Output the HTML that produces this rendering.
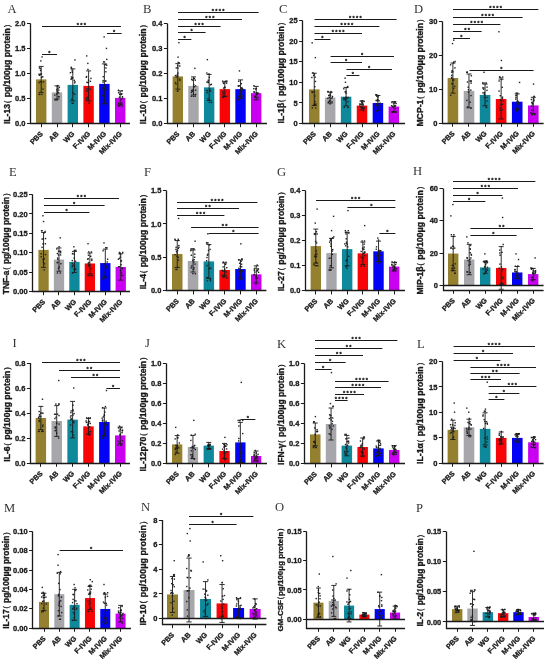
<!DOCTYPE html>
<html><head><meta charset="utf-8"><title>Cytokine bar charts</title><style>
html,body{margin:0;padding:0;background:#fff;}
svg{display:block}
text{font-family:'Liberation Sans', Arial, sans-serif;fill:#1a1a1a}
.tk{font-weight:bold;text-anchor:end;stroke:#1a1a1a;stroke-width:0.3px}
.xl{font-weight:bold;text-anchor:end;stroke:#1a1a1a;stroke-width:0.3px}
.st{font-size:5.6px;font-weight:bold;text-anchor:middle;letter-spacing:1.35px;stroke:#1a1a1a;stroke-width:0.3px}
.lt{font-family:'Liberation Serif', 'Times New Roman', serif;font-size:12.6px;fill:#333}
.yt{font-weight:bold;stroke:#1a1a1a;stroke-width:0.35px;font-family:'Liberation Sans','WenQuanYi Zen Hei',sans-serif}
</style></head>
<body><svg width="550" height="662" viewBox="0 0 550 662">
<g><rect x="36" y="79.4" width="10.4" height="44" fill="#95802f"/><rect x="51.8" y="92.4" width="10.4" height="31" fill="#a7a6ab"/><rect x="67.6" y="84.9" width="10.4" height="38.5" fill="#0e889b"/><rect x="83.4" y="85.9" width="10.4" height="37.5" fill="#f80306"/><rect x="99.2" y="83.9" width="10.4" height="39.5" fill="#0202f6"/><rect x="115" y="97.9" width="10.4" height="25.5" fill="#c900f2"/><rect x="40.87" y="81.36" width="1.4" height="1.4" fill="#222"/><rect x="40" y="73.38" width="1.4" height="1.4" fill="#222"/><rect x="42.79" y="81.05" width="1.4" height="1.4" fill="#222"/><rect x="38.32" y="81.98" width="1.4" height="1.4" fill="#222"/><rect x="42.22" y="88.37" width="1.4" height="1.4" fill="#222"/><rect x="39.49" y="80.92" width="1.4" height="1.4" fill="#222"/><rect x="38.79" y="67.14" width="1.4" height="1.4" fill="#222"/><rect x="38.67" y="74.29" width="1.4" height="1.4" fill="#222"/><rect x="39.58" y="67.92" width="1.4" height="1.4" fill="#222"/><rect x="42.02" y="76.11" width="1.4" height="1.4" fill="#222"/><rect x="38.97" y="74.59" width="1.4" height="1.4" fill="#222"/><rect x="40.89" y="76.77" width="1.4" height="1.4" fill="#222"/><rect x="41.17" y="93.65" width="1.4" height="1.4" fill="#222"/><rect x="39.89" y="69.81" width="1.4" height="1.4" fill="#222"/><rect x="40.73" y="73.43" width="1.4" height="1.4" fill="#222"/><rect x="38.4" y="73.51" width="1.4" height="1.4" fill="#222"/><rect x="38.39" y="93.65" width="1.4" height="1.4" fill="#222"/><rect x="39.09" y="93.65" width="1.4" height="1.4" fill="#222"/><rect x="41.37" y="56.2" width="1.4" height="1.4" fill="#222"/><rect x="40.15" y="60.2" width="1.4" height="1.4" fill="#222"/><rect x="54.09" y="94.41" width="1.4" height="1.4" fill="#222"/><rect x="57.11" y="85.35" width="1.4" height="1.4" fill="#222"/><rect x="57.57" y="95.9" width="1.4" height="1.4" fill="#222"/><rect x="56.65" y="90.43" width="1.4" height="1.4" fill="#222"/><rect x="58.1" y="89.48" width="1.4" height="1.4" fill="#222"/><rect x="55.41" y="99.17" width="1.4" height="1.4" fill="#222"/><rect x="57.24" y="91.45" width="1.4" height="1.4" fill="#222"/><rect x="56.75" y="84.91" width="1.4" height="1.4" fill="#222"/><rect x="56.68" y="99.17" width="1.4" height="1.4" fill="#222"/><rect x="56.09" y="93.37" width="1.4" height="1.4" fill="#222"/><rect x="57.93" y="92.25" width="1.4" height="1.4" fill="#222"/><rect x="58.43" y="95.95" width="1.4" height="1.4" fill="#222"/><rect x="56.18" y="89.11" width="1.4" height="1.4" fill="#222"/><rect x="57.09" y="92.02" width="1.4" height="1.4" fill="#222"/><rect x="54.19" y="99.17" width="1.4" height="1.4" fill="#222"/><rect x="57.27" y="87.4" width="1.4" height="1.4" fill="#222"/><rect x="57.01" y="88.22" width="1.4" height="1.4" fill="#222"/><rect x="58.67" y="86.78" width="1.4" height="1.4" fill="#222"/><rect x="73.63" y="79.63" width="1.4" height="1.4" fill="#222"/><rect x="73.85" y="93.62" width="1.4" height="1.4" fill="#222"/><rect x="71.04" y="98.53" width="1.4" height="1.4" fill="#222"/><rect x="71.69" y="71.69" width="1.4" height="1.4" fill="#222"/><rect x="71.42" y="70.1" width="1.4" height="1.4" fill="#222"/><rect x="73.94" y="82.19" width="1.4" height="1.4" fill="#222"/><rect x="74.3" y="81.05" width="1.4" height="1.4" fill="#222"/><rect x="70.42" y="78.64" width="1.4" height="1.4" fill="#222"/><rect x="70.55" y="66.6" width="1.4" height="1.4" fill="#222"/><rect x="70.81" y="76.28" width="1.4" height="1.4" fill="#222"/><rect x="70.82" y="77.56" width="1.4" height="1.4" fill="#222"/><rect x="72.03" y="77.19" width="1.4" height="1.4" fill="#222"/><rect x="72.53" y="102.6" width="1.4" height="1.4" fill="#222"/><rect x="70.96" y="67.79" width="1.4" height="1.4" fill="#222"/><rect x="69.72" y="71.97" width="1.4" height="1.4" fill="#222"/><rect x="71.71" y="77.42" width="1.4" height="1.4" fill="#222"/><rect x="71.47" y="102.6" width="1.4" height="1.4" fill="#222"/><rect x="72.42" y="92.31" width="1.4" height="1.4" fill="#222"/><rect x="74.27" y="59.2" width="1.4" height="1.4" fill="#222"/><rect x="85.75" y="90.48" width="1.4" height="1.4" fill="#222"/><rect x="85.5" y="98.65" width="1.4" height="1.4" fill="#222"/><rect x="86.23" y="98.52" width="1.4" height="1.4" fill="#222"/><rect x="85.99" y="97.34" width="1.4" height="1.4" fill="#222"/><rect x="87.25" y="68.7" width="1.4" height="1.4" fill="#222"/><rect x="85.62" y="76.64" width="1.4" height="1.4" fill="#222"/><rect x="89.7" y="80.62" width="1.4" height="1.4" fill="#222"/><rect x="88.45" y="102.45" width="1.4" height="1.4" fill="#222"/><rect x="86.21" y="81.65" width="1.4" height="1.4" fill="#222"/><rect x="86.71" y="96.64" width="1.4" height="1.4" fill="#222"/><rect x="87.17" y="89.72" width="1.4" height="1.4" fill="#222"/><rect x="87.25" y="81.87" width="1.4" height="1.4" fill="#222"/><rect x="86.09" y="88.06" width="1.4" height="1.4" fill="#222"/><rect x="89.57" y="88.41" width="1.4" height="1.4" fill="#222"/><rect x="90.27" y="77.71" width="1.4" height="1.4" fill="#222"/><rect x="87.74" y="81.83" width="1.4" height="1.4" fill="#222"/><rect x="87.82" y="79.47" width="1.4" height="1.4" fill="#222"/><rect x="85.91" y="75.88" width="1.4" height="1.4" fill="#222"/><rect x="85.99" y="55.2" width="1.4" height="1.4" fill="#222"/><rect x="87.14" y="62.7" width="1.4" height="1.4" fill="#222"/><rect x="105.04" y="85.98" width="1.4" height="1.4" fill="#222"/><rect x="102.88" y="61.2" width="1.4" height="1.4" fill="#222"/><rect x="102.37" y="81.37" width="1.4" height="1.4" fill="#222"/><rect x="105.2" y="80.26" width="1.4" height="1.4" fill="#222"/><rect x="106.03" y="64.51" width="1.4" height="1.4" fill="#222"/><rect x="105.39" y="89.15" width="1.4" height="1.4" fill="#222"/><rect x="105.17" y="71.08" width="1.4" height="1.4" fill="#222"/><rect x="105.23" y="67.25" width="1.4" height="1.4" fill="#222"/><rect x="104.85" y="63.87" width="1.4" height="1.4" fill="#222"/><rect x="102.39" y="79.88" width="1.4" height="1.4" fill="#222"/><rect x="103.78" y="61.2" width="1.4" height="1.4" fill="#222"/><rect x="103.01" y="87.5" width="1.4" height="1.4" fill="#222"/><rect x="101.44" y="87.33" width="1.4" height="1.4" fill="#222"/><rect x="101.43" y="94.94" width="1.4" height="1.4" fill="#222"/><rect x="102.64" y="89.67" width="1.4" height="1.4" fill="#222"/><rect x="102.54" y="76.01" width="1.4" height="1.4" fill="#222"/><rect x="104.62" y="80.49" width="1.4" height="1.4" fill="#222"/><rect x="105.89" y="102.75" width="1.4" height="1.4" fill="#222"/><rect x="103.45" y="36.2" width="1.4" height="1.4" fill="#222"/><rect x="105.8" y="47.7" width="1.4" height="1.4" fill="#222"/><rect x="106.04" y="58.7" width="1.4" height="1.4" fill="#222"/><rect x="117.96" y="92.08" width="1.4" height="1.4" fill="#222"/><rect x="120.89" y="98.69" width="1.4" height="1.4" fill="#222"/><rect x="118.7" y="96.46" width="1.4" height="1.4" fill="#222"/><rect x="120.94" y="93.25" width="1.4" height="1.4" fill="#222"/><rect x="121.76" y="95.96" width="1.4" height="1.4" fill="#222"/><rect x="119" y="93.62" width="1.4" height="1.4" fill="#222"/><rect x="119.03" y="105.25" width="1.4" height="1.4" fill="#222"/><rect x="121.64" y="105.25" width="1.4" height="1.4" fill="#222"/><rect x="120.58" y="93.76" width="1.4" height="1.4" fill="#222"/><rect x="117.92" y="102.59" width="1.4" height="1.4" fill="#222"/><rect x="117.71" y="102.95" width="1.4" height="1.4" fill="#222"/><rect x="117.83" y="105.25" width="1.4" height="1.4" fill="#222"/><rect x="121.44" y="90.11" width="1.4" height="1.4" fill="#222"/><rect x="120.97" y="93.02" width="1.4" height="1.4" fill="#222"/><rect x="117.8" y="89.5" width="1.4" height="1.4" fill="#222"/><rect x="121.07" y="102.45" width="1.4" height="1.4" fill="#222"/><rect x="121.81" y="97.19" width="1.4" height="1.4" fill="#222"/><rect x="120.25" y="103.59" width="1.4" height="1.4" fill="#222"/><path d="M41.2 66.4V92.4M38.7 66.4H43.7M38.7 92.4H43.7" stroke="#1a1a1a" stroke-width="0.9" fill="none"/><path d="M57 85.9V98.9M54.5 85.9H59.5M54.5 98.9H59.5" stroke="#1a1a1a" stroke-width="0.9" fill="none"/><path d="M72.8 68.9V100.9M70.3 68.9H75.3M70.3 100.9H75.3" stroke="#1a1a1a" stroke-width="0.9" fill="none"/><path d="M88.6 70.9V100.9M86.1 70.9H91.1M86.1 100.9H91.1" stroke="#1a1a1a" stroke-width="0.9" fill="none"/><path d="M104.4 63.9V103.9M101.9 63.9H106.9M101.9 103.9H106.9" stroke="#1a1a1a" stroke-width="0.9" fill="none"/><path d="M120.2 90.9V104.9M117.7 90.9H122.7M117.7 104.9H122.7" stroke="#1a1a1a" stroke-width="0.9" fill="none"/><path d="M30.5 23.4V123.5H130" stroke="#1a1a1a" stroke-width="1.3" fill="none"/><path d="M27 123.5H30.5" stroke="#1a1a1a" stroke-width="1"/><text x="25.5" y="126.1" class="tk" style="font-size:7.5px">0.0</text><path d="M27 98.5H30.5" stroke="#1a1a1a" stroke-width="1"/><text x="25.5" y="101.1" class="tk" style="font-size:7.5px">0.5</text><path d="M27 73.5H30.5" stroke="#1a1a1a" stroke-width="1"/><text x="25.5" y="76.1" class="tk" style="font-size:7.5px">1.0</text><path d="M27 48.5H30.5" stroke="#1a1a1a" stroke-width="1"/><text x="25.5" y="51.1" class="tk" style="font-size:7.5px">1.5</text><path d="M27 23.5H30.5" stroke="#1a1a1a" stroke-width="1"/><text x="25.5" y="26.1" class="tk" style="font-size:7.5px">2.0</text><path d="M41.5 123.4v3.8" stroke="#1a1a1a" stroke-width="1"/><text class="xl" style="font-size:7.2px" transform="translate(43.4 134.4) rotate(-45)">PBS</text><path d="M57.5 123.4v3.8" stroke="#1a1a1a" stroke-width="1"/><text class="xl" style="font-size:7.2px" transform="translate(59.2 134.4) rotate(-45)">AB</text><path d="M72.5 123.4v3.8" stroke="#1a1a1a" stroke-width="1"/><text class="xl" style="font-size:7.2px" transform="translate(75 134.4) rotate(-45)">WG</text><path d="M88.5 123.4v3.8" stroke="#1a1a1a" stroke-width="1"/><text class="xl" style="font-size:7.2px" transform="translate(90.8 134.4) rotate(-45)">F-IVIG</text><path d="M104.5 123.4v3.8" stroke="#1a1a1a" stroke-width="1"/><text class="xl" style="font-size:7.2px" transform="translate(106.6 134.4) rotate(-45)">M-IVIG</text><path d="M120.5 123.4v3.8" stroke="#1a1a1a" stroke-width="1"/><text class="xl" style="font-size:7.2px" transform="translate(122.4 134.4) rotate(-45)">Mix-IVIG</text><path d="M42 26.5H121" stroke="#1a1a1a" stroke-width="1"/><text x="82" y="26.7" class="st">***</text><path d="M107 33.5H121.6" stroke="#1a1a1a" stroke-width="1"/><text x="114.8" y="33.7" class="st">*</text><path d="M42 54.5H57" stroke="#1a1a1a" stroke-width="1"/><text x="50" y="54.7" class="st">*</text><text x="7.5" y="12.8" class="lt">A</text><text class="yt" style="font-size:8.6px" transform="translate(9.5 124.1) rotate(-90)">IL-13<tspan dx="-4.3">（</tspan><tspan> pg/100μg protein）</tspan></text></g>
<g><rect x="172.6" y="76.4" width="10.4" height="47" fill="#95802f"/><rect x="188.28" y="85.9" width="10.4" height="37.5" fill="#a7a6ab"/><rect x="203.96" y="87.4" width="10.4" height="36" fill="#0e889b"/><rect x="219.64" y="89.15" width="10.4" height="34.25" fill="#f80306"/><rect x="235.32" y="89.15" width="10.4" height="34.25" fill="#0202f6"/><rect x="251" y="93.15" width="10.4" height="30.25" fill="#c900f2"/><rect x="175.33" y="83.29" width="1.4" height="1.4" fill="#222"/><rect x="179.07" y="65.31" width="1.4" height="1.4" fill="#222"/><rect x="176.4" y="74.53" width="1.4" height="1.4" fill="#222"/><rect x="176.9" y="74.43" width="1.4" height="1.4" fill="#222"/><rect x="177.5" y="61.68" width="1.4" height="1.4" fill="#222"/><rect x="179.04" y="78.39" width="1.4" height="1.4" fill="#222"/><rect x="176.72" y="90.36" width="1.4" height="1.4" fill="#222"/><rect x="179.11" y="79.65" width="1.4" height="1.4" fill="#222"/><rect x="177.11" y="90.36" width="1.4" height="1.4" fill="#222"/><rect x="177.25" y="67.35" width="1.4" height="1.4" fill="#222"/><rect x="177.21" y="72.47" width="1.4" height="1.4" fill="#222"/><rect x="174.79" y="81.93" width="1.4" height="1.4" fill="#222"/><rect x="176.81" y="75.8" width="1.4" height="1.4" fill="#222"/><rect x="175.58" y="67.21" width="1.4" height="1.4" fill="#222"/><rect x="174.72" y="74.89" width="1.4" height="1.4" fill="#222"/><rect x="178.54" y="62.17" width="1.4" height="1.4" fill="#222"/><rect x="175.53" y="76.33" width="1.4" height="1.4" fill="#222"/><rect x="176.97" y="65.09" width="1.4" height="1.4" fill="#222"/><rect x="178.18" y="41.95" width="1.4" height="1.4" fill="#222"/><rect x="177.37" y="56.45" width="1.4" height="1.4" fill="#222"/><rect x="192.55" y="89.2" width="1.4" height="1.4" fill="#222"/><rect x="192.94" y="77.47" width="1.4" height="1.4" fill="#222"/><rect x="192.67" y="95.55" width="1.4" height="1.4" fill="#222"/><rect x="194.9" y="89.5" width="1.4" height="1.4" fill="#222"/><rect x="193.74" y="77.95" width="1.4" height="1.4" fill="#222"/><rect x="194.59" y="79.49" width="1.4" height="1.4" fill="#222"/><rect x="194.9" y="85.15" width="1.4" height="1.4" fill="#222"/><rect x="191.63" y="79.4" width="1.4" height="1.4" fill="#222"/><rect x="193.07" y="84" width="1.4" height="1.4" fill="#222"/><rect x="194.91" y="93.69" width="1.4" height="1.4" fill="#222"/><rect x="194.41" y="95.55" width="1.4" height="1.4" fill="#222"/><rect x="191.04" y="89.8" width="1.4" height="1.4" fill="#222"/><rect x="190.96" y="78.56" width="1.4" height="1.4" fill="#222"/><rect x="192.5" y="89.27" width="1.4" height="1.4" fill="#222"/><rect x="190.73" y="91.7" width="1.4" height="1.4" fill="#222"/><rect x="191.54" y="90.75" width="1.4" height="1.4" fill="#222"/><rect x="190.73" y="95.55" width="1.4" height="1.4" fill="#222"/><rect x="193.59" y="86.04" width="1.4" height="1.4" fill="#222"/><rect x="194.14" y="67.7" width="1.4" height="1.4" fill="#222"/><rect x="207.59" y="81.89" width="1.4" height="1.4" fill="#222"/><rect x="209.53" y="90.33" width="1.4" height="1.4" fill="#222"/><rect x="206.15" y="89.93" width="1.4" height="1.4" fill="#222"/><rect x="208.72" y="101.64" width="1.4" height="1.4" fill="#222"/><rect x="208.17" y="73.29" width="1.4" height="1.4" fill="#222"/><rect x="206.15" y="72.4" width="1.4" height="1.4" fill="#222"/><rect x="207.65" y="79.53" width="1.4" height="1.4" fill="#222"/><rect x="209.05" y="88.18" width="1.4" height="1.4" fill="#222"/><rect x="208.52" y="76.68" width="1.4" height="1.4" fill="#222"/><rect x="206.37" y="89.78" width="1.4" height="1.4" fill="#222"/><rect x="210.79" y="101.65" width="1.4" height="1.4" fill="#222"/><rect x="209.84" y="84.18" width="1.4" height="1.4" fill="#222"/><rect x="210.72" y="83.64" width="1.4" height="1.4" fill="#222"/><rect x="206.56" y="92.06" width="1.4" height="1.4" fill="#222"/><rect x="207.33" y="98.08" width="1.4" height="1.4" fill="#222"/><rect x="206.25" y="81.48" width="1.4" height="1.4" fill="#222"/><rect x="209.8" y="90.35" width="1.4" height="1.4" fill="#222"/><rect x="207.36" y="80.88" width="1.4" height="1.4" fill="#222"/><rect x="206.68" y="58.95" width="1.4" height="1.4" fill="#222"/><rect x="222.06" y="96.79" width="1.4" height="1.4" fill="#222"/><rect x="225.88" y="82.46" width="1.4" height="1.4" fill="#222"/><rect x="223.92" y="86.57" width="1.4" height="1.4" fill="#222"/><rect x="223.37" y="92.52" width="1.4" height="1.4" fill="#222"/><rect x="224.39" y="80.76" width="1.4" height="1.4" fill="#222"/><rect x="226.19" y="80.48" width="1.4" height="1.4" fill="#222"/><rect x="223.03" y="96.58" width="1.4" height="1.4" fill="#222"/><rect x="222.36" y="92.31" width="1.4" height="1.4" fill="#222"/><rect x="224.27" y="86.76" width="1.4" height="1.4" fill="#222"/><rect x="222.88" y="87.39" width="1.4" height="1.4" fill="#222"/><rect x="222.27" y="90.76" width="1.4" height="1.4" fill="#222"/><rect x="222.51" y="94.1" width="1.4" height="1.4" fill="#222"/><rect x="221.98" y="80.48" width="1.4" height="1.4" fill="#222"/><rect x="222.71" y="82.43" width="1.4" height="1.4" fill="#222"/><rect x="223.24" y="95.38" width="1.4" height="1.4" fill="#222"/><rect x="223.2" y="96.25" width="1.4" height="1.4" fill="#222"/><rect x="225.39" y="80.48" width="1.4" height="1.4" fill="#222"/><rect x="223.13" y="82.71" width="1.4" height="1.4" fill="#222"/><rect x="240.72" y="93.08" width="1.4" height="1.4" fill="#222"/><rect x="242.14" y="88.45" width="1.4" height="1.4" fill="#222"/><rect x="239.06" y="89.26" width="1.4" height="1.4" fill="#222"/><rect x="241.41" y="87.29" width="1.4" height="1.4" fill="#222"/><rect x="240.81" y="88.45" width="1.4" height="1.4" fill="#222"/><rect x="240.47" y="87.15" width="1.4" height="1.4" fill="#222"/><rect x="239.36" y="89.44" width="1.4" height="1.4" fill="#222"/><rect x="239.09" y="97.76" width="1.4" height="1.4" fill="#222"/><rect x="237.68" y="85.33" width="1.4" height="1.4" fill="#222"/><rect x="238.04" y="80.65" width="1.4" height="1.4" fill="#222"/><rect x="237.76" y="85.23" width="1.4" height="1.4" fill="#222"/><rect x="240.98" y="89.85" width="1.4" height="1.4" fill="#222"/><rect x="238.65" y="85.15" width="1.4" height="1.4" fill="#222"/><rect x="238.2" y="95.6" width="1.4" height="1.4" fill="#222"/><rect x="237.83" y="99.09" width="1.4" height="1.4" fill="#222"/><rect x="241.46" y="88.01" width="1.4" height="1.4" fill="#222"/><rect x="241.6" y="95.34" width="1.4" height="1.4" fill="#222"/><rect x="240.64" y="82.98" width="1.4" height="1.4" fill="#222"/><rect x="238.77" y="70.2" width="1.4" height="1.4" fill="#222"/><rect x="255.52" y="92.23" width="1.4" height="1.4" fill="#222"/><rect x="253.12" y="87.96" width="1.4" height="1.4" fill="#222"/><rect x="254.37" y="95.51" width="1.4" height="1.4" fill="#222"/><rect x="253.53" y="91.65" width="1.4" height="1.4" fill="#222"/><rect x="255.02" y="96.43" width="1.4" height="1.4" fill="#222"/><rect x="253.3" y="91.04" width="1.4" height="1.4" fill="#222"/><rect x="253.21" y="85.03" width="1.4" height="1.4" fill="#222"/><rect x="254.56" y="95.89" width="1.4" height="1.4" fill="#222"/><rect x="254.22" y="96.32" width="1.4" height="1.4" fill="#222"/><rect x="255.91" y="93.63" width="1.4" height="1.4" fill="#222"/><rect x="255.64" y="87.91" width="1.4" height="1.4" fill="#222"/><rect x="256.7" y="93.44" width="1.4" height="1.4" fill="#222"/><rect x="256.26" y="92.61" width="1.4" height="1.4" fill="#222"/><rect x="256.54" y="92.25" width="1.4" height="1.4" fill="#222"/><rect x="257.32" y="96.96" width="1.4" height="1.4" fill="#222"/><rect x="254.97" y="88.3" width="1.4" height="1.4" fill="#222"/><rect x="254.67" y="96.07" width="1.4" height="1.4" fill="#222"/><rect x="257.83" y="92.51" width="1.4" height="1.4" fill="#222"/><path d="M177.8 63.65V89.15M175.3 63.65H180.3M175.3 89.15H180.3" stroke="#1a1a1a" stroke-width="0.9" fill="none"/><path d="M193.48 76.9V94.9M190.98 76.9H195.98M190.98 94.9H195.98" stroke="#1a1a1a" stroke-width="0.9" fill="none"/><path d="M209.16 74.4V100.4M206.66 74.4H211.66M206.66 100.4H211.66" stroke="#1a1a1a" stroke-width="0.9" fill="none"/><path d="M224.84 81.9V96.4M222.34 81.9H227.34M222.34 96.4H227.34" stroke="#1a1a1a" stroke-width="0.9" fill="none"/><path d="M240.52 79.9V98.4M238.02 79.9H243.02M238.02 98.4H243.02" stroke="#1a1a1a" stroke-width="0.9" fill="none"/><path d="M256.2 86.4V99.9M253.7 86.4H258.7M253.7 99.9H258.7" stroke="#1a1a1a" stroke-width="0.9" fill="none"/><path d="M167.5 23.4V123.5H267" stroke="#1a1a1a" stroke-width="1.3" fill="none"/><path d="M163.9 123.5H167.4" stroke="#1a1a1a" stroke-width="1"/><text x="162.4" y="126.1" class="tk" style="font-size:7.5px">0.0</text><path d="M163.9 98.5H167.4" stroke="#1a1a1a" stroke-width="1"/><text x="162.4" y="101.1" class="tk" style="font-size:7.5px">0.1</text><path d="M163.9 73.5H167.4" stroke="#1a1a1a" stroke-width="1"/><text x="162.4" y="76.1" class="tk" style="font-size:7.5px">0.2</text><path d="M163.9 48.5H167.4" stroke="#1a1a1a" stroke-width="1"/><text x="162.4" y="51.1" class="tk" style="font-size:7.5px">0.3</text><path d="M163.9 23.5H167.4" stroke="#1a1a1a" stroke-width="1"/><text x="162.4" y="26.1" class="tk" style="font-size:7.5px">0.4</text><path d="M177.5 123.4v3.8" stroke="#1a1a1a" stroke-width="1"/><text class="xl" style="font-size:7.2px" transform="translate(180 134.4) rotate(-45)">PBS</text><path d="M193.5 123.4v3.8" stroke="#1a1a1a" stroke-width="1"/><text class="xl" style="font-size:7.2px" transform="translate(195.68 134.4) rotate(-45)">AB</text><path d="M209.5 123.4v3.8" stroke="#1a1a1a" stroke-width="1"/><text class="xl" style="font-size:7.2px" transform="translate(211.36 134.4) rotate(-45)">WG</text><path d="M224.5 123.4v3.8" stroke="#1a1a1a" stroke-width="1"/><text class="xl" style="font-size:7.2px" transform="translate(227.04 134.4) rotate(-45)">F-IVIG</text><path d="M240.5 123.4v3.8" stroke="#1a1a1a" stroke-width="1"/><text class="xl" style="font-size:7.2px" transform="translate(242.72 134.4) rotate(-45)">M-IVIG</text><path d="M256.5 123.4v3.8" stroke="#1a1a1a" stroke-width="1"/><text class="xl" style="font-size:7.2px" transform="translate(258.4 134.4) rotate(-45)">Mix-IVIG</text><path d="M178 12.5H258.6" stroke="#1a1a1a" stroke-width="1"/><text x="218.8" y="12.7" class="st">****</text><path d="M178 19.5H242" stroke="#1a1a1a" stroke-width="1"/><text x="210.5" y="19.7" class="st">***</text><path d="M178 26.5H220.6" stroke="#1a1a1a" stroke-width="1"/><text x="199.8" y="26.7" class="st">***</text><path d="M178 32.5H205.6" stroke="#1a1a1a" stroke-width="1"/><text x="192.3" y="32.7" class="st">*</text><path d="M178 39.5H191.4" stroke="#1a1a1a" stroke-width="1"/><text x="185.2" y="39.7" class="st">*</text><text x="143" y="13" class="lt">B</text><text class="yt" style="font-size:8.57px" transform="translate(145.6 124.2) rotate(-90)">IL-10<tspan dx="-4.29">（</tspan><tspan> pg/100μg protein）</tspan></text></g>
<g><rect x="309" y="89.39" width="10.5" height="34.01" fill="#95802f"/><rect x="324.92" y="97.62" width="10.5" height="25.78" fill="#a7a6ab"/><rect x="340.84" y="96.67" width="10.5" height="26.73" fill="#0e889b"/><rect x="356.76" y="105.6" width="10.5" height="17.8" fill="#f80306"/><rect x="372.68" y="103" width="10.5" height="20.4" fill="#0202f6"/><rect x="388.6" y="106.58" width="10.5" height="16.82" fill="#c900f2"/><rect x="314.48" y="76.44" width="1.4" height="1.4" fill="#222"/><rect x="312.25" y="71.95" width="1.4" height="1.4" fill="#222"/><rect x="311.3" y="91.1" width="1.4" height="1.4" fill="#222"/><rect x="311.79" y="91.72" width="1.4" height="1.4" fill="#222"/><rect x="312.88" y="74.77" width="1.4" height="1.4" fill="#222"/><rect x="311.65" y="107.28" width="1.4" height="1.4" fill="#222"/><rect x="315.16" y="103.35" width="1.4" height="1.4" fill="#222"/><rect x="313.83" y="103.78" width="1.4" height="1.4" fill="#222"/><rect x="314.16" y="86" width="1.4" height="1.4" fill="#222"/><rect x="314.16" y="95.24" width="1.4" height="1.4" fill="#222"/><rect x="314.42" y="103.84" width="1.4" height="1.4" fill="#222"/><rect x="313.5" y="90.97" width="1.4" height="1.4" fill="#222"/><rect x="311.17" y="76.81" width="1.4" height="1.4" fill="#222"/><rect x="314.98" y="107.28" width="1.4" height="1.4" fill="#222"/><rect x="314.74" y="80.78" width="1.4" height="1.4" fill="#222"/><rect x="313.56" y="103.88" width="1.4" height="1.4" fill="#222"/><rect x="313.72" y="73.38" width="1.4" height="1.4" fill="#222"/><rect x="314.31" y="100.91" width="1.4" height="1.4" fill="#222"/><rect x="311.47" y="42.1" width="1.4" height="1.4" fill="#222"/><rect x="314.69" y="56.91" width="1.4" height="1.4" fill="#222"/><rect x="328.53" y="96.94" width="1.4" height="1.4" fill="#222"/><rect x="329.8" y="95.2" width="1.4" height="1.4" fill="#222"/><rect x="327.13" y="97.61" width="1.4" height="1.4" fill="#222"/><rect x="327.36" y="90.9" width="1.4" height="1.4" fill="#222"/><rect x="328.36" y="94.92" width="1.4" height="1.4" fill="#222"/><rect x="330.3" y="90.9" width="1.4" height="1.4" fill="#222"/><rect x="330.39" y="91.87" width="1.4" height="1.4" fill="#222"/><rect x="330.31" y="97.69" width="1.4" height="1.4" fill="#222"/><rect x="328.47" y="100.61" width="1.4" height="1.4" fill="#222"/><rect x="329.55" y="93.56" width="1.4" height="1.4" fill="#222"/><rect x="329.3" y="99.94" width="1.4" height="1.4" fill="#222"/><rect x="329.31" y="103.21" width="1.4" height="1.4" fill="#222"/><rect x="327.64" y="101.57" width="1.4" height="1.4" fill="#222"/><rect x="331.36" y="101.13" width="1.4" height="1.4" fill="#222"/><rect x="328.03" y="94.73" width="1.4" height="1.4" fill="#222"/><rect x="331.77" y="95.76" width="1.4" height="1.4" fill="#222"/><rect x="331.56" y="97.1" width="1.4" height="1.4" fill="#222"/><rect x="327.15" y="90.9" width="1.4" height="1.4" fill="#222"/><rect x="347.3" y="106.61" width="1.4" height="1.4" fill="#222"/><rect x="345.32" y="92.48" width="1.4" height="1.4" fill="#222"/><rect x="343.11" y="88.05" width="1.4" height="1.4" fill="#222"/><rect x="343.01" y="97.58" width="1.4" height="1.4" fill="#222"/><rect x="345.35" y="96.57" width="1.4" height="1.4" fill="#222"/><rect x="345.15" y="90.93" width="1.4" height="1.4" fill="#222"/><rect x="344.44" y="91.17" width="1.4" height="1.4" fill="#222"/><rect x="343.67" y="97.68" width="1.4" height="1.4" fill="#222"/><rect x="344.64" y="99.54" width="1.4" height="1.4" fill="#222"/><rect x="344.51" y="97.98" width="1.4" height="1.4" fill="#222"/><rect x="347.02" y="106.61" width="1.4" height="1.4" fill="#222"/><rect x="343" y="98.73" width="1.4" height="1.4" fill="#222"/><rect x="346.59" y="86.75" width="1.4" height="1.4" fill="#222"/><rect x="347.02" y="85.82" width="1.4" height="1.4" fill="#222"/><rect x="343.57" y="106.61" width="1.4" height="1.4" fill="#222"/><rect x="347.44" y="96.82" width="1.4" height="1.4" fill="#222"/><rect x="346.41" y="97.52" width="1.4" height="1.4" fill="#222"/><rect x="347.32" y="101.11" width="1.4" height="1.4" fill="#222"/><rect x="344.38" y="77.47" width="1.4" height="1.4" fill="#222"/><rect x="344.78" y="81.58" width="1.4" height="1.4" fill="#222"/><rect x="362.81" y="109.95" width="1.4" height="1.4" fill="#222"/><rect x="361.94" y="100.06" width="1.4" height="1.4" fill="#222"/><rect x="363.29" y="107.72" width="1.4" height="1.4" fill="#222"/><rect x="363.43" y="106.66" width="1.4" height="1.4" fill="#222"/><rect x="361.55" y="107.44" width="1.4" height="1.4" fill="#222"/><rect x="362.36" y="103.66" width="1.4" height="1.4" fill="#222"/><rect x="359.15" y="103.34" width="1.4" height="1.4" fill="#222"/><rect x="362.43" y="104.41" width="1.4" height="1.4" fill="#222"/><rect x="361.07" y="103.43" width="1.4" height="1.4" fill="#222"/><rect x="362.52" y="107.38" width="1.4" height="1.4" fill="#222"/><rect x="362" y="102.44" width="1.4" height="1.4" fill="#222"/><rect x="360.28" y="105.94" width="1.4" height="1.4" fill="#222"/><rect x="359.15" y="105.31" width="1.4" height="1.4" fill="#222"/><rect x="363.36" y="100.71" width="1.4" height="1.4" fill="#222"/><rect x="359.52" y="103.64" width="1.4" height="1.4" fill="#222"/><rect x="361.18" y="101.73" width="1.4" height="1.4" fill="#222"/><rect x="360.56" y="100.06" width="1.4" height="1.4" fill="#222"/><rect x="360.34" y="106.88" width="1.4" height="1.4" fill="#222"/><rect x="375.27" y="103.44" width="1.4" height="1.4" fill="#222"/><rect x="376.47" y="111.01" width="1.4" height="1.4" fill="#222"/><rect x="375.27" y="102.87" width="1.4" height="1.4" fill="#222"/><rect x="375.98" y="93.98" width="1.4" height="1.4" fill="#222"/><rect x="376.07" y="104.73" width="1.4" height="1.4" fill="#222"/><rect x="377.56" y="94.97" width="1.4" height="1.4" fill="#222"/><rect x="379.09" y="105.19" width="1.4" height="1.4" fill="#222"/><rect x="378.43" y="100.05" width="1.4" height="1.4" fill="#222"/><rect x="376.81" y="100.13" width="1.4" height="1.4" fill="#222"/><rect x="376.82" y="98.79" width="1.4" height="1.4" fill="#222"/><rect x="377.35" y="96.41" width="1.4" height="1.4" fill="#222"/><rect x="376.64" y="106.26" width="1.4" height="1.4" fill="#222"/><rect x="376.45" y="99.84" width="1.4" height="1.4" fill="#222"/><rect x="375.13" y="93.98" width="1.4" height="1.4" fill="#222"/><rect x="376.16" y="95.69" width="1.4" height="1.4" fill="#222"/><rect x="379.47" y="102.45" width="1.4" height="1.4" fill="#222"/><rect x="375.43" y="99.77" width="1.4" height="1.4" fill="#222"/><rect x="377.25" y="99.26" width="1.4" height="1.4" fill="#222"/><rect x="395.2" y="111.33" width="1.4" height="1.4" fill="#222"/><rect x="394.71" y="111.6" width="1.4" height="1.4" fill="#222"/><rect x="394.86" y="105.21" width="1.4" height="1.4" fill="#222"/><rect x="395.42" y="102.79" width="1.4" height="1.4" fill="#222"/><rect x="391.94" y="105.84" width="1.4" height="1.4" fill="#222"/><rect x="391.27" y="101.86" width="1.4" height="1.4" fill="#222"/><rect x="391.49" y="111.6" width="1.4" height="1.4" fill="#222"/><rect x="393.26" y="102.59" width="1.4" height="1.4" fill="#222"/><rect x="394.02" y="101.18" width="1.4" height="1.4" fill="#222"/><rect x="395.27" y="111.6" width="1.4" height="1.4" fill="#222"/><rect x="394.21" y="104.87" width="1.4" height="1.4" fill="#222"/><rect x="393.86" y="105.74" width="1.4" height="1.4" fill="#222"/><rect x="394.42" y="108.01" width="1.4" height="1.4" fill="#222"/><rect x="392.95" y="111.6" width="1.4" height="1.4" fill="#222"/><rect x="393.4" y="111.1" width="1.4" height="1.4" fill="#222"/><rect x="390.94" y="105" width="1.4" height="1.4" fill="#222"/><rect x="394.51" y="101.91" width="1.4" height="1.4" fill="#222"/><rect x="391.87" y="105.88" width="1.4" height="1.4" fill="#222"/><path d="M314.25 73.23V105.55M311.73 73.23H316.77M311.73 105.55H316.77" stroke="#1a1a1a" stroke-width="0.9" fill="none"/><path d="M330.17 92.15V103.09M327.65 92.15H332.69M327.65 103.09H332.69" stroke="#1a1a1a" stroke-width="0.9" fill="none"/><path d="M346.09 87.42V105.92M343.57 87.42H348.61M343.57 105.92H348.61" stroke="#1a1a1a" stroke-width="0.9" fill="none"/><path d="M362.01 101.2V109.99M359.49 101.2H364.53M359.49 109.99H364.53" stroke="#1a1a1a" stroke-width="0.9" fill="none"/><path d="M377.93 95.44V110.57M375.41 95.44H380.45M375.41 110.57H380.45" stroke="#1a1a1a" stroke-width="0.9" fill="none"/><path d="M393.85 101.61V111.56M391.33 101.61H396.37M391.33 111.56H396.37" stroke="#1a1a1a" stroke-width="0.9" fill="none"/><path d="M302.5 20.6V123.5H405" stroke="#1a1a1a" stroke-width="1.3" fill="none"/><path d="M299.1 123.5H302.6" stroke="#1a1a1a" stroke-width="1"/><text x="297.6" y="126.1" class="tk" style="font-size:7.5px">0</text><path d="M299.1 102.5H302.6" stroke="#1a1a1a" stroke-width="1"/><text x="297.6" y="105.54" class="tk" style="font-size:7.5px">5</text><path d="M299.1 82.5H302.6" stroke="#1a1a1a" stroke-width="1"/><text x="297.6" y="84.98" class="tk" style="font-size:7.5px">10</text><path d="M299.1 61.5H302.6" stroke="#1a1a1a" stroke-width="1"/><text x="297.6" y="64.42" class="tk" style="font-size:7.5px">15</text><path d="M299.1 41.5H302.6" stroke="#1a1a1a" stroke-width="1"/><text x="297.6" y="43.86" class="tk" style="font-size:7.5px">20</text><path d="M299.1 20.5H302.6" stroke="#1a1a1a" stroke-width="1"/><text x="297.6" y="23.3" class="tk" style="font-size:7.5px">25</text><path d="M314.5 123.4v3.8" stroke="#1a1a1a" stroke-width="1"/><text class="xl" style="font-size:7.2px" transform="translate(316.45 134.4) rotate(-45)">PBS</text><path d="M330.5 123.4v3.8" stroke="#1a1a1a" stroke-width="1"/><text class="xl" style="font-size:7.2px" transform="translate(332.37 134.4) rotate(-45)">AB</text><path d="M346.5 123.4v3.8" stroke="#1a1a1a" stroke-width="1"/><text class="xl" style="font-size:7.2px" transform="translate(348.29 134.4) rotate(-45)">WG</text><path d="M362.5 123.4v3.8" stroke="#1a1a1a" stroke-width="1"/><text class="xl" style="font-size:7.2px" transform="translate(364.21 134.4) rotate(-45)">F-IVIG</text><path d="M377.5 123.4v3.8" stroke="#1a1a1a" stroke-width="1"/><text class="xl" style="font-size:7.2px" transform="translate(380.13 134.4) rotate(-45)">M-IVIG</text><path d="M393.5 123.4v3.8" stroke="#1a1a1a" stroke-width="1"/><text class="xl" style="font-size:7.2px" transform="translate(396.05 134.4) rotate(-45)">Mix-IVIG</text><path d="M314.5 19.5H396.6" stroke="#1a1a1a" stroke-width="1"/><text x="356.05" y="19.7" class="st">****</text><path d="M314.5 26.5H379.4" stroke="#1a1a1a" stroke-width="1"/><text x="347.45" y="26.7" class="st">****</text><path d="M314.5 33.5H362" stroke="#1a1a1a" stroke-width="1"/><text x="338.75" y="33.7" class="st">****</text><path d="M314.5 39.5H330.4" stroke="#1a1a1a" stroke-width="1"/><text x="322.95" y="39.7" class="st">*</text><path d="M330.6 56.5H394" stroke="#1a1a1a" stroke-width="1"/><text x="362.8" y="56.7" class="st">*</text><path d="M330.6 62.5H362" stroke="#1a1a1a" stroke-width="1"/><text x="346.8" y="62.7" class="st">*</text><path d="M346.4 69.5H392" stroke="#1a1a1a" stroke-width="1"/><text x="369.7" y="69.7" class="st">*</text><path d="M346.4 75.5H359.4" stroke="#1a1a1a" stroke-width="1"/><text x="353.4" y="75.7" class="st">*</text><text x="279" y="13" class="lt">C</text><text class="yt" style="font-size:8.68px" transform="translate(283.7 123.5) rotate(-90)">IL-1β<tspan dx="-4.34">（</tspan><tspan> pg/100μg protein）</tspan></text></g>
<g><rect x="447.6" y="78.05" width="10.6" height="44.95" fill="#95802f"/><rect x="463.68" y="90.89" width="10.6" height="32.11" fill="#a7a6ab"/><rect x="479.76" y="94.95" width="10.6" height="28.05" fill="#0e889b"/><rect x="495.84" y="99" width="10.6" height="24" fill="#f80306"/><rect x="511.92" y="101.71" width="10.6" height="21.29" fill="#0202f6"/><rect x="528" y="105.42" width="10.6" height="17.58" fill="#c900f2"/><rect x="452.89" y="62.16" width="1.4" height="1.4" fill="#222"/><rect x="454.04" y="85.7" width="1.4" height="1.4" fill="#222"/><rect x="452.08" y="79.43" width="1.4" height="1.4" fill="#222"/><rect x="450.93" y="71.41" width="1.4" height="1.4" fill="#222"/><rect x="450.99" y="77.54" width="1.4" height="1.4" fill="#222"/><rect x="454.41" y="60.8" width="1.4" height="1.4" fill="#222"/><rect x="453.18" y="79.21" width="1.4" height="1.4" fill="#222"/><rect x="451.28" y="82.91" width="1.4" height="1.4" fill="#222"/><rect x="449.9" y="64.09" width="1.4" height="1.4" fill="#222"/><rect x="452.19" y="71.07" width="1.4" height="1.4" fill="#222"/><rect x="453.04" y="87.69" width="1.4" height="1.4" fill="#222"/><rect x="451.82" y="83.28" width="1.4" height="1.4" fill="#222"/><rect x="451.03" y="74.65" width="1.4" height="1.4" fill="#222"/><rect x="453" y="61.26" width="1.4" height="1.4" fill="#222"/><rect x="454.24" y="67.17" width="1.4" height="1.4" fill="#222"/><rect x="450.89" y="76.68" width="1.4" height="1.4" fill="#222"/><rect x="449.96" y="94.64" width="1.4" height="1.4" fill="#222"/><rect x="451.42" y="69.91" width="1.4" height="1.4" fill="#222"/><rect x="451.82" y="42.87" width="1.4" height="1.4" fill="#222"/><rect x="453.08" y="39.49" width="1.4" height="1.4" fill="#222"/><rect x="470.43" y="82.45" width="1.4" height="1.4" fill="#222"/><rect x="466.58" y="71.6" width="1.4" height="1.4" fill="#222"/><rect x="467.77" y="91.28" width="1.4" height="1.4" fill="#222"/><rect x="466.9" y="106.18" width="1.4" height="1.4" fill="#222"/><rect x="470.56" y="80.25" width="1.4" height="1.4" fill="#222"/><rect x="466.56" y="71.6" width="1.4" height="1.4" fill="#222"/><rect x="466.13" y="99.66" width="1.4" height="1.4" fill="#222"/><rect x="466.17" y="71.6" width="1.4" height="1.4" fill="#222"/><rect x="467.77" y="89.04" width="1.4" height="1.4" fill="#222"/><rect x="470.19" y="80.69" width="1.4" height="1.4" fill="#222"/><rect x="470.12" y="89.45" width="1.4" height="1.4" fill="#222"/><rect x="469.4" y="101.47" width="1.4" height="1.4" fill="#222"/><rect x="470.67" y="75.08" width="1.4" height="1.4" fill="#222"/><rect x="470.35" y="94.9" width="1.4" height="1.4" fill="#222"/><rect x="467.46" y="86.5" width="1.4" height="1.4" fill="#222"/><rect x="466.77" y="81.31" width="1.4" height="1.4" fill="#222"/><rect x="470.37" y="107.54" width="1.4" height="1.4" fill="#222"/><rect x="469.46" y="80.23" width="1.4" height="1.4" fill="#222"/><rect x="484.23" y="82.35" width="1.4" height="1.4" fill="#222"/><rect x="483.75" y="91.7" width="1.4" height="1.4" fill="#222"/><rect x="486.37" y="100.3" width="1.4" height="1.4" fill="#222"/><rect x="482.89" y="88.46" width="1.4" height="1.4" fill="#222"/><rect x="483.71" y="96.83" width="1.4" height="1.4" fill="#222"/><rect x="486.27" y="89.66" width="1.4" height="1.4" fill="#222"/><rect x="482.11" y="87.24" width="1.4" height="1.4" fill="#222"/><rect x="483.93" y="94.12" width="1.4" height="1.4" fill="#222"/><rect x="485.86" y="106.68" width="1.4" height="1.4" fill="#222"/><rect x="485.64" y="82.35" width="1.4" height="1.4" fill="#222"/><rect x="482.16" y="82.35" width="1.4" height="1.4" fill="#222"/><rect x="482.13" y="82.35" width="1.4" height="1.4" fill="#222"/><rect x="482.26" y="92.1" width="1.4" height="1.4" fill="#222"/><rect x="486.38" y="86.41" width="1.4" height="1.4" fill="#222"/><rect x="483.19" y="87.26" width="1.4" height="1.4" fill="#222"/><rect x="485.55" y="106.68" width="1.4" height="1.4" fill="#222"/><rect x="486.27" y="96.75" width="1.4" height="1.4" fill="#222"/><rect x="483.59" y="93.11" width="1.4" height="1.4" fill="#222"/><rect x="483.27" y="71.6" width="1.4" height="1.4" fill="#222"/><rect x="500.1" y="76.98" width="1.4" height="1.4" fill="#222"/><rect x="500.41" y="104.11" width="1.4" height="1.4" fill="#222"/><rect x="502.49" y="100.24" width="1.4" height="1.4" fill="#222"/><rect x="498.92" y="76.37" width="1.4" height="1.4" fill="#222"/><rect x="501.89" y="103.5" width="1.4" height="1.4" fill="#222"/><rect x="501.58" y="86.59" width="1.4" height="1.4" fill="#222"/><rect x="501.99" y="76.37" width="1.4" height="1.4" fill="#222"/><rect x="501.75" y="97.67" width="1.4" height="1.4" fill="#222"/><rect x="500.95" y="78.73" width="1.4" height="1.4" fill="#222"/><rect x="499.61" y="109.64" width="1.4" height="1.4" fill="#222"/><rect x="499.57" y="94.99" width="1.4" height="1.4" fill="#222"/><rect x="499.78" y="99.54" width="1.4" height="1.4" fill="#222"/><rect x="501.79" y="96.47" width="1.4" height="1.4" fill="#222"/><rect x="498.42" y="80.28" width="1.4" height="1.4" fill="#222"/><rect x="498.99" y="76.37" width="1.4" height="1.4" fill="#222"/><rect x="501.65" y="108.92" width="1.4" height="1.4" fill="#222"/><rect x="499.23" y="107.48" width="1.4" height="1.4" fill="#222"/><rect x="498.35" y="90.37" width="1.4" height="1.4" fill="#222"/><rect x="498.2" y="31.04" width="1.4" height="1.4" fill="#222"/><rect x="500.69" y="59.77" width="1.4" height="1.4" fill="#222"/><rect x="518.16" y="108.99" width="1.4" height="1.4" fill="#222"/><rect x="515.53" y="92.45" width="1.4" height="1.4" fill="#222"/><rect x="516.84" y="92.45" width="1.4" height="1.4" fill="#222"/><rect x="515.91" y="109.95" width="1.4" height="1.4" fill="#222"/><rect x="517.66" y="101.25" width="1.4" height="1.4" fill="#222"/><rect x="515.08" y="98.41" width="1.4" height="1.4" fill="#222"/><rect x="515.31" y="95" width="1.4" height="1.4" fill="#222"/><rect x="515.3" y="96.85" width="1.4" height="1.4" fill="#222"/><rect x="514.86" y="102.7" width="1.4" height="1.4" fill="#222"/><rect x="518.36" y="107.56" width="1.4" height="1.4" fill="#222"/><rect x="516.9" y="100.37" width="1.4" height="1.4" fill="#222"/><rect x="515.69" y="94.58" width="1.4" height="1.4" fill="#222"/><rect x="516.02" y="107.78" width="1.4" height="1.4" fill="#222"/><rect x="518.88" y="107.39" width="1.4" height="1.4" fill="#222"/><rect x="516.56" y="101.16" width="1.4" height="1.4" fill="#222"/><rect x="515.23" y="109.95" width="1.4" height="1.4" fill="#222"/><rect x="518" y="102.62" width="1.4" height="1.4" fill="#222"/><rect x="517.26" y="103.72" width="1.4" height="1.4" fill="#222"/><rect x="518.88" y="81.74" width="1.4" height="1.4" fill="#222"/><rect x="530.71" y="98.83" width="1.4" height="1.4" fill="#222"/><rect x="533.06" y="100.31" width="1.4" height="1.4" fill="#222"/><rect x="533.18" y="99.49" width="1.4" height="1.4" fill="#222"/><rect x="531.24" y="114.05" width="1.4" height="1.4" fill="#222"/><rect x="531.97" y="103.12" width="1.4" height="1.4" fill="#222"/><rect x="530.88" y="105.68" width="1.4" height="1.4" fill="#222"/><rect x="531.18" y="105.61" width="1.4" height="1.4" fill="#222"/><rect x="531.42" y="101.58" width="1.4" height="1.4" fill="#222"/><rect x="533.08" y="98.26" width="1.4" height="1.4" fill="#222"/><rect x="533.33" y="95.8" width="1.4" height="1.4" fill="#222"/><rect x="531.18" y="114.05" width="1.4" height="1.4" fill="#222"/><rect x="530.25" y="112.2" width="1.4" height="1.4" fill="#222"/><rect x="531.77" y="113.77" width="1.4" height="1.4" fill="#222"/><rect x="533.46" y="95.8" width="1.4" height="1.4" fill="#222"/><rect x="531.09" y="109.5" width="1.4" height="1.4" fill="#222"/><rect x="531.7" y="103.14" width="1.4" height="1.4" fill="#222"/><rect x="531.18" y="102" width="1.4" height="1.4" fill="#222"/><rect x="534.02" y="114.05" width="1.4" height="1.4" fill="#222"/><rect x="532.83" y="83.43" width="1.4" height="1.4" fill="#222"/><path d="M452.9 63V93.09M450.36 63H455.44M450.36 93.09H455.44" stroke="#1a1a1a" stroke-width="0.9" fill="none"/><path d="M468.98 73.99V107.79M466.44 73.99H471.52M466.44 107.79H471.52" stroke="#1a1a1a" stroke-width="0.9" fill="none"/><path d="M485.06 84.13V105.76M482.52 84.13H487.6M482.52 105.76H487.6" stroke="#1a1a1a" stroke-width="0.9" fill="none"/><path d="M501.14 79.06V118.94M498.6 79.06H503.68M498.6 118.94H503.68" stroke="#1a1a1a" stroke-width="0.9" fill="none"/><path d="M517.22 93.93V109.48M514.68 93.93H519.76M514.68 109.48H519.76" stroke="#1a1a1a" stroke-width="0.9" fill="none"/><path d="M533.3 97.31V113.54M530.76 97.31H535.84M530.76 113.54H535.84" stroke="#1a1a1a" stroke-width="0.9" fill="none"/><path d="M442.5 21.6V123.5H543.6" stroke="#1a1a1a" stroke-width="1.3" fill="none"/><path d="M438.9 123.5H442.4" stroke="#1a1a1a" stroke-width="1"/><text x="437.4" y="125.7" class="tk" style="font-size:7.5px">0</text><path d="M438.9 89.5H442.4" stroke="#1a1a1a" stroke-width="1"/><text x="437.4" y="91.9" class="tk" style="font-size:7.5px">10</text><path d="M438.9 55.5H442.4" stroke="#1a1a1a" stroke-width="1"/><text x="437.4" y="58.1" class="tk" style="font-size:7.5px">20</text><path d="M438.9 21.5H442.4" stroke="#1a1a1a" stroke-width="1"/><text x="437.4" y="24.3" class="tk" style="font-size:7.5px">30</text><path d="M452.5 123v3.8" stroke="#1a1a1a" stroke-width="1"/><text class="xl" style="font-size:7.2px" transform="translate(455.1 134) rotate(-45)">PBS</text><path d="M468.5 123v3.8" stroke="#1a1a1a" stroke-width="1"/><text class="xl" style="font-size:7.2px" transform="translate(471.18 134) rotate(-45)">AB</text><path d="M485.5 123v3.8" stroke="#1a1a1a" stroke-width="1"/><text class="xl" style="font-size:7.2px" transform="translate(487.26 134) rotate(-45)">WG</text><path d="M501.5 123v3.8" stroke="#1a1a1a" stroke-width="1"/><text class="xl" style="font-size:7.2px" transform="translate(503.34 134) rotate(-45)">F-IVIG</text><path d="M517.5 123v3.8" stroke="#1a1a1a" stroke-width="1"/><text class="xl" style="font-size:7.2px" transform="translate(519.42 134) rotate(-45)">M-IVIG</text><path d="M533.5 123v3.8" stroke="#1a1a1a" stroke-width="1"/><text class="xl" style="font-size:7.2px" transform="translate(535.5 134) rotate(-45)">Mix-IVIG</text><path d="M453 9.5H538.4" stroke="#1a1a1a" stroke-width="1"/><text x="496.2" y="9.7" class="st">****</text><path d="M453 17.5H522.6" stroke="#1a1a1a" stroke-width="1"/><text x="488.3" y="17.7" class="st">****</text><path d="M453 24.5H500.4" stroke="#1a1a1a" stroke-width="1"/><text x="477.2" y="24.7" class="st">****</text><path d="M453 31.5H481.6" stroke="#1a1a1a" stroke-width="1"/><text x="467.8" y="31.7" class="st">**</text><path d="M453 38.5H470" stroke="#1a1a1a" stroke-width="1"/><text x="462" y="38.7" class="st">*</text><path d="M469.6 70.5H533.6" stroke="#1a1a1a" stroke-width="1"/><text x="502.1" y="70.7" class="st">*</text><text x="414" y="12.6" class="lt">D</text><text class="yt" style="font-size:8.69px" transform="translate(423 126.6) rotate(-90)">MCP-1<tspan dx="-4.34">（</tspan><tspan> pg/100μg protein）</tspan></text></g>
<g><rect x="38.4" y="249.88" width="10.3" height="41.52" fill="#95802f"/><rect x="53.84" y="259.58" width="10.3" height="31.82" fill="#a7a6ab"/><rect x="69.28" y="261.91" width="10.3" height="29.49" fill="#0e889b"/><rect x="84.72" y="263.46" width="10.3" height="27.94" fill="#f80306"/><rect x="100.16" y="263.08" width="10.3" height="28.32" fill="#0202f6"/><rect x="115.6" y="266.96" width="10.3" height="24.44" fill="#c900f2"/><rect x="42.2" y="243.23" width="1.4" height="1.4" fill="#222"/><rect x="41.4" y="246.68" width="1.4" height="1.4" fill="#222"/><rect x="43.94" y="263.15" width="1.4" height="1.4" fill="#222"/><rect x="41.43" y="238.39" width="1.4" height="1.4" fill="#222"/><rect x="40.48" y="253.1" width="1.4" height="1.4" fill="#222"/><rect x="44.78" y="253.87" width="1.4" height="1.4" fill="#222"/><rect x="42.48" y="238.07" width="1.4" height="1.4" fill="#222"/><rect x="44.39" y="230.74" width="1.4" height="1.4" fill="#222"/><rect x="42.4" y="258.8" width="1.4" height="1.4" fill="#222"/><rect x="44.69" y="243.06" width="1.4" height="1.4" fill="#222"/><rect x="42.66" y="261.42" width="1.4" height="1.4" fill="#222"/><rect x="41.23" y="229.98" width="1.4" height="1.4" fill="#222"/><rect x="40.52" y="256.08" width="1.4" height="1.4" fill="#222"/><rect x="43.1" y="232.49" width="1.4" height="1.4" fill="#222"/><rect x="43.53" y="258.23" width="1.4" height="1.4" fill="#222"/><rect x="44.82" y="237.85" width="1.4" height="1.4" fill="#222"/><rect x="40.88" y="229.98" width="1.4" height="1.4" fill="#222"/><rect x="43.44" y="269.26" width="1.4" height="1.4" fill="#222"/><rect x="42.23" y="215.04" width="1.4" height="1.4" fill="#222"/><rect x="42.87" y="220.86" width="1.4" height="1.4" fill="#222"/><rect x="59.85" y="254.26" width="1.4" height="1.4" fill="#222"/><rect x="56.66" y="252.85" width="1.4" height="1.4" fill="#222"/><rect x="59.66" y="272.27" width="1.4" height="1.4" fill="#222"/><rect x="56.96" y="261.7" width="1.4" height="1.4" fill="#222"/><rect x="57.83" y="250.5" width="1.4" height="1.4" fill="#222"/><rect x="59.95" y="252.05" width="1.4" height="1.4" fill="#222"/><rect x="59.87" y="250.68" width="1.4" height="1.4" fill="#222"/><rect x="56.77" y="272.27" width="1.4" height="1.4" fill="#222"/><rect x="56.94" y="257.31" width="1.4" height="1.4" fill="#222"/><rect x="57.81" y="254.3" width="1.4" height="1.4" fill="#222"/><rect x="58.38" y="246.08" width="1.4" height="1.4" fill="#222"/><rect x="57.73" y="267.77" width="1.4" height="1.4" fill="#222"/><rect x="56.48" y="261.95" width="1.4" height="1.4" fill="#222"/><rect x="57.08" y="258.55" width="1.4" height="1.4" fill="#222"/><rect x="59.37" y="250.63" width="1.4" height="1.4" fill="#222"/><rect x="60.2" y="263.01" width="1.4" height="1.4" fill="#222"/><rect x="56.09" y="248.2" width="1.4" height="1.4" fill="#222"/><rect x="58.59" y="266.22" width="1.4" height="1.4" fill="#222"/><rect x="59.53" y="237.16" width="1.4" height="1.4" fill="#222"/><rect x="75.07" y="249.69" width="1.4" height="1.4" fill="#222"/><rect x="73.53" y="257.42" width="1.4" height="1.4" fill="#222"/><rect x="72.19" y="252.84" width="1.4" height="1.4" fill="#222"/><rect x="73.6" y="253.57" width="1.4" height="1.4" fill="#222"/><rect x="71.84" y="272.41" width="1.4" height="1.4" fill="#222"/><rect x="71.95" y="264.85" width="1.4" height="1.4" fill="#222"/><rect x="73.4" y="264.24" width="1.4" height="1.4" fill="#222"/><rect x="71.77" y="253" width="1.4" height="1.4" fill="#222"/><rect x="73.45" y="268.88" width="1.4" height="1.4" fill="#222"/><rect x="73.78" y="265.59" width="1.4" height="1.4" fill="#222"/><rect x="71.53" y="266.15" width="1.4" height="1.4" fill="#222"/><rect x="74.38" y="268.88" width="1.4" height="1.4" fill="#222"/><rect x="71.72" y="262.9" width="1.4" height="1.4" fill="#222"/><rect x="74.85" y="260.52" width="1.4" height="1.4" fill="#222"/><rect x="75.06" y="268.34" width="1.4" height="1.4" fill="#222"/><rect x="73.79" y="267.82" width="1.4" height="1.4" fill="#222"/><rect x="71.59" y="259.89" width="1.4" height="1.4" fill="#222"/><rect x="73.75" y="249.69" width="1.4" height="1.4" fill="#222"/><rect x="73.14" y="246.08" width="1.4" height="1.4" fill="#222"/><rect x="91.07" y="258.44" width="1.4" height="1.4" fill="#222"/><rect x="88.09" y="264.14" width="1.4" height="1.4" fill="#222"/><rect x="90.69" y="251.24" width="1.4" height="1.4" fill="#222"/><rect x="87.46" y="274.81" width="1.4" height="1.4" fill="#222"/><rect x="89.18" y="264.49" width="1.4" height="1.4" fill="#222"/><rect x="91.19" y="274.81" width="1.4" height="1.4" fill="#222"/><rect x="87.77" y="254.55" width="1.4" height="1.4" fill="#222"/><rect x="88.03" y="251.24" width="1.4" height="1.4" fill="#222"/><rect x="89.2" y="274.81" width="1.4" height="1.4" fill="#222"/><rect x="88.3" y="261.69" width="1.4" height="1.4" fill="#222"/><rect x="86.95" y="258.41" width="1.4" height="1.4" fill="#222"/><rect x="87.64" y="265.3" width="1.4" height="1.4" fill="#222"/><rect x="87.54" y="258.14" width="1.4" height="1.4" fill="#222"/><rect x="91.26" y="274.81" width="1.4" height="1.4" fill="#222"/><rect x="90.03" y="255.62" width="1.4" height="1.4" fill="#222"/><rect x="91.07" y="259.65" width="1.4" height="1.4" fill="#222"/><rect x="87.58" y="262.57" width="1.4" height="1.4" fill="#222"/><rect x="90.54" y="267.69" width="1.4" height="1.4" fill="#222"/><rect x="87.32" y="242.98" width="1.4" height="1.4" fill="#222"/><rect x="103.06" y="277.97" width="1.4" height="1.4" fill="#222"/><rect x="105.78" y="265.42" width="1.4" height="1.4" fill="#222"/><rect x="102.44" y="276.82" width="1.4" height="1.4" fill="#222"/><rect x="106.15" y="247.01" width="1.4" height="1.4" fill="#222"/><rect x="103.43" y="276.22" width="1.4" height="1.4" fill="#222"/><rect x="105.28" y="267.38" width="1.4" height="1.4" fill="#222"/><rect x="106.93" y="258.49" width="1.4" height="1.4" fill="#222"/><rect x="105.02" y="265.91" width="1.4" height="1.4" fill="#222"/><rect x="105.4" y="247.01" width="1.4" height="1.4" fill="#222"/><rect x="103.71" y="263.07" width="1.4" height="1.4" fill="#222"/><rect x="102.22" y="278.1" width="1.4" height="1.4" fill="#222"/><rect x="102.37" y="250.06" width="1.4" height="1.4" fill="#222"/><rect x="102.93" y="265.53" width="1.4" height="1.4" fill="#222"/><rect x="105.17" y="247.01" width="1.4" height="1.4" fill="#222"/><rect x="104.28" y="271.71" width="1.4" height="1.4" fill="#222"/><rect x="104.67" y="267.31" width="1.4" height="1.4" fill="#222"/><rect x="106.51" y="261.27" width="1.4" height="1.4" fill="#222"/><rect x="102.84" y="274.4" width="1.4" height="1.4" fill="#222"/><rect x="103.3" y="242.2" width="1.4" height="1.4" fill="#222"/><rect x="121.83" y="267.54" width="1.4" height="1.4" fill="#222"/><rect x="121.4" y="268.09" width="1.4" height="1.4" fill="#222"/><rect x="119.58" y="256.37" width="1.4" height="1.4" fill="#222"/><rect x="118.92" y="266.09" width="1.4" height="1.4" fill="#222"/><rect x="117.71" y="258.47" width="1.4" height="1.4" fill="#222"/><rect x="120.75" y="260.11" width="1.4" height="1.4" fill="#222"/><rect x="120.35" y="264.01" width="1.4" height="1.4" fill="#222"/><rect x="119.33" y="252.47" width="1.4" height="1.4" fill="#222"/><rect x="120.75" y="272.3" width="1.4" height="1.4" fill="#222"/><rect x="119.78" y="270.04" width="1.4" height="1.4" fill="#222"/><rect x="122.15" y="274.78" width="1.4" height="1.4" fill="#222"/><rect x="121.17" y="274.67" width="1.4" height="1.4" fill="#222"/><rect x="118.84" y="251.74" width="1.4" height="1.4" fill="#222"/><rect x="121.99" y="251.74" width="1.4" height="1.4" fill="#222"/><rect x="117.86" y="266.01" width="1.4" height="1.4" fill="#222"/><rect x="120.2" y="260.26" width="1.4" height="1.4" fill="#222"/><rect x="119.6" y="253.85" width="1.4" height="1.4" fill="#222"/><rect x="118.79" y="257.73" width="1.4" height="1.4" fill="#222"/><path d="M43.55 232.42V267.34M41.08 232.42H46.02M41.08 267.34H46.02" stroke="#1a1a1a" stroke-width="0.9" fill="none"/><path d="M58.99 247.94V271.22M56.52 247.94H61.46M56.52 271.22H61.46" stroke="#1a1a1a" stroke-width="0.9" fill="none"/><path d="M74.43 251.44V272.39M71.96 251.44H76.9M71.96 272.39H76.9" stroke="#1a1a1a" stroke-width="0.9" fill="none"/><path d="M89.87 252.99V273.94M87.4 252.99H92.34M87.4 273.94H92.34" stroke="#1a1a1a" stroke-width="0.9" fill="none"/><path d="M105.31 249.11V277.04M102.84 249.11H107.78M102.84 277.04H107.78" stroke="#1a1a1a" stroke-width="0.9" fill="none"/><path d="M120.75 253.76V280.15M118.28 253.76H123.22M118.28 280.15H123.22" stroke="#1a1a1a" stroke-width="0.9" fill="none"/><path d="M32.5 194.4V291.5H130" stroke="#1a1a1a" stroke-width="1.3" fill="none"/><path d="M29.1 291.5H32.6" stroke="#1a1a1a" stroke-width="1"/><text x="27.6" y="294.1" class="tk" style="font-size:7.5px">0.00</text><path d="M29.1 272.5H32.6" stroke="#1a1a1a" stroke-width="1"/><text x="27.6" y="274.7" class="tk" style="font-size:7.5px">0.05</text><path d="M29.1 252.5H32.6" stroke="#1a1a1a" stroke-width="1"/><text x="27.6" y="255.3" class="tk" style="font-size:7.5px">0.10</text><path d="M29.1 233.5H32.6" stroke="#1a1a1a" stroke-width="1"/><text x="27.6" y="235.9" class="tk" style="font-size:7.5px">0.15</text><path d="M29.1 213.5H32.6" stroke="#1a1a1a" stroke-width="1"/><text x="27.6" y="216.5" class="tk" style="font-size:7.5px">0.20</text><path d="M29.1 194.5H32.6" stroke="#1a1a1a" stroke-width="1"/><text x="27.6" y="197.1" class="tk" style="font-size:7.5px">0.25</text><path d="M43.5 291.4v3.8" stroke="#1a1a1a" stroke-width="1"/><text class="xl" style="font-size:7.2px" transform="translate(45.75 302.4) rotate(-45)">PBS</text><path d="M58.5 291.4v3.8" stroke="#1a1a1a" stroke-width="1"/><text class="xl" style="font-size:7.2px" transform="translate(61.19 302.4) rotate(-45)">AB</text><path d="M74.5 291.4v3.8" stroke="#1a1a1a" stroke-width="1"/><text class="xl" style="font-size:7.2px" transform="translate(76.63 302.4) rotate(-45)">WG</text><path d="M89.5 291.4v3.8" stroke="#1a1a1a" stroke-width="1"/><text class="xl" style="font-size:7.2px" transform="translate(92.07 302.4) rotate(-45)">F-IVIG</text><path d="M105.5 291.4v3.8" stroke="#1a1a1a" stroke-width="1"/><text class="xl" style="font-size:7.2px" transform="translate(107.51 302.4) rotate(-45)">M-IVIG</text><path d="M120.5 291.4v3.8" stroke="#1a1a1a" stroke-width="1"/><text class="xl" style="font-size:7.2px" transform="translate(122.95 302.4) rotate(-45)">Mix-IVIG</text><path d="M44 198.5H119" stroke="#1a1a1a" stroke-width="1"/><text x="82" y="198.7" class="st">***</text><path d="M44 205.5H104.6" stroke="#1a1a1a" stroke-width="1"/><text x="74.8" y="205.7" class="st">*</text><path d="M44 212.5H89.4" stroke="#1a1a1a" stroke-width="1"/><text x="67.2" y="212.7" class="st">*</text><text x="9" y="175.5" class="lt">E</text><text class="yt" style="font-size:8.35px" transform="translate(9 294.2) rotate(-90)">TNF-a<tspan dx="-4.17">（</tspan><tspan> pg/100μg protein）</tspan></text></g>
<g><rect x="172" y="253.99" width="10.5" height="36.61" fill="#95802f"/><rect x="187.8" y="261.01" width="10.5" height="29.59" fill="#a7a6ab"/><rect x="203.6" y="261.41" width="10.5" height="29.19" fill="#0e889b"/><rect x="219.4" y="270.03" width="10.5" height="20.57" fill="#f80306"/><rect x="235.2" y="269.02" width="10.5" height="21.58" fill="#0202f6"/><rect x="251" y="274.37" width="10.5" height="16.23" fill="#c900f2"/><rect x="174.18" y="238.52" width="1.4" height="1.4" fill="#222"/><rect x="178.2" y="246.6" width="1.4" height="1.4" fill="#222"/><rect x="177.73" y="239.74" width="1.4" height="1.4" fill="#222"/><rect x="176.38" y="252.24" width="1.4" height="1.4" fill="#222"/><rect x="177.71" y="247.75" width="1.4" height="1.4" fill="#222"/><rect x="176.32" y="255.45" width="1.4" height="1.4" fill="#222"/><rect x="175.23" y="248.71" width="1.4" height="1.4" fill="#222"/><rect x="174.66" y="239.32" width="1.4" height="1.4" fill="#222"/><rect x="175.27" y="268.67" width="1.4" height="1.4" fill="#222"/><rect x="174.34" y="253.97" width="1.4" height="1.4" fill="#222"/><rect x="175.76" y="250.71" width="1.4" height="1.4" fill="#222"/><rect x="177.75" y="259.43" width="1.4" height="1.4" fill="#222"/><rect x="177.49" y="256.6" width="1.4" height="1.4" fill="#222"/><rect x="178.21" y="244.84" width="1.4" height="1.4" fill="#222"/><rect x="177.57" y="238.52" width="1.4" height="1.4" fill="#222"/><rect x="175.43" y="246.53" width="1.4" height="1.4" fill="#222"/><rect x="176.81" y="249.79" width="1.4" height="1.4" fill="#222"/><rect x="176.24" y="268.73" width="1.4" height="1.4" fill="#222"/><rect x="177.93" y="217.76" width="1.4" height="1.4" fill="#222"/><rect x="193.28" y="267.16" width="1.4" height="1.4" fill="#222"/><rect x="193.14" y="261.32" width="1.4" height="1.4" fill="#222"/><rect x="194.65" y="272.98" width="1.4" height="1.4" fill="#222"/><rect x="192.2" y="272.98" width="1.4" height="1.4" fill="#222"/><rect x="193.98" y="256.57" width="1.4" height="1.4" fill="#222"/><rect x="193.3" y="248.18" width="1.4" height="1.4" fill="#222"/><rect x="194.07" y="253.49" width="1.4" height="1.4" fill="#222"/><rect x="192.05" y="259.65" width="1.4" height="1.4" fill="#222"/><rect x="193.43" y="259.04" width="1.4" height="1.4" fill="#222"/><rect x="192.69" y="248.18" width="1.4" height="1.4" fill="#222"/><rect x="191.43" y="248.18" width="1.4" height="1.4" fill="#222"/><rect x="190.97" y="265.28" width="1.4" height="1.4" fill="#222"/><rect x="192.94" y="268.74" width="1.4" height="1.4" fill="#222"/><rect x="190.32" y="248.18" width="1.4" height="1.4" fill="#222"/><rect x="194.32" y="263.4" width="1.4" height="1.4" fill="#222"/><rect x="190.64" y="254.57" width="1.4" height="1.4" fill="#222"/><rect x="190.08" y="249.9" width="1.4" height="1.4" fill="#222"/><rect x="190.46" y="267.14" width="1.4" height="1.4" fill="#222"/><rect x="194.41" y="240.47" width="1.4" height="1.4" fill="#222"/><rect x="206.26" y="264.89" width="1.4" height="1.4" fill="#222"/><rect x="206.74" y="254.54" width="1.4" height="1.4" fill="#222"/><rect x="206.29" y="256.84" width="1.4" height="1.4" fill="#222"/><rect x="205.92" y="260" width="1.4" height="1.4" fill="#222"/><rect x="209.82" y="267.44" width="1.4" height="1.4" fill="#222"/><rect x="209.65" y="278.57" width="1.4" height="1.4" fill="#222"/><rect x="208.79" y="267.9" width="1.4" height="1.4" fill="#222"/><rect x="209.71" y="280.07" width="1.4" height="1.4" fill="#222"/><rect x="208.78" y="244.23" width="1.4" height="1.4" fill="#222"/><rect x="207.13" y="253.48" width="1.4" height="1.4" fill="#222"/><rect x="206.23" y="276.95" width="1.4" height="1.4" fill="#222"/><rect x="206.22" y="242.19" width="1.4" height="1.4" fill="#222"/><rect x="209.39" y="248.7" width="1.4" height="1.4" fill="#222"/><rect x="206.73" y="280.07" width="1.4" height="1.4" fill="#222"/><rect x="207.28" y="242.19" width="1.4" height="1.4" fill="#222"/><rect x="207.78" y="249.8" width="1.4" height="1.4" fill="#222"/><rect x="205.85" y="242.19" width="1.4" height="1.4" fill="#222"/><rect x="206.98" y="277.29" width="1.4" height="1.4" fill="#222"/><rect x="207.11" y="233.12" width="1.4" height="1.4" fill="#222"/><rect x="222.37" y="270.47" width="1.4" height="1.4" fill="#222"/><rect x="221.56" y="274.58" width="1.4" height="1.4" fill="#222"/><rect x="222.52" y="275.55" width="1.4" height="1.4" fill="#222"/><rect x="225.21" y="261.61" width="1.4" height="1.4" fill="#222"/><rect x="226.24" y="277.39" width="1.4" height="1.4" fill="#222"/><rect x="221.57" y="269.58" width="1.4" height="1.4" fill="#222"/><rect x="223.91" y="270.36" width="1.4" height="1.4" fill="#222"/><rect x="223.91" y="270.28" width="1.4" height="1.4" fill="#222"/><rect x="225.37" y="274.46" width="1.4" height="1.4" fill="#222"/><rect x="222.44" y="266.2" width="1.4" height="1.4" fill="#222"/><rect x="223.92" y="268.58" width="1.4" height="1.4" fill="#222"/><rect x="223.22" y="274.45" width="1.4" height="1.4" fill="#222"/><rect x="225.54" y="271.29" width="1.4" height="1.4" fill="#222"/><rect x="222.8" y="276.02" width="1.4" height="1.4" fill="#222"/><rect x="226.08" y="267" width="1.4" height="1.4" fill="#222"/><rect x="222.91" y="261.61" width="1.4" height="1.4" fill="#222"/><rect x="222.58" y="261.61" width="1.4" height="1.4" fill="#222"/><rect x="224.91" y="263.71" width="1.4" height="1.4" fill="#222"/><rect x="239.76" y="271.81" width="1.4" height="1.4" fill="#222"/><rect x="239.17" y="268.29" width="1.4" height="1.4" fill="#222"/><rect x="241.59" y="270.26" width="1.4" height="1.4" fill="#222"/><rect x="238.47" y="270.56" width="1.4" height="1.4" fill="#222"/><rect x="239.56" y="265.69" width="1.4" height="1.4" fill="#222"/><rect x="239.9" y="278.69" width="1.4" height="1.4" fill="#222"/><rect x="240.97" y="265.99" width="1.4" height="1.4" fill="#222"/><rect x="240.96" y="278.2" width="1.4" height="1.4" fill="#222"/><rect x="240.45" y="272.82" width="1.4" height="1.4" fill="#222"/><rect x="239.02" y="262.57" width="1.4" height="1.4" fill="#222"/><rect x="238.92" y="278.69" width="1.4" height="1.4" fill="#222"/><rect x="238.1" y="259" width="1.4" height="1.4" fill="#222"/><rect x="241.4" y="258.4" width="1.4" height="1.4" fill="#222"/><rect x="240.53" y="260.54" width="1.4" height="1.4" fill="#222"/><rect x="240.91" y="263.48" width="1.4" height="1.4" fill="#222"/><rect x="238.16" y="267.55" width="1.4" height="1.4" fill="#222"/><rect x="239.46" y="269.61" width="1.4" height="1.4" fill="#222"/><rect x="241.06" y="258.4" width="1.4" height="1.4" fill="#222"/><rect x="240.13" y="243.14" width="1.4" height="1.4" fill="#222"/><rect x="253.64" y="268.36" width="1.4" height="1.4" fill="#222"/><rect x="257.77" y="268.29" width="1.4" height="1.4" fill="#222"/><rect x="253.64" y="269.91" width="1.4" height="1.4" fill="#222"/><rect x="254.99" y="276.97" width="1.4" height="1.4" fill="#222"/><rect x="257.87" y="271.6" width="1.4" height="1.4" fill="#222"/><rect x="256.97" y="268.3" width="1.4" height="1.4" fill="#222"/><rect x="256.67" y="277.46" width="1.4" height="1.4" fill="#222"/><rect x="255.24" y="283.42" width="1.4" height="1.4" fill="#222"/><rect x="254.09" y="271.44" width="1.4" height="1.4" fill="#222"/><rect x="256.21" y="270.4" width="1.4" height="1.4" fill="#222"/><rect x="253.66" y="273.58" width="1.4" height="1.4" fill="#222"/><rect x="254.14" y="267.63" width="1.4" height="1.4" fill="#222"/><rect x="255.01" y="277.65" width="1.4" height="1.4" fill="#222"/><rect x="253.31" y="274.23" width="1.4" height="1.4" fill="#222"/><rect x="255.07" y="275.74" width="1.4" height="1.4" fill="#222"/><rect x="256.95" y="269.79" width="1.4" height="1.4" fill="#222"/><rect x="256.48" y="264.34" width="1.4" height="1.4" fill="#222"/><rect x="255.55" y="275.37" width="1.4" height="1.4" fill="#222"/><path d="M177.25 240.57V267.42M174.73 240.57H179.77M174.73 267.42H179.77" stroke="#1a1a1a" stroke-width="0.9" fill="none"/><path d="M193.05 249.99V272.03M190.53 249.99H195.57M190.53 272.03H195.57" stroke="#1a1a1a" stroke-width="0.9" fill="none"/><path d="M208.85 244.57V278.24M206.33 244.57H211.37M206.33 278.24H211.37" stroke="#1a1a1a" stroke-width="0.9" fill="none"/><path d="M224.65 263.01V277.04M222.13 263.01H227.17M222.13 277.04H227.17" stroke="#1a1a1a" stroke-width="0.9" fill="none"/><path d="M240.45 260.01V278.04M237.93 260.01H242.97M237.93 278.04H242.97" stroke="#1a1a1a" stroke-width="0.9" fill="none"/><path d="M256.25 265.88V282.85M253.73 265.88H258.77M253.73 282.85H258.77" stroke="#1a1a1a" stroke-width="0.9" fill="none"/><path d="M166.5 190.4V290.5H266.4" stroke="#1a1a1a" stroke-width="1.3" fill="none"/><path d="M162.9 290.5H166.4" stroke="#1a1a1a" stroke-width="1"/><text x="161.4" y="293.3" class="tk" style="font-size:7.5px">0.0</text><path d="M162.9 257.5H166.4" stroke="#1a1a1a" stroke-width="1"/><text x="161.4" y="259.9" class="tk" style="font-size:7.5px">0.5</text><path d="M162.9 223.5H166.4" stroke="#1a1a1a" stroke-width="1"/><text x="161.4" y="226.5" class="tk" style="font-size:7.5px">1.0</text><path d="M162.9 190.5H166.4" stroke="#1a1a1a" stroke-width="1"/><text x="161.4" y="193.1" class="tk" style="font-size:7.5px">1.5</text><path d="M177.5 290.6v3.8" stroke="#1a1a1a" stroke-width="1"/><text class="xl" style="font-size:7.2px" transform="translate(179.45 301.6) rotate(-45)">PBS</text><path d="M193.5 290.6v3.8" stroke="#1a1a1a" stroke-width="1"/><text class="xl" style="font-size:7.2px" transform="translate(195.25 301.6) rotate(-45)">AB</text><path d="M208.5 290.6v3.8" stroke="#1a1a1a" stroke-width="1"/><text class="xl" style="font-size:7.2px" transform="translate(211.05 301.6) rotate(-45)">WG</text><path d="M224.5 290.6v3.8" stroke="#1a1a1a" stroke-width="1"/><text class="xl" style="font-size:7.2px" transform="translate(226.85 301.6) rotate(-45)">F-IVIG</text><path d="M240.5 290.6v3.8" stroke="#1a1a1a" stroke-width="1"/><text class="xl" style="font-size:7.2px" transform="translate(242.65 301.6) rotate(-45)">M-IVIG</text><path d="M256.5 290.6v3.8" stroke="#1a1a1a" stroke-width="1"/><text class="xl" style="font-size:7.2px" transform="translate(258.45 301.6) rotate(-45)">Mix-IVIG</text><path d="M177 202.5H257.4" stroke="#1a1a1a" stroke-width="1"/><text x="217.7" y="202.7" class="st">****</text><path d="M177 208.5H239" stroke="#1a1a1a" stroke-width="1"/><text x="208.5" y="208.7" class="st">**</text><path d="M177 215.5H224.4" stroke="#1a1a1a" stroke-width="1"/><text x="201.2" y="215.7" class="st">***</text><path d="M191 227.5H258.6" stroke="#1a1a1a" stroke-width="1"/><text x="225.3" y="227.7" class="st">**</text><path d="M208.6 233.5H258.6" stroke="#1a1a1a" stroke-width="1"/><text x="234.1" y="233.7" class="st">*</text><text x="144" y="175.5" class="lt">F</text><text class="yt" style="font-size:8.58px" transform="translate(145.6 289.3) rotate(-90)">IL-4<tspan dx="-4.29">（</tspan><tspan> pg/100μg protein）</tspan></text></g>
<g><rect x="310.6" y="246.1" width="10.4" height="44.5" fill="#95802f"/><rect x="326.28" y="253.1" width="10.4" height="37.5" fill="#a7a6ab"/><rect x="341.96" y="249.1" width="10.4" height="41.5" fill="#0e889b"/><rect x="357.64" y="253.35" width="10.4" height="37.25" fill="#f80306"/><rect x="373.32" y="251.35" width="10.4" height="39.25" fill="#0202f6"/><rect x="389" y="266.6" width="10.4" height="24" fill="#c900f2"/><rect x="315.78" y="255.62" width="1.4" height="1.4" fill="#222"/><rect x="314.88" y="256.61" width="1.4" height="1.4" fill="#222"/><rect x="314.2" y="233.77" width="1.4" height="1.4" fill="#222"/><rect x="315.72" y="231.01" width="1.4" height="1.4" fill="#222"/><rect x="313.17" y="263.87" width="1.4" height="1.4" fill="#222"/><rect x="314.71" y="232.8" width="1.4" height="1.4" fill="#222"/><rect x="316.46" y="233.32" width="1.4" height="1.4" fill="#222"/><rect x="316.12" y="253.28" width="1.4" height="1.4" fill="#222"/><rect x="315.72" y="264.95" width="1.4" height="1.4" fill="#222"/><rect x="313.9" y="255.54" width="1.4" height="1.4" fill="#222"/><rect x="314.73" y="254.02" width="1.4" height="1.4" fill="#222"/><rect x="314.88" y="240.74" width="1.4" height="1.4" fill="#222"/><rect x="315.68" y="250.26" width="1.4" height="1.4" fill="#222"/><rect x="314.66" y="264.95" width="1.4" height="1.4" fill="#222"/><rect x="315.94" y="242.22" width="1.4" height="1.4" fill="#222"/><rect x="317.16" y="264.95" width="1.4" height="1.4" fill="#222"/><rect x="313.58" y="233.09" width="1.4" height="1.4" fill="#222"/><rect x="315.84" y="261.81" width="1.4" height="1.4" fill="#222"/><rect x="316.44" y="208.4" width="1.4" height="1.4" fill="#222"/><rect x="314.57" y="222.4" width="1.4" height="1.4" fill="#222"/><rect x="329.39" y="269.36" width="1.4" height="1.4" fill="#222"/><rect x="331.66" y="250.36" width="1.4" height="1.4" fill="#222"/><rect x="330.26" y="238.05" width="1.4" height="1.4" fill="#222"/><rect x="332.04" y="248.89" width="1.4" height="1.4" fill="#222"/><rect x="328.97" y="241.46" width="1.4" height="1.4" fill="#222"/><rect x="333.11" y="236.18" width="1.4" height="1.4" fill="#222"/><rect x="330.09" y="239.1" width="1.4" height="1.4" fill="#222"/><rect x="328.65" y="257.61" width="1.4" height="1.4" fill="#222"/><rect x="329.7" y="239.98" width="1.4" height="1.4" fill="#222"/><rect x="330.3" y="243.25" width="1.4" height="1.4" fill="#222"/><rect x="328.44" y="269.36" width="1.4" height="1.4" fill="#222"/><rect x="330.39" y="257.18" width="1.4" height="1.4" fill="#222"/><rect x="330.4" y="269.2" width="1.4" height="1.4" fill="#222"/><rect x="331.73" y="253.69" width="1.4" height="1.4" fill="#222"/><rect x="330.07" y="245.58" width="1.4" height="1.4" fill="#222"/><rect x="329.65" y="265" width="1.4" height="1.4" fill="#222"/><rect x="329.46" y="269.36" width="1.4" height="1.4" fill="#222"/><rect x="331.94" y="237.08" width="1.4" height="1.4" fill="#222"/><rect x="332.89" y="215.65" width="1.4" height="1.4" fill="#222"/><rect x="330.91" y="229.9" width="1.4" height="1.4" fill="#222"/><rect x="346.69" y="243.72" width="1.4" height="1.4" fill="#222"/><rect x="344.66" y="229.98" width="1.4" height="1.4" fill="#222"/><rect x="348.06" y="255.6" width="1.4" height="1.4" fill="#222"/><rect x="345.76" y="242.59" width="1.4" height="1.4" fill="#222"/><rect x="348.14" y="232.44" width="1.4" height="1.4" fill="#222"/><rect x="345.34" y="231.56" width="1.4" height="1.4" fill="#222"/><rect x="345.87" y="241.45" width="1.4" height="1.4" fill="#222"/><rect x="345.28" y="266.09" width="1.4" height="1.4" fill="#222"/><rect x="346.11" y="265.3" width="1.4" height="1.4" fill="#222"/><rect x="344.95" y="245.08" width="1.4" height="1.4" fill="#222"/><rect x="344.07" y="243.21" width="1.4" height="1.4" fill="#222"/><rect x="347.52" y="229.98" width="1.4" height="1.4" fill="#222"/><rect x="345.41" y="259.94" width="1.4" height="1.4" fill="#222"/><rect x="345.24" y="233.15" width="1.4" height="1.4" fill="#222"/><rect x="345.51" y="238.08" width="1.4" height="1.4" fill="#222"/><rect x="346.36" y="267.66" width="1.4" height="1.4" fill="#222"/><rect x="346.12" y="259.37" width="1.4" height="1.4" fill="#222"/><rect x="347.12" y="246.17" width="1.4" height="1.4" fill="#222"/><rect x="347.22" y="209.9" width="1.4" height="1.4" fill="#222"/><rect x="363.47" y="265.59" width="1.4" height="1.4" fill="#222"/><rect x="361.4" y="240.28" width="1.4" height="1.4" fill="#222"/><rect x="360.47" y="250.77" width="1.4" height="1.4" fill="#222"/><rect x="364.08" y="255.09" width="1.4" height="1.4" fill="#222"/><rect x="363.54" y="243.45" width="1.4" height="1.4" fill="#222"/><rect x="360.55" y="265.59" width="1.4" height="1.4" fill="#222"/><rect x="364.02" y="251.6" width="1.4" height="1.4" fill="#222"/><rect x="362.66" y="257.49" width="1.4" height="1.4" fill="#222"/><rect x="363.49" y="246.42" width="1.4" height="1.4" fill="#222"/><rect x="362.95" y="263.77" width="1.4" height="1.4" fill="#222"/><rect x="364.03" y="251.29" width="1.4" height="1.4" fill="#222"/><rect x="363.52" y="252.52" width="1.4" height="1.4" fill="#222"/><rect x="363.77" y="240.28" width="1.4" height="1.4" fill="#222"/><rect x="360.69" y="256.57" width="1.4" height="1.4" fill="#222"/><rect x="363.07" y="252.65" width="1.4" height="1.4" fill="#222"/><rect x="362.29" y="248.49" width="1.4" height="1.4" fill="#222"/><rect x="363.3" y="248.55" width="1.4" height="1.4" fill="#222"/><rect x="361.85" y="247.52" width="1.4" height="1.4" fill="#222"/><rect x="363.98" y="224.9" width="1.4" height="1.4" fill="#222"/><rect x="377.22" y="256.7" width="1.4" height="1.4" fill="#222"/><rect x="377.43" y="252.83" width="1.4" height="1.4" fill="#222"/><rect x="380.03" y="250.2" width="1.4" height="1.4" fill="#222"/><rect x="375.78" y="246.18" width="1.4" height="1.4" fill="#222"/><rect x="378.48" y="253.49" width="1.4" height="1.4" fill="#222"/><rect x="378.47" y="250.53" width="1.4" height="1.4" fill="#222"/><rect x="375.56" y="255.13" width="1.4" height="1.4" fill="#222"/><rect x="378.35" y="249.71" width="1.4" height="1.4" fill="#222"/><rect x="378.7" y="260.27" width="1.4" height="1.4" fill="#222"/><rect x="379.89" y="250.13" width="1.4" height="1.4" fill="#222"/><rect x="377.01" y="262.44" width="1.4" height="1.4" fill="#222"/><rect x="380.13" y="254.67" width="1.4" height="1.4" fill="#222"/><rect x="377.87" y="239.38" width="1.4" height="1.4" fill="#222"/><rect x="377.75" y="250" width="1.4" height="1.4" fill="#222"/><rect x="379.73" y="260.98" width="1.4" height="1.4" fill="#222"/><rect x="375.58" y="248.54" width="1.4" height="1.4" fill="#222"/><rect x="378.87" y="258.62" width="1.4" height="1.4" fill="#222"/><rect x="378.42" y="262.44" width="1.4" height="1.4" fill="#222"/><rect x="377.05" y="237.4" width="1.4" height="1.4" fill="#222"/><rect x="394.9" y="263.8" width="1.4" height="1.4" fill="#222"/><rect x="392.69" y="268.38" width="1.4" height="1.4" fill="#222"/><rect x="392.62" y="270" width="1.4" height="1.4" fill="#222"/><rect x="392.54" y="265.24" width="1.4" height="1.4" fill="#222"/><rect x="393.91" y="265.6" width="1.4" height="1.4" fill="#222"/><rect x="394.15" y="268.22" width="1.4" height="1.4" fill="#222"/><rect x="394.86" y="269.17" width="1.4" height="1.4" fill="#222"/><rect x="391.29" y="264.49" width="1.4" height="1.4" fill="#222"/><rect x="394.57" y="270.79" width="1.4" height="1.4" fill="#222"/><rect x="395.35" y="268.02" width="1.4" height="1.4" fill="#222"/><rect x="393.72" y="267.6" width="1.4" height="1.4" fill="#222"/><rect x="391.34" y="261.23" width="1.4" height="1.4" fill="#222"/><rect x="392.54" y="269.21" width="1.4" height="1.4" fill="#222"/><rect x="391.13" y="263.61" width="1.4" height="1.4" fill="#222"/><rect x="392.01" y="266.45" width="1.4" height="1.4" fill="#222"/><rect x="395.52" y="261.9" width="1.4" height="1.4" fill="#222"/><rect x="394.02" y="261.23" width="1.4" height="1.4" fill="#222"/><rect x="394.26" y="266.68" width="1.4" height="1.4" fill="#222"/><path d="M315.8 229.1V263.1M313.3 229.1H318.3M313.3 263.1H318.3" stroke="#1a1a1a" stroke-width="0.9" fill="none"/><path d="M331.48 238.35V267.85M328.98 238.35H333.98M328.98 267.85H333.98" stroke="#1a1a1a" stroke-width="0.9" fill="none"/><path d="M347.16 232.35V265.85M344.66 232.35H349.66M344.66 265.85H349.66" stroke="#1a1a1a" stroke-width="0.9" fill="none"/><path d="M362.84 242.1V264.6M360.34 242.1H365.34M360.34 264.6H365.34" stroke="#1a1a1a" stroke-width="0.9" fill="none"/><path d="M378.52 241.1V261.6M376.02 241.1H381.02M376.02 261.6H381.02" stroke="#1a1a1a" stroke-width="0.9" fill="none"/><path d="M394.2 262.35V270.85M391.7 262.35H396.7M391.7 270.85H396.7" stroke="#1a1a1a" stroke-width="0.9" fill="none"/><path d="M305.5 190.6V290.5H405" stroke="#1a1a1a" stroke-width="1.3" fill="none"/><path d="M301.9 290.5H305.4" stroke="#1a1a1a" stroke-width="1"/><text x="300.4" y="293.3" class="tk" style="font-size:7.5px">0.0</text><path d="M301.9 265.5H305.4" stroke="#1a1a1a" stroke-width="1"/><text x="300.4" y="268.3" class="tk" style="font-size:7.5px">0.1</text><path d="M301.9 240.5H305.4" stroke="#1a1a1a" stroke-width="1"/><text x="300.4" y="243.3" class="tk" style="font-size:7.5px">0.2</text><path d="M301.9 215.5H305.4" stroke="#1a1a1a" stroke-width="1"/><text x="300.4" y="218.3" class="tk" style="font-size:7.5px">0.3</text><path d="M301.9 190.5H305.4" stroke="#1a1a1a" stroke-width="1"/><text x="300.4" y="193.3" class="tk" style="font-size:7.5px">0.4</text><path d="M315.5 290.6v3.8" stroke="#1a1a1a" stroke-width="1"/><text class="xl" style="font-size:7.2px" transform="translate(318 301.6) rotate(-45)">PBS</text><path d="M331.5 290.6v3.8" stroke="#1a1a1a" stroke-width="1"/><text class="xl" style="font-size:7.2px" transform="translate(333.68 301.6) rotate(-45)">AB</text><path d="M347.5 290.6v3.8" stroke="#1a1a1a" stroke-width="1"/><text class="xl" style="font-size:7.2px" transform="translate(349.36 301.6) rotate(-45)">WG</text><path d="M362.5 290.6v3.8" stroke="#1a1a1a" stroke-width="1"/><text class="xl" style="font-size:7.2px" transform="translate(365.04 301.6) rotate(-45)">F-IVIG</text><path d="M378.5 290.6v3.8" stroke="#1a1a1a" stroke-width="1"/><text class="xl" style="font-size:7.2px" transform="translate(380.72 301.6) rotate(-45)">M-IVIG</text><path d="M394.5 290.6v3.8" stroke="#1a1a1a" stroke-width="1"/><text class="xl" style="font-size:7.2px" transform="translate(396.4 301.6) rotate(-45)">Mix-IVIG</text><path d="M316 200.5H395.4" stroke="#1a1a1a" stroke-width="1"/><text x="356.2" y="200.7" class="st">***</text><path d="M347.4 207.5H395.4" stroke="#1a1a1a" stroke-width="1"/><text x="371.9" y="207.7" class="st">*</text><path d="M379.4 233.5H395.4" stroke="#1a1a1a" stroke-width="1"/><text x="387.9" y="233.7" class="st">*</text><text x="277" y="175.5" class="lt">G</text><text class="yt" style="font-size:8.57px" transform="translate(283.5 291.3) rotate(-90)">IL-27<tspan dx="-4.29">（</tspan><tspan> pg/100μg protein）</tspan></text></g>
<g><rect x="448" y="253.55" width="10.4" height="31.85" fill="#95802f"/><rect x="464" y="259.53" width="10.4" height="25.87" fill="#a7a6ab"/><rect x="480" y="267.45" width="10.4" height="17.94" fill="#0e889b"/><rect x="496" y="267.94" width="10.4" height="17.46" fill="#f80306"/><rect x="512" y="272.47" width="10.4" height="12.93" fill="#0202f6"/><rect x="528" y="274.08" width="10.4" height="11.32" fill="#c900f2"/><rect x="451.87" y="245.55" width="1.4" height="1.4" fill="#222"/><rect x="454.05" y="272.56" width="1.4" height="1.4" fill="#222"/><rect x="453.88" y="267.35" width="1.4" height="1.4" fill="#222"/><rect x="452.8" y="265.11" width="1.4" height="1.4" fill="#222"/><rect x="451.34" y="267.65" width="1.4" height="1.4" fill="#222"/><rect x="451.55" y="267.99" width="1.4" height="1.4" fill="#222"/><rect x="452.12" y="269.9" width="1.4" height="1.4" fill="#222"/><rect x="451.63" y="264.64" width="1.4" height="1.4" fill="#222"/><rect x="452.17" y="248.11" width="1.4" height="1.4" fill="#222"/><rect x="453.18" y="234" width="1.4" height="1.4" fill="#222"/><rect x="454.58" y="272.56" width="1.4" height="1.4" fill="#222"/><rect x="450.36" y="246.77" width="1.4" height="1.4" fill="#222"/><rect x="452.82" y="245.88" width="1.4" height="1.4" fill="#222"/><rect x="450.29" y="247.69" width="1.4" height="1.4" fill="#222"/><rect x="450.67" y="234" width="1.4" height="1.4" fill="#222"/><rect x="453.99" y="247.4" width="1.4" height="1.4" fill="#222"/><rect x="452.86" y="235.68" width="1.4" height="1.4" fill="#222"/><rect x="454.51" y="263.14" width="1.4" height="1.4" fill="#222"/><rect x="452.24" y="203.87" width="1.4" height="1.4" fill="#222"/><rect x="450.17" y="215.18" width="1.4" height="1.4" fill="#222"/><rect x="466.19" y="271.19" width="1.4" height="1.4" fill="#222"/><rect x="469.55" y="248.23" width="1.4" height="1.4" fill="#222"/><rect x="467.26" y="242.12" width="1.4" height="1.4" fill="#222"/><rect x="469.62" y="271.87" width="1.4" height="1.4" fill="#222"/><rect x="467" y="271.22" width="1.4" height="1.4" fill="#222"/><rect x="466.34" y="256.91" width="1.4" height="1.4" fill="#222"/><rect x="469.82" y="244.82" width="1.4" height="1.4" fill="#222"/><rect x="469.53" y="248.38" width="1.4" height="1.4" fill="#222"/><rect x="470.21" y="257.2" width="1.4" height="1.4" fill="#222"/><rect x="469.6" y="252.05" width="1.4" height="1.4" fill="#222"/><rect x="466.5" y="257.65" width="1.4" height="1.4" fill="#222"/><rect x="469.12" y="258.72" width="1.4" height="1.4" fill="#222"/><rect x="469.5" y="261.34" width="1.4" height="1.4" fill="#222"/><rect x="468.31" y="264.5" width="1.4" height="1.4" fill="#222"/><rect x="470.58" y="253.73" width="1.4" height="1.4" fill="#222"/><rect x="467.32" y="259.93" width="1.4" height="1.4" fill="#222"/><rect x="470.73" y="254.47" width="1.4" height="1.4" fill="#222"/><rect x="469.54" y="263.5" width="1.4" height="1.4" fill="#222"/><rect x="466.15" y="236.2" width="1.4" height="1.4" fill="#222"/><rect x="485.12" y="260.35" width="1.4" height="1.4" fill="#222"/><rect x="484.11" y="266.13" width="1.4" height="1.4" fill="#222"/><rect x="483.95" y="265.98" width="1.4" height="1.4" fill="#222"/><rect x="485.87" y="268.49" width="1.4" height="1.4" fill="#222"/><rect x="486.64" y="269.57" width="1.4" height="1.4" fill="#222"/><rect x="485.87" y="260.35" width="1.4" height="1.4" fill="#222"/><rect x="484.82" y="262.1" width="1.4" height="1.4" fill="#222"/><rect x="483.5" y="260.35" width="1.4" height="1.4" fill="#222"/><rect x="482.39" y="268.38" width="1.4" height="1.4" fill="#222"/><rect x="486.77" y="266.61" width="1.4" height="1.4" fill="#222"/><rect x="485.48" y="270.86" width="1.4" height="1.4" fill="#222"/><rect x="486.07" y="262.25" width="1.4" height="1.4" fill="#222"/><rect x="483.69" y="273.24" width="1.4" height="1.4" fill="#222"/><rect x="485.01" y="264.13" width="1.4" height="1.4" fill="#222"/><rect x="486.79" y="261.65" width="1.4" height="1.4" fill="#222"/><rect x="486.09" y="260.35" width="1.4" height="1.4" fill="#222"/><rect x="484.99" y="271.13" width="1.4" height="1.4" fill="#222"/><rect x="483.58" y="261.68" width="1.4" height="1.4" fill="#222"/><rect x="484.16" y="253.18" width="1.4" height="1.4" fill="#222"/><rect x="499.41" y="254.58" width="1.4" height="1.4" fill="#222"/><rect x="502.19" y="277.97" width="1.4" height="1.4" fill="#222"/><rect x="501.97" y="276.46" width="1.4" height="1.4" fill="#222"/><rect x="501.39" y="283.56" width="1.4" height="1.4" fill="#222"/><rect x="502.49" y="243.77" width="1.4" height="1.4" fill="#222"/><rect x="499.76" y="284.29" width="1.4" height="1.4" fill="#222"/><rect x="498.51" y="267.45" width="1.4" height="1.4" fill="#222"/><rect x="500.76" y="266.27" width="1.4" height="1.4" fill="#222"/><rect x="501.93" y="268.7" width="1.4" height="1.4" fill="#222"/><rect x="499.06" y="249.41" width="1.4" height="1.4" fill="#222"/><rect x="501.7" y="282.58" width="1.4" height="1.4" fill="#222"/><rect x="502.57" y="283.51" width="1.4" height="1.4" fill="#222"/><rect x="499.22" y="263.42" width="1.4" height="1.4" fill="#222"/><rect x="501.01" y="270.5" width="1.4" height="1.4" fill="#222"/><rect x="501.35" y="251.66" width="1.4" height="1.4" fill="#222"/><rect x="500.33" y="282.58" width="1.4" height="1.4" fill="#222"/><rect x="499.09" y="252.3" width="1.4" height="1.4" fill="#222"/><rect x="499.32" y="283.72" width="1.4" height="1.4" fill="#222"/><rect x="501.71" y="197.4" width="1.4" height="1.4" fill="#222"/><rect x="501.9" y="216.8" width="1.4" height="1.4" fill="#222"/><rect x="516.58" y="273.75" width="1.4" height="1.4" fill="#222"/><rect x="514.82" y="271.25" width="1.4" height="1.4" fill="#222"/><rect x="514.31" y="268.9" width="1.4" height="1.4" fill="#222"/><rect x="518.89" y="278.65" width="1.4" height="1.4" fill="#222"/><rect x="515.9" y="271.09" width="1.4" height="1.4" fill="#222"/><rect x="514.61" y="265.5" width="1.4" height="1.4" fill="#222"/><rect x="517.14" y="265.19" width="1.4" height="1.4" fill="#222"/><rect x="517.88" y="277.77" width="1.4" height="1.4" fill="#222"/><rect x="514.85" y="277.16" width="1.4" height="1.4" fill="#222"/><rect x="516.97" y="272.51" width="1.4" height="1.4" fill="#222"/><rect x="515.76" y="274.39" width="1.4" height="1.4" fill="#222"/><rect x="516.59" y="273.42" width="1.4" height="1.4" fill="#222"/><rect x="514.2" y="270.7" width="1.4" height="1.4" fill="#222"/><rect x="514.26" y="268.94" width="1.4" height="1.4" fill="#222"/><rect x="518.85" y="273.14" width="1.4" height="1.4" fill="#222"/><rect x="518.26" y="276.1" width="1.4" height="1.4" fill="#222"/><rect x="516.43" y="276.23" width="1.4" height="1.4" fill="#222"/><rect x="516.82" y="273.68" width="1.4" height="1.4" fill="#222"/><rect x="515.36" y="253.18" width="1.4" height="1.4" fill="#222"/><rect x="517.84" y="258.83" width="1.4" height="1.4" fill="#222"/><rect x="532.01" y="279.89" width="1.4" height="1.4" fill="#222"/><rect x="530.68" y="268.47" width="1.4" height="1.4" fill="#222"/><rect x="534.7" y="272.48" width="1.4" height="1.4" fill="#222"/><rect x="531.33" y="279.89" width="1.4" height="1.4" fill="#222"/><rect x="532.81" y="270.01" width="1.4" height="1.4" fill="#222"/><rect x="533.18" y="274.17" width="1.4" height="1.4" fill="#222"/><rect x="534.69" y="270.44" width="1.4" height="1.4" fill="#222"/><rect x="533.31" y="272.67" width="1.4" height="1.4" fill="#222"/><rect x="531.99" y="272.59" width="1.4" height="1.4" fill="#222"/><rect x="532.25" y="271.67" width="1.4" height="1.4" fill="#222"/><rect x="530.87" y="267.9" width="1.4" height="1.4" fill="#222"/><rect x="534.74" y="271.56" width="1.4" height="1.4" fill="#222"/><rect x="534.86" y="269.94" width="1.4" height="1.4" fill="#222"/><rect x="531.16" y="277.02" width="1.4" height="1.4" fill="#222"/><rect x="530.29" y="267.16" width="1.4" height="1.4" fill="#222"/><rect x="531.33" y="276.62" width="1.4" height="1.4" fill="#222"/><rect x="531.79" y="267.76" width="1.4" height="1.4" fill="#222"/><rect x="534.43" y="270.98" width="1.4" height="1.4" fill="#222"/><rect x="534.44" y="257.22" width="1.4" height="1.4" fill="#222"/><path d="M453.2 236.41V270.69M450.7 236.41H455.7M450.7 270.69H455.7" stroke="#1a1a1a" stroke-width="0.9" fill="none"/><path d="M469.2 244.34V274.73M466.7 244.34H471.7M466.7 274.73H471.7" stroke="#1a1a1a" stroke-width="0.9" fill="none"/><path d="M485.2 261.63V273.27M482.7 261.63H487.7M482.7 273.27H487.7" stroke="#1a1a1a" stroke-width="0.9" fill="none"/><path d="M501.2 246.6V289.28M498.7 246.6H503.7M498.7 289.28H503.7" stroke="#1a1a1a" stroke-width="0.9" fill="none"/><path d="M517.2 266.48V278.45M514.7 266.48H519.7M514.7 278.45H519.7" stroke="#1a1a1a" stroke-width="0.9" fill="none"/><path d="M533.2 268.42V279.74M530.7 268.42H535.7M530.7 279.74H535.7" stroke="#1a1a1a" stroke-width="0.9" fill="none"/><path d="M443.5 188.4V290.5H543.6" stroke="#1a1a1a" stroke-width="1.3" fill="none"/><path d="M443.5 285.5H543.6" stroke="#1a1a1a" stroke-width="1.3" fill="none"/><path d="M439.5 285.5H443" stroke="#1a1a1a" stroke-width="1"/><text x="438" y="288.1" class="tk" style="font-size:7.5px">0</text><path d="M439.5 253.5H443" stroke="#1a1a1a" stroke-width="1"/><text x="438" y="255.77" class="tk" style="font-size:7.5px">20</text><path d="M439.5 220.5H443" stroke="#1a1a1a" stroke-width="1"/><text x="438" y="223.43" class="tk" style="font-size:7.5px">40</text><path d="M439.5 188.5H443" stroke="#1a1a1a" stroke-width="1"/><text x="438" y="191.1" class="tk" style="font-size:7.5px">60</text><path d="M453.5 290v3.8" stroke="#1a1a1a" stroke-width="1"/><text class="xl" style="font-size:7.2px" transform="translate(455.4 301) rotate(-45)">PBS</text><path d="M469.5 290v3.8" stroke="#1a1a1a" stroke-width="1"/><text class="xl" style="font-size:7.2px" transform="translate(471.4 301) rotate(-45)">AB</text><path d="M485.5 290v3.8" stroke="#1a1a1a" stroke-width="1"/><text class="xl" style="font-size:7.2px" transform="translate(487.4 301) rotate(-45)">WG</text><path d="M501.5 290v3.8" stroke="#1a1a1a" stroke-width="1"/><text class="xl" style="font-size:7.2px" transform="translate(503.4 301) rotate(-45)">F-IVIG</text><path d="M517.5 290v3.8" stroke="#1a1a1a" stroke-width="1"/><text class="xl" style="font-size:7.2px" transform="translate(519.4 301) rotate(-45)">M-IVIG</text><path d="M533.5 290v3.8" stroke="#1a1a1a" stroke-width="1"/><text class="xl" style="font-size:7.2px" transform="translate(535.4 301) rotate(-45)">Mix-IVIG</text><path d="M453 181.5H535.4" stroke="#1a1a1a" stroke-width="1"/><text x="494.7" y="181.7" class="st">****</text><path d="M453 188.5H518" stroke="#1a1a1a" stroke-width="1"/><text x="486" y="188.7" class="st">***</text><path d="M453 195.5H502.4" stroke="#1a1a1a" stroke-width="1"/><text x="478.2" y="195.7" class="st">*</text><path d="M453 201.5H485.4" stroke="#1a1a1a" stroke-width="1"/><text x="469.7" y="201.7" class="st">*</text><path d="M470.4 228.5H533" stroke="#1a1a1a" stroke-width="1"/><text x="502.2" y="228.7" class="st">**</text><path d="M470.4 235.5H516.6" stroke="#1a1a1a" stroke-width="1"/><text x="494" y="235.7" class="st">*</text><text x="413" y="175.3" class="lt">H</text><text class="yt" style="font-size:8.62px" transform="translate(422.6 294.6) rotate(-90)">MIP-1β<tspan dx="-4.31">（</tspan><tspan> pg/100μg protein）</tspan></text></g>
<g><rect x="35.6" y="418" width="10.5" height="45" fill="#95802f"/><rect x="51.48" y="421" width="10.5" height="42" fill="#a7a6ab"/><rect x="67.36" y="419.62" width="10.5" height="43.38" fill="#0e889b"/><rect x="83.24" y="426.38" width="10.5" height="36.62" fill="#f80306"/><rect x="99.12" y="422" width="10.5" height="41" fill="#0202f6"/><rect x="115" y="435.38" width="10.5" height="27.62" fill="#c900f2"/><rect x="40.06" y="415.8" width="1.4" height="1.4" fill="#222"/><rect x="38.56" y="419.76" width="1.4" height="1.4" fill="#222"/><rect x="38.89" y="413.99" width="1.4" height="1.4" fill="#222"/><rect x="38.44" y="430.67" width="1.4" height="1.4" fill="#222"/><rect x="41" y="430.67" width="1.4" height="1.4" fill="#222"/><rect x="37.81" y="430.67" width="1.4" height="1.4" fill="#222"/><rect x="41.19" y="412.41" width="1.4" height="1.4" fill="#222"/><rect x="38.69" y="415.51" width="1.4" height="1.4" fill="#222"/><rect x="37.92" y="416.62" width="1.4" height="1.4" fill="#222"/><rect x="42.2" y="430.67" width="1.4" height="1.4" fill="#222"/><rect x="38.81" y="420.77" width="1.4" height="1.4" fill="#222"/><rect x="42.23" y="424.32" width="1.4" height="1.4" fill="#222"/><rect x="41.91" y="430.45" width="1.4" height="1.4" fill="#222"/><rect x="42.02" y="425.81" width="1.4" height="1.4" fill="#222"/><rect x="38.42" y="410.81" width="1.4" height="1.4" fill="#222"/><rect x="39.9" y="412.24" width="1.4" height="1.4" fill="#222"/><rect x="38.22" y="417.51" width="1.4" height="1.4" fill="#222"/><rect x="42.21" y="412.52" width="1.4" height="1.4" fill="#222"/><rect x="41.79" y="398.55" width="1.4" height="1.4" fill="#222"/><rect x="55.24" y="429.64" width="1.4" height="1.4" fill="#222"/><rect x="54.44" y="430.04" width="1.4" height="1.4" fill="#222"/><rect x="55.99" y="432.54" width="1.4" height="1.4" fill="#222"/><rect x="55.16" y="403.39" width="1.4" height="1.4" fill="#222"/><rect x="57.97" y="437.43" width="1.4" height="1.4" fill="#222"/><rect x="54.18" y="417.87" width="1.4" height="1.4" fill="#222"/><rect x="58.33" y="414.87" width="1.4" height="1.4" fill="#222"/><rect x="53.9" y="413.5" width="1.4" height="1.4" fill="#222"/><rect x="57.93" y="403.39" width="1.4" height="1.4" fill="#222"/><rect x="56.84" y="413.51" width="1.4" height="1.4" fill="#222"/><rect x="54.64" y="426.79" width="1.4" height="1.4" fill="#222"/><rect x="55.92" y="422.56" width="1.4" height="1.4" fill="#222"/><rect x="55" y="413.64" width="1.4" height="1.4" fill="#222"/><rect x="54.87" y="427.33" width="1.4" height="1.4" fill="#222"/><rect x="54.6" y="426.38" width="1.4" height="1.4" fill="#222"/><rect x="55.38" y="416.53" width="1.4" height="1.4" fill="#222"/><rect x="58.39" y="423.41" width="1.4" height="1.4" fill="#222"/><rect x="58.42" y="403.39" width="1.4" height="1.4" fill="#222"/><rect x="58.07" y="379.8" width="1.4" height="1.4" fill="#222"/><rect x="72.25" y="409.05" width="1.4" height="1.4" fill="#222"/><rect x="70.17" y="411.98" width="1.4" height="1.4" fill="#222"/><rect x="70.37" y="414.93" width="1.4" height="1.4" fill="#222"/><rect x="73.21" y="421.97" width="1.4" height="1.4" fill="#222"/><rect x="72.93" y="420.72" width="1.4" height="1.4" fill="#222"/><rect x="70.45" y="430.96" width="1.4" height="1.4" fill="#222"/><rect x="69.89" y="416.32" width="1.4" height="1.4" fill="#222"/><rect x="69.93" y="419.28" width="1.4" height="1.4" fill="#222"/><rect x="72.43" y="414.25" width="1.4" height="1.4" fill="#222"/><rect x="71.89" y="431.41" width="1.4" height="1.4" fill="#222"/><rect x="70.82" y="418.35" width="1.4" height="1.4" fill="#222"/><rect x="70.5" y="418.23" width="1.4" height="1.4" fill="#222"/><rect x="72.45" y="410.1" width="1.4" height="1.4" fill="#222"/><rect x="72.91" y="434.45" width="1.4" height="1.4" fill="#222"/><rect x="73.41" y="412.8" width="1.4" height="1.4" fill="#222"/><rect x="72.31" y="404.57" width="1.4" height="1.4" fill="#222"/><rect x="70.48" y="410.21" width="1.4" height="1.4" fill="#222"/><rect x="69.83" y="424.31" width="1.4" height="1.4" fill="#222"/><rect x="73.03" y="387.3" width="1.4" height="1.4" fill="#222"/><rect x="88.25" y="433.98" width="1.4" height="1.4" fill="#222"/><rect x="85.41" y="420.26" width="1.4" height="1.4" fill="#222"/><rect x="87.89" y="417.15" width="1.4" height="1.4" fill="#222"/><rect x="87.53" y="421.82" width="1.4" height="1.4" fill="#222"/><rect x="87.87" y="431.75" width="1.4" height="1.4" fill="#222"/><rect x="85.97" y="417.15" width="1.4" height="1.4" fill="#222"/><rect x="88.82" y="420.91" width="1.4" height="1.4" fill="#222"/><rect x="89.31" y="431.11" width="1.4" height="1.4" fill="#222"/><rect x="89.54" y="417.15" width="1.4" height="1.4" fill="#222"/><rect x="86.93" y="424.36" width="1.4" height="1.4" fill="#222"/><rect x="88.8" y="434.59" width="1.4" height="1.4" fill="#222"/><rect x="87.22" y="423.83" width="1.4" height="1.4" fill="#222"/><rect x="89" y="426.08" width="1.4" height="1.4" fill="#222"/><rect x="85.68" y="421.72" width="1.4" height="1.4" fill="#222"/><rect x="89.58" y="422.77" width="1.4" height="1.4" fill="#222"/><rect x="89.97" y="430.84" width="1.4" height="1.4" fill="#222"/><rect x="87.77" y="422.59" width="1.4" height="1.4" fill="#222"/><rect x="87.85" y="420.56" width="1.4" height="1.4" fill="#222"/><rect x="101.76" y="434.95" width="1.4" height="1.4" fill="#222"/><rect x="105.44" y="423.95" width="1.4" height="1.4" fill="#222"/><rect x="104.71" y="405.9" width="1.4" height="1.4" fill="#222"/><rect x="101.49" y="417.5" width="1.4" height="1.4" fill="#222"/><rect x="101.86" y="420.13" width="1.4" height="1.4" fill="#222"/><rect x="103.64" y="414.29" width="1.4" height="1.4" fill="#222"/><rect x="103.67" y="414.5" width="1.4" height="1.4" fill="#222"/><rect x="102.61" y="416.19" width="1.4" height="1.4" fill="#222"/><rect x="101.86" y="420.17" width="1.4" height="1.4" fill="#222"/><rect x="103.22" y="423.83" width="1.4" height="1.4" fill="#222"/><rect x="101.93" y="407.04" width="1.4" height="1.4" fill="#222"/><rect x="104.11" y="411.41" width="1.4" height="1.4" fill="#222"/><rect x="105.4" y="420.58" width="1.4" height="1.4" fill="#222"/><rect x="101.98" y="419.31" width="1.4" height="1.4" fill="#222"/><rect x="104.02" y="433.21" width="1.4" height="1.4" fill="#222"/><rect x="104.85" y="429.88" width="1.4" height="1.4" fill="#222"/><rect x="102.06" y="437.4" width="1.4" height="1.4" fill="#222"/><rect x="105.23" y="423.8" width="1.4" height="1.4" fill="#222"/><rect x="105.77" y="389.8" width="1.4" height="1.4" fill="#222"/><rect x="121.75" y="440.03" width="1.4" height="1.4" fill="#222"/><rect x="121.63" y="430.17" width="1.4" height="1.4" fill="#222"/><rect x="118.35" y="430.3" width="1.4" height="1.4" fill="#222"/><rect x="119.18" y="441.59" width="1.4" height="1.4" fill="#222"/><rect x="120.19" y="444.31" width="1.4" height="1.4" fill="#222"/><rect x="118.9" y="425.46" width="1.4" height="1.4" fill="#222"/><rect x="119.7" y="433.65" width="1.4" height="1.4" fill="#222"/><rect x="117.48" y="440.68" width="1.4" height="1.4" fill="#222"/><rect x="119.23" y="434.31" width="1.4" height="1.4" fill="#222"/><rect x="119.57" y="428.63" width="1.4" height="1.4" fill="#222"/><rect x="117.25" y="444.31" width="1.4" height="1.4" fill="#222"/><rect x="117.82" y="427.24" width="1.4" height="1.4" fill="#222"/><rect x="121.8" y="429.72" width="1.4" height="1.4" fill="#222"/><rect x="120.88" y="444.31" width="1.4" height="1.4" fill="#222"/><rect x="121.65" y="429.51" width="1.4" height="1.4" fill="#222"/><rect x="120.19" y="444.31" width="1.4" height="1.4" fill="#222"/><rect x="121.03" y="427.04" width="1.4" height="1.4" fill="#222"/><rect x="121.39" y="432" width="1.4" height="1.4" fill="#222"/><path d="M40.85 406.38V429.62M38.33 406.38H43.37M38.33 429.62H43.37" stroke="#1a1a1a" stroke-width="0.9" fill="none"/><path d="M56.73 405.62V436.38M54.21 405.62H59.25M54.21 436.38H59.25" stroke="#1a1a1a" stroke-width="0.9" fill="none"/><path d="M72.61 401.38V437.88M70.09 401.38H75.13M70.09 437.88H75.13" stroke="#1a1a1a" stroke-width="0.9" fill="none"/><path d="M88.49 418.62V434.12M85.97 418.62H91.01M85.97 434.12H91.01" stroke="#1a1a1a" stroke-width="0.9" fill="none"/><path d="M104.37 408V436M101.85 408H106.89M101.85 436H106.89" stroke="#1a1a1a" stroke-width="0.9" fill="none"/><path d="M120.25 427V443.75M117.73 427H122.77M117.73 443.75H122.77" stroke="#1a1a1a" stroke-width="0.9" fill="none"/><path d="M30.5 363V463.5H130" stroke="#1a1a1a" stroke-width="1.3" fill="none"/><path d="M26.9 463.5H30.4" stroke="#1a1a1a" stroke-width="1"/><text x="25.4" y="465.7" class="tk" style="font-size:7.5px">0.0</text><path d="M26.9 438.5H30.4" stroke="#1a1a1a" stroke-width="1"/><text x="25.4" y="440.7" class="tk" style="font-size:7.5px">0.2</text><path d="M26.9 413.5H30.4" stroke="#1a1a1a" stroke-width="1"/><text x="25.4" y="415.7" class="tk" style="font-size:7.5px">0.4</text><path d="M26.9 388.5H30.4" stroke="#1a1a1a" stroke-width="1"/><text x="25.4" y="390.7" class="tk" style="font-size:7.5px">0.6</text><path d="M26.9 363.5H30.4" stroke="#1a1a1a" stroke-width="1"/><text x="25.4" y="365.7" class="tk" style="font-size:7.5px">0.8</text><path d="M40.5 463v3.8" stroke="#1a1a1a" stroke-width="1"/><text class="xl" style="font-size:7.2px" transform="translate(43.05 474) rotate(-45)">PBS</text><path d="M56.5 463v3.8" stroke="#1a1a1a" stroke-width="1"/><text class="xl" style="font-size:7.2px" transform="translate(58.93 474) rotate(-45)">AB</text><path d="M72.5 463v3.8" stroke="#1a1a1a" stroke-width="1"/><text class="xl" style="font-size:7.2px" transform="translate(74.81 474) rotate(-45)">WG</text><path d="M88.5 463v3.8" stroke="#1a1a1a" stroke-width="1"/><text class="xl" style="font-size:7.2px" transform="translate(90.69 474) rotate(-45)">F-IVIG</text><path d="M104.5 463v3.8" stroke="#1a1a1a" stroke-width="1"/><text class="xl" style="font-size:7.2px" transform="translate(106.57 474) rotate(-45)">M-IVIG</text><path d="M120.5 463v3.8" stroke="#1a1a1a" stroke-width="1"/><text class="xl" style="font-size:7.2px" transform="translate(122.45 474) rotate(-45)">Mix-IVIG</text><path d="M42 362.5H120" stroke="#1a1a1a" stroke-width="1"/><text x="81.5" y="362.7" class="st">***</text><path d="M59 370.5H120" stroke="#1a1a1a" stroke-width="1"/><text x="90" y="370.7" class="st">**</text><path d="M71 377.5H120" stroke="#1a1a1a" stroke-width="1"/><text x="96" y="377.7" class="st">**</text><path d="M106.4 388.5H120" stroke="#1a1a1a" stroke-width="1"/><text x="113.7" y="388.7" class="st">*</text><text x="12.4" y="347.3" class="lt">I</text><text class="yt" style="font-size:8.59px" transform="translate(9.5 461.7) rotate(-90)">IL-6<tspan dx="-4.29">（</tspan><tspan> pg/100μg protein）</tspan></text></g>
<g><rect x="172" y="444.4" width="10.3" height="19" fill="#95802f"/><rect x="187.8" y="447" width="10.3" height="16.4" fill="#a7a6ab"/><rect x="203.6" y="445.6" width="10.3" height="17.8" fill="#0e889b"/><rect x="219.4" y="451" width="10.3" height="12.4" fill="#f80306"/><rect x="235.2" y="442.4" width="10.3" height="21" fill="#0202f6"/><rect x="251" y="456" width="10.3" height="7.4" fill="#c900f2"/><rect x="178.64" y="442.31" width="1.4" height="1.4" fill="#222"/><rect x="176.52" y="444.93" width="1.4" height="1.4" fill="#222"/><rect x="175.34" y="447.19" width="1.4" height="1.4" fill="#222"/><rect x="176.29" y="448" width="1.4" height="1.4" fill="#222"/><rect x="176.61" y="446.15" width="1.4" height="1.4" fill="#222"/><rect x="174.76" y="448.77" width="1.4" height="1.4" fill="#222"/><rect x="174.64" y="453.82" width="1.4" height="1.4" fill="#222"/><rect x="174.68" y="447.9" width="1.4" height="1.4" fill="#222"/><rect x="175.46" y="447.57" width="1.4" height="1.4" fill="#222"/><rect x="176" y="447.39" width="1.4" height="1.4" fill="#222"/><rect x="175.43" y="451.15" width="1.4" height="1.4" fill="#222"/><rect x="175.22" y="444.66" width="1.4" height="1.4" fill="#222"/><rect x="174.47" y="438.18" width="1.4" height="1.4" fill="#222"/><rect x="176.67" y="445.46" width="1.4" height="1.4" fill="#222"/><rect x="178.08" y="447.17" width="1.4" height="1.4" fill="#222"/><rect x="176.98" y="434.14" width="1.4" height="1.4" fill="#222"/><rect x="176.79" y="436.82" width="1.4" height="1.4" fill="#222"/><rect x="177.17" y="437.21" width="1.4" height="1.4" fill="#222"/><rect x="175.02" y="426.7" width="1.4" height="1.4" fill="#222"/><rect x="194.59" y="448.84" width="1.4" height="1.4" fill="#222"/><rect x="191.27" y="456.3" width="1.4" height="1.4" fill="#222"/><rect x="193.56" y="458.51" width="1.4" height="1.4" fill="#222"/><rect x="190.61" y="450.1" width="1.4" height="1.4" fill="#222"/><rect x="190.17" y="454.15" width="1.4" height="1.4" fill="#222"/><rect x="194.03" y="444.75" width="1.4" height="1.4" fill="#222"/><rect x="191.96" y="445.98" width="1.4" height="1.4" fill="#222"/><rect x="190.15" y="439.74" width="1.4" height="1.4" fill="#222"/><rect x="191.71" y="455.39" width="1.4" height="1.4" fill="#222"/><rect x="191.96" y="447.01" width="1.4" height="1.4" fill="#222"/><rect x="193.38" y="447.53" width="1.4" height="1.4" fill="#222"/><rect x="190.37" y="447.04" width="1.4" height="1.4" fill="#222"/><rect x="190.93" y="457.4" width="1.4" height="1.4" fill="#222"/><rect x="194.45" y="433.54" width="1.4" height="1.4" fill="#222"/><rect x="193.4" y="445.45" width="1.4" height="1.4" fill="#222"/><rect x="190.59" y="434.49" width="1.4" height="1.4" fill="#222"/><rect x="191.47" y="453.89" width="1.4" height="1.4" fill="#222"/><rect x="191.54" y="445.89" width="1.4" height="1.4" fill="#222"/><rect x="193.09" y="419.7" width="1.4" height="1.4" fill="#222"/><rect x="208.4" y="448.58" width="1.4" height="1.4" fill="#222"/><rect x="207.66" y="448.23" width="1.4" height="1.4" fill="#222"/><rect x="209.41" y="443.56" width="1.4" height="1.4" fill="#222"/><rect x="209.84" y="447.69" width="1.4" height="1.4" fill="#222"/><rect x="208.57" y="445.2" width="1.4" height="1.4" fill="#222"/><rect x="207.47" y="448.58" width="1.4" height="1.4" fill="#222"/><rect x="207.82" y="444.72" width="1.4" height="1.4" fill="#222"/><rect x="207.85" y="447.8" width="1.4" height="1.4" fill="#222"/><rect x="209.12" y="444.02" width="1.4" height="1.4" fill="#222"/><rect x="207.06" y="448.58" width="1.4" height="1.4" fill="#222"/><rect x="207.53" y="443.75" width="1.4" height="1.4" fill="#222"/><rect x="208.32" y="445.58" width="1.4" height="1.4" fill="#222"/><rect x="207.5" y="444.74" width="1.4" height="1.4" fill="#222"/><rect x="207.2" y="445.07" width="1.4" height="1.4" fill="#222"/><rect x="209.43" y="444.57" width="1.4" height="1.4" fill="#222"/><rect x="209.73" y="448.28" width="1.4" height="1.4" fill="#222"/><rect x="208.05" y="448.58" width="1.4" height="1.4" fill="#222"/><rect x="207.78" y="444.81" width="1.4" height="1.4" fill="#222"/><rect x="225.87" y="448.22" width="1.4" height="1.4" fill="#222"/><rect x="225.16" y="445.56" width="1.4" height="1.4" fill="#222"/><rect x="224.03" y="445.42" width="1.4" height="1.4" fill="#222"/><rect x="226.24" y="444.01" width="1.4" height="1.4" fill="#222"/><rect x="223.93" y="452.57" width="1.4" height="1.4" fill="#222"/><rect x="223.93" y="451.58" width="1.4" height="1.4" fill="#222"/><rect x="224.74" y="445.58" width="1.4" height="1.4" fill="#222"/><rect x="223.32" y="452.89" width="1.4" height="1.4" fill="#222"/><rect x="223.17" y="443.88" width="1.4" height="1.4" fill="#222"/><rect x="224.3" y="459.04" width="1.4" height="1.4" fill="#222"/><rect x="223.14" y="446.33" width="1.4" height="1.4" fill="#222"/><rect x="226" y="451.35" width="1.4" height="1.4" fill="#222"/><rect x="224.7" y="459.04" width="1.4" height="1.4" fill="#222"/><rect x="223.97" y="444.34" width="1.4" height="1.4" fill="#222"/><rect x="221.93" y="448.41" width="1.4" height="1.4" fill="#222"/><rect x="223.25" y="450.17" width="1.4" height="1.4" fill="#222"/><rect x="223.37" y="456.85" width="1.4" height="1.4" fill="#222"/><rect x="224.14" y="453.13" width="1.4" height="1.4" fill="#222"/><rect x="224.21" y="436.7" width="1.4" height="1.4" fill="#222"/><rect x="242" y="419.7" width="1.4" height="1.4" fill="#222"/><rect x="241.51" y="462.1" width="1.4" height="1.4" fill="#222"/><rect x="239.27" y="458.87" width="1.4" height="1.4" fill="#222"/><rect x="238" y="440.26" width="1.4" height="1.4" fill="#222"/><rect x="238.64" y="462.1" width="1.4" height="1.4" fill="#222"/><rect x="239.71" y="462.1" width="1.4" height="1.4" fill="#222"/><rect x="239.67" y="452.58" width="1.4" height="1.4" fill="#222"/><rect x="238.15" y="425.32" width="1.4" height="1.4" fill="#222"/><rect x="238.13" y="437.76" width="1.4" height="1.4" fill="#222"/><rect x="240.27" y="450.66" width="1.4" height="1.4" fill="#222"/><rect x="240.15" y="460.08" width="1.4" height="1.4" fill="#222"/><rect x="238.95" y="419.7" width="1.4" height="1.4" fill="#222"/><rect x="242.02" y="432.88" width="1.4" height="1.4" fill="#222"/><rect x="240.31" y="458.73" width="1.4" height="1.4" fill="#222"/><rect x="237.45" y="419.7" width="1.4" height="1.4" fill="#222"/><rect x="239.22" y="419.99" width="1.4" height="1.4" fill="#222"/><rect x="241.03" y="452.64" width="1.4" height="1.4" fill="#222"/><rect x="238.72" y="462.1" width="1.4" height="1.4" fill="#222"/><rect x="240.57" y="381.7" width="1.4" height="1.4" fill="#222"/><rect x="253.53" y="451.89" width="1.4" height="1.4" fill="#222"/><rect x="253.87" y="455.22" width="1.4" height="1.4" fill="#222"/><rect x="255.56" y="452.39" width="1.4" height="1.4" fill="#222"/><rect x="257" y="459.75" width="1.4" height="1.4" fill="#222"/><rect x="255.99" y="456.6" width="1.4" height="1.4" fill="#222"/><rect x="256.92" y="457.6" width="1.4" height="1.4" fill="#222"/><rect x="253.35" y="460.38" width="1.4" height="1.4" fill="#222"/><rect x="253.11" y="455.23" width="1.4" height="1.4" fill="#222"/><rect x="256.75" y="455.88" width="1.4" height="1.4" fill="#222"/><rect x="254.6" y="449.8" width="1.4" height="1.4" fill="#222"/><rect x="256.48" y="461.05" width="1.4" height="1.4" fill="#222"/><rect x="254.75" y="457.99" width="1.4" height="1.4" fill="#222"/><rect x="253.86" y="458.97" width="1.4" height="1.4" fill="#222"/><rect x="254.33" y="457.16" width="1.4" height="1.4" fill="#222"/><rect x="253.53" y="453.61" width="1.4" height="1.4" fill="#222"/><rect x="257.39" y="453.68" width="1.4" height="1.4" fill="#222"/><rect x="255.84" y="455.19" width="1.4" height="1.4" fill="#222"/><rect x="254.72" y="457.2" width="1.4" height="1.4" fill="#222"/><path d="M177.15 435.6V453.2M174.68 435.6H179.62M174.68 453.2H179.62" stroke="#1a1a1a" stroke-width="0.9" fill="none"/><path d="M192.95 435.4V458.6M190.48 435.4H195.42M190.48 458.6H195.42" stroke="#1a1a1a" stroke-width="0.9" fill="none"/><path d="M208.75 442.4V448.8M206.28 442.4H211.22M206.28 448.8H211.22" stroke="#1a1a1a" stroke-width="0.9" fill="none"/><path d="M224.55 443.4V458.6M222.08 443.4H227.02M222.08 458.6H227.02" stroke="#1a1a1a" stroke-width="0.9" fill="none"/><path d="M240.35 422.4V462.4M237.88 422.4H242.82M237.88 462.4H242.82" stroke="#1a1a1a" stroke-width="0.9" fill="none"/><path d="M256.15 451V461M253.68 451H258.62M253.68 461H258.62" stroke="#1a1a1a" stroke-width="0.9" fill="none"/><path d="M166.5 363.4V463.5H267" stroke="#1a1a1a" stroke-width="1.3" fill="none"/><path d="M162.9 463.5H166.4" stroke="#1a1a1a" stroke-width="1"/><text x="161.4" y="466.1" class="tk" style="font-size:7.5px">0.0</text><path d="M162.9 443.5H166.4" stroke="#1a1a1a" stroke-width="1"/><text x="161.4" y="446.1" class="tk" style="font-size:7.5px">0.2</text><path d="M162.9 423.5H166.4" stroke="#1a1a1a" stroke-width="1"/><text x="161.4" y="426.1" class="tk" style="font-size:7.5px">0.4</text><path d="M162.9 403.5H166.4" stroke="#1a1a1a" stroke-width="1"/><text x="161.4" y="406.1" class="tk" style="font-size:7.5px">0.6</text><path d="M162.9 383.5H166.4" stroke="#1a1a1a" stroke-width="1"/><text x="161.4" y="386.1" class="tk" style="font-size:7.5px">0.8</text><path d="M162.9 363.5H166.4" stroke="#1a1a1a" stroke-width="1"/><text x="161.4" y="366.1" class="tk" style="font-size:7.5px">1.0</text><path d="M177.5 463.4v3.8" stroke="#1a1a1a" stroke-width="1"/><text class="xl" style="font-size:7.2px" transform="translate(179.35 474.4) rotate(-45)">PBS</text><path d="M192.5 463.4v3.8" stroke="#1a1a1a" stroke-width="1"/><text class="xl" style="font-size:7.2px" transform="translate(195.15 474.4) rotate(-45)">AB</text><path d="M208.5 463.4v3.8" stroke="#1a1a1a" stroke-width="1"/><text class="xl" style="font-size:7.2px" transform="translate(210.95 474.4) rotate(-45)">WG</text><path d="M224.5 463.4v3.8" stroke="#1a1a1a" stroke-width="1"/><text class="xl" style="font-size:7.2px" transform="translate(226.75 474.4) rotate(-45)">F-IVIG</text><path d="M240.5 463.4v3.8" stroke="#1a1a1a" stroke-width="1"/><text class="xl" style="font-size:7.2px" transform="translate(242.55 474.4) rotate(-45)">M-IVIG</text><path d="M256.5 463.4v3.8" stroke="#1a1a1a" stroke-width="1"/><text class="xl" style="font-size:7.2px" transform="translate(258.35 474.4) rotate(-45)">Mix-IVIG</text><path d="M240.4 419.5H255.4" stroke="#1a1a1a" stroke-width="1"/><text x="248.4" y="419.7" class="st">*</text><text x="145" y="347.3" class="lt">J</text><text class="yt" style="font-size:8.59px" transform="translate(145.6 471.5) rotate(-90)">IL-12p70<tspan dx="-4.29">（</tspan><tspan> pg/100μg protein）</tspan></text></g>
<g><rect x="310" y="434.4" width="10.5" height="29.2" fill="#95802f"/><rect x="325.8" y="424" width="10.5" height="39.6" fill="#a7a6ab"/><rect x="341.6" y="445.6" width="10.5" height="18" fill="#0e889b"/><rect x="357.4" y="447" width="10.5" height="16.6" fill="#f80306"/><rect x="373.2" y="448.4" width="10.5" height="15.2" fill="#0202f6"/><rect x="389" y="450" width="10.5" height="13.6" fill="#c900f2"/><rect x="314.53" y="442.26" width="1.4" height="1.4" fill="#222"/><rect x="316.71" y="430.91" width="1.4" height="1.4" fill="#222"/><rect x="313.32" y="421.16" width="1.4" height="1.4" fill="#222"/><rect x="314.02" y="427.24" width="1.4" height="1.4" fill="#222"/><rect x="315.6" y="446.81" width="1.4" height="1.4" fill="#222"/><rect x="313.21" y="445.17" width="1.4" height="1.4" fill="#222"/><rect x="313.63" y="445.49" width="1.4" height="1.4" fill="#222"/><rect x="316.35" y="429" width="1.4" height="1.4" fill="#222"/><rect x="314.48" y="433.69" width="1.4" height="1.4" fill="#222"/><rect x="315.96" y="430.96" width="1.4" height="1.4" fill="#222"/><rect x="313.32" y="421.16" width="1.4" height="1.4" fill="#222"/><rect x="312.98" y="441.24" width="1.4" height="1.4" fill="#222"/><rect x="313.87" y="441.43" width="1.4" height="1.4" fill="#222"/><rect x="313.05" y="421.16" width="1.4" height="1.4" fill="#222"/><rect x="316.81" y="430.58" width="1.4" height="1.4" fill="#222"/><rect x="313.55" y="440.8" width="1.4" height="1.4" fill="#222"/><rect x="314.85" y="446.81" width="1.4" height="1.4" fill="#222"/><rect x="312.7" y="446.81" width="1.4" height="1.4" fill="#222"/><rect x="314.71" y="415.9" width="1.4" height="1.4" fill="#222"/><rect x="328.56" y="433.09" width="1.4" height="1.4" fill="#222"/><rect x="330.08" y="414.74" width="1.4" height="1.4" fill="#222"/><rect x="331.96" y="417.28" width="1.4" height="1.4" fill="#222"/><rect x="331.81" y="420.68" width="1.4" height="1.4" fill="#222"/><rect x="328.71" y="417.84" width="1.4" height="1.4" fill="#222"/><rect x="329.64" y="433.88" width="1.4" height="1.4" fill="#222"/><rect x="331.42" y="423.03" width="1.4" height="1.4" fill="#222"/><rect x="329.76" y="414.97" width="1.4" height="1.4" fill="#222"/><rect x="332.55" y="425.27" width="1.4" height="1.4" fill="#222"/><rect x="328.95" y="414.09" width="1.4" height="1.4" fill="#222"/><rect x="332.51" y="405.7" width="1.4" height="1.4" fill="#222"/><rect x="330.37" y="419.18" width="1.4" height="1.4" fill="#222"/><rect x="329.04" y="427.35" width="1.4" height="1.4" fill="#222"/><rect x="330.12" y="417.04" width="1.4" height="1.4" fill="#222"/><rect x="328.58" y="424.84" width="1.4" height="1.4" fill="#222"/><rect x="331.34" y="428.73" width="1.4" height="1.4" fill="#222"/><rect x="329.2" y="426.3" width="1.4" height="1.4" fill="#222"/><rect x="332.27" y="405.7" width="1.4" height="1.4" fill="#222"/><rect x="330.77" y="371.9" width="1.4" height="1.4" fill="#222"/><rect x="329.72" y="402.9" width="1.4" height="1.4" fill="#222"/><rect x="346.93" y="444.64" width="1.4" height="1.4" fill="#222"/><rect x="344.27" y="433.73" width="1.4" height="1.4" fill="#222"/><rect x="346.45" y="441.04" width="1.4" height="1.4" fill="#222"/><rect x="345.49" y="433.68" width="1.4" height="1.4" fill="#222"/><rect x="346.15" y="437.88" width="1.4" height="1.4" fill="#222"/><rect x="345.18" y="438.08" width="1.4" height="1.4" fill="#222"/><rect x="344.07" y="451.15" width="1.4" height="1.4" fill="#222"/><rect x="345.24" y="446.61" width="1.4" height="1.4" fill="#222"/><rect x="344.84" y="443.8" width="1.4" height="1.4" fill="#222"/><rect x="344.36" y="452.87" width="1.4" height="1.4" fill="#222"/><rect x="347.19" y="450.7" width="1.4" height="1.4" fill="#222"/><rect x="345.11" y="453.73" width="1.4" height="1.4" fill="#222"/><rect x="345.69" y="447.92" width="1.4" height="1.4" fill="#222"/><rect x="348.11" y="437.37" width="1.4" height="1.4" fill="#222"/><rect x="347.47" y="440.53" width="1.4" height="1.4" fill="#222"/><rect x="347.99" y="442.28" width="1.4" height="1.4" fill="#222"/><rect x="347.88" y="440.64" width="1.4" height="1.4" fill="#222"/><rect x="344.38" y="450.68" width="1.4" height="1.4" fill="#222"/><rect x="359.74" y="446.59" width="1.4" height="1.4" fill="#222"/><rect x="360.33" y="444.56" width="1.4" height="1.4" fill="#222"/><rect x="360.5" y="450.85" width="1.4" height="1.4" fill="#222"/><rect x="361" y="455.91" width="1.4" height="1.4" fill="#222"/><rect x="361.38" y="450.72" width="1.4" height="1.4" fill="#222"/><rect x="359.74" y="440.33" width="1.4" height="1.4" fill="#222"/><rect x="361.04" y="452.34" width="1.4" height="1.4" fill="#222"/><rect x="362.61" y="455.69" width="1.4" height="1.4" fill="#222"/><rect x="360.41" y="446.16" width="1.4" height="1.4" fill="#222"/><rect x="363.58" y="436.4" width="1.4" height="1.4" fill="#222"/><rect x="362.29" y="452.37" width="1.4" height="1.4" fill="#222"/><rect x="362.99" y="438.18" width="1.4" height="1.4" fill="#222"/><rect x="360.77" y="444.82" width="1.4" height="1.4" fill="#222"/><rect x="361.64" y="443.06" width="1.4" height="1.4" fill="#222"/><rect x="362.83" y="436.4" width="1.4" height="1.4" fill="#222"/><rect x="361.23" y="452.41" width="1.4" height="1.4" fill="#222"/><rect x="359.55" y="446.78" width="1.4" height="1.4" fill="#222"/><rect x="363.55" y="448.31" width="1.4" height="1.4" fill="#222"/><rect x="375.78" y="446.89" width="1.4" height="1.4" fill="#222"/><rect x="379.89" y="452.5" width="1.4" height="1.4" fill="#222"/><rect x="377.39" y="439.56" width="1.4" height="1.4" fill="#222"/><rect x="379.82" y="444.6" width="1.4" height="1.4" fill="#222"/><rect x="378.67" y="449.14" width="1.4" height="1.4" fill="#222"/><rect x="378.9" y="448.85" width="1.4" height="1.4" fill="#222"/><rect x="379.33" y="447.6" width="1.4" height="1.4" fill="#222"/><rect x="378.36" y="444.83" width="1.4" height="1.4" fill="#222"/><rect x="377.52" y="446.65" width="1.4" height="1.4" fill="#222"/><rect x="375.61" y="451.63" width="1.4" height="1.4" fill="#222"/><rect x="378.7" y="439.56" width="1.4" height="1.4" fill="#222"/><rect x="377.41" y="452.74" width="1.4" height="1.4" fill="#222"/><rect x="377.81" y="439.88" width="1.4" height="1.4" fill="#222"/><rect x="379.81" y="443" width="1.4" height="1.4" fill="#222"/><rect x="375.96" y="455.41" width="1.4" height="1.4" fill="#222"/><rect x="379.01" y="441.61" width="1.4" height="1.4" fill="#222"/><rect x="375.56" y="445.42" width="1.4" height="1.4" fill="#222"/><rect x="378.72" y="451.93" width="1.4" height="1.4" fill="#222"/><rect x="393.29" y="448.36" width="1.4" height="1.4" fill="#222"/><rect x="395.64" y="451.87" width="1.4" height="1.4" fill="#222"/><rect x="392.84" y="454.36" width="1.4" height="1.4" fill="#222"/><rect x="392.59" y="451.97" width="1.4" height="1.4" fill="#222"/><rect x="395.4" y="452.16" width="1.4" height="1.4" fill="#222"/><rect x="391.83" y="452.65" width="1.4" height="1.4" fill="#222"/><rect x="393.85" y="449.3" width="1.4" height="1.4" fill="#222"/><rect x="392.75" y="448.07" width="1.4" height="1.4" fill="#222"/><rect x="395.06" y="451.57" width="1.4" height="1.4" fill="#222"/><rect x="393.78" y="446.48" width="1.4" height="1.4" fill="#222"/><rect x="394.8" y="448.39" width="1.4" height="1.4" fill="#222"/><rect x="391.96" y="446.4" width="1.4" height="1.4" fill="#222"/><rect x="394.35" y="445.69" width="1.4" height="1.4" fill="#222"/><rect x="394.02" y="445.13" width="1.4" height="1.4" fill="#222"/><rect x="393.36" y="450.55" width="1.4" height="1.4" fill="#222"/><rect x="394.83" y="451.58" width="1.4" height="1.4" fill="#222"/><rect x="395.14" y="449.08" width="1.4" height="1.4" fill="#222"/><rect x="391.7" y="445.07" width="1.4" height="1.4" fill="#222"/><path d="M315.25 423V445.8M312.73 423H317.77M312.73 445.8H317.77" stroke="#1a1a1a" stroke-width="0.9" fill="none"/><path d="M331.05 408V440M328.53 408H333.57M328.53 440H333.57" stroke="#1a1a1a" stroke-width="0.9" fill="none"/><path d="M346.85 435.4V455.8M344.33 435.4H349.37M344.33 455.8H349.37" stroke="#1a1a1a" stroke-width="0.9" fill="none"/><path d="M362.65 438V456M360.13 438H365.17M360.13 456H365.17" stroke="#1a1a1a" stroke-width="0.9" fill="none"/><path d="M378.45 441V455.8M375.93 441H380.97M375.93 455.8H380.97" stroke="#1a1a1a" stroke-width="0.9" fill="none"/><path d="M394.25 445.6V454.4M391.73 445.6H396.77M391.73 454.4H396.77" stroke="#1a1a1a" stroke-width="0.9" fill="none"/><path d="M304.5 363.6V463.5H405" stroke="#1a1a1a" stroke-width="1.3" fill="none"/><path d="M300.9 463.5H304.4" stroke="#1a1a1a" stroke-width="1"/><text x="299.4" y="466.3" class="tk" style="font-size:7.5px">0.0</text><path d="M300.9 443.5H304.4" stroke="#1a1a1a" stroke-width="1"/><text x="299.4" y="446.3" class="tk" style="font-size:7.5px">0.2</text><path d="M300.9 423.5H304.4" stroke="#1a1a1a" stroke-width="1"/><text x="299.4" y="426.3" class="tk" style="font-size:7.5px">0.4</text><path d="M300.9 403.5H304.4" stroke="#1a1a1a" stroke-width="1"/><text x="299.4" y="406.3" class="tk" style="font-size:7.5px">0.6</text><path d="M300.9 383.5H304.4" stroke="#1a1a1a" stroke-width="1"/><text x="299.4" y="386.3" class="tk" style="font-size:7.5px">0.8</text><path d="M300.9 363.5H304.4" stroke="#1a1a1a" stroke-width="1"/><text x="299.4" y="366.3" class="tk" style="font-size:7.5px">1.0</text><path d="M315.5 463.6v3.8" stroke="#1a1a1a" stroke-width="1"/><text class="xl" style="font-size:7.2px" transform="translate(317.45 474.6) rotate(-45)">PBS</text><path d="M331.5 463.6v3.8" stroke="#1a1a1a" stroke-width="1"/><text class="xl" style="font-size:7.2px" transform="translate(333.25 474.6) rotate(-45)">AB</text><path d="M346.5 463.6v3.8" stroke="#1a1a1a" stroke-width="1"/><text class="xl" style="font-size:7.2px" transform="translate(349.05 474.6) rotate(-45)">WG</text><path d="M362.5 463.6v3.8" stroke="#1a1a1a" stroke-width="1"/><text class="xl" style="font-size:7.2px" transform="translate(364.85 474.6) rotate(-45)">F-IVIG</text><path d="M378.5 463.6v3.8" stroke="#1a1a1a" stroke-width="1"/><text class="xl" style="font-size:7.2px" transform="translate(380.65 474.6) rotate(-45)">M-IVIG</text><path d="M394.5 463.6v3.8" stroke="#1a1a1a" stroke-width="1"/><text class="xl" style="font-size:7.2px" transform="translate(396.45 474.6) rotate(-45)">Mix-IVIG</text><path d="M315 340.5H397.4" stroke="#1a1a1a" stroke-width="1"/><text x="356.7" y="340.7" class="st">***</text><path d="M315 348.5H382.4" stroke="#1a1a1a" stroke-width="1"/><text x="349.2" y="348.7" class="st">**</text><path d="M315 355.5H363" stroke="#1a1a1a" stroke-width="1"/><text x="339.5" y="355.7" class="st">**</text><path d="M315 362.5H345.6" stroke="#1a1a1a" stroke-width="1"/><text x="330.8" y="362.7" class="st">*</text><path d="M315 369.5H331.6" stroke="#1a1a1a" stroke-width="1"/><text x="323.8" y="369.7" class="st">*</text><path d="M335 381.5H388.6" stroke="#1a1a1a" stroke-width="1"/><text x="362.3" y="381.7" class="st">****</text><path d="M335 387.5H381" stroke="#1a1a1a" stroke-width="1"/><text x="358.5" y="387.7" class="st">****</text><path d="M335 394.5H364" stroke="#1a1a1a" stroke-width="1"/><text x="350" y="394.7" class="st">****</text><path d="M335 400.5H347.6" stroke="#1a1a1a" stroke-width="1"/><text x="341.8" y="400.7" class="st">****</text><text x="277" y="347.5" class="lt">K</text><text class="yt" style="font-size:8.57px" transform="translate(283.5 465) rotate(-90)">IFN-γ<tspan dx="-4.29">（</tspan><tspan> pg/100μg protein）</tspan></text></g>
<g><rect x="447.6" y="429.88" width="10.6" height="33.12" fill="#95802f"/><rect x="463.7" y="427.29" width="10.6" height="35.71" fill="#a7a6ab"/><rect x="479.8" y="428.86" width="10.6" height="34.14" fill="#0e889b"/><rect x="495.9" y="437.9" width="10.6" height="25.1" fill="#f80306"/><rect x="512" y="437.9" width="10.6" height="25.1" fill="#0202f6"/><rect x="528.1" y="442.32" width="10.6" height="20.68" fill="#c900f2"/><rect x="453.24" y="430.96" width="1.4" height="1.4" fill="#222"/><rect x="454.51" y="422.1" width="1.4" height="1.4" fill="#222"/><rect x="452.51" y="428.44" width="1.4" height="1.4" fill="#222"/><rect x="450.32" y="426.56" width="1.4" height="1.4" fill="#222"/><rect x="452.15" y="430.17" width="1.4" height="1.4" fill="#222"/><rect x="451.88" y="424.16" width="1.4" height="1.4" fill="#222"/><rect x="450.71" y="431.7" width="1.4" height="1.4" fill="#222"/><rect x="452.41" y="437.21" width="1.4" height="1.4" fill="#222"/><rect x="449.84" y="423.99" width="1.4" height="1.4" fill="#222"/><rect x="454.21" y="424.72" width="1.4" height="1.4" fill="#222"/><rect x="452.89" y="436.37" width="1.4" height="1.4" fill="#222"/><rect x="452.81" y="427.74" width="1.4" height="1.4" fill="#222"/><rect x="454.29" y="427.71" width="1.4" height="1.4" fill="#222"/><rect x="452.93" y="426.58" width="1.4" height="1.4" fill="#222"/><rect x="451.01" y="418.56" width="1.4" height="1.4" fill="#222"/><rect x="450.98" y="427.55" width="1.4" height="1.4" fill="#222"/><rect x="450.47" y="429.17" width="1.4" height="1.4" fill="#222"/><rect x="449.93" y="432.41" width="1.4" height="1.4" fill="#222"/><rect x="453.52" y="402.36" width="1.4" height="1.4" fill="#222"/><rect x="453.83" y="411.5" width="1.4" height="1.4" fill="#222"/><rect x="466.1" y="427.78" width="1.4" height="1.4" fill="#222"/><rect x="468.62" y="422.62" width="1.4" height="1.4" fill="#222"/><rect x="468.92" y="434.67" width="1.4" height="1.4" fill="#222"/><rect x="469.83" y="435.88" width="1.4" height="1.4" fill="#222"/><rect x="469.29" y="423.07" width="1.4" height="1.4" fill="#222"/><rect x="470.24" y="428.33" width="1.4" height="1.4" fill="#222"/><rect x="470.44" y="423.96" width="1.4" height="1.4" fill="#222"/><rect x="468.27" y="435.88" width="1.4" height="1.4" fill="#222"/><rect x="468.3" y="426.86" width="1.4" height="1.4" fill="#222"/><rect x="466.66" y="432.33" width="1.4" height="1.4" fill="#222"/><rect x="467.34" y="421.76" width="1.4" height="1.4" fill="#222"/><rect x="468.69" y="417.7" width="1.4" height="1.4" fill="#222"/><rect x="466.29" y="429.23" width="1.4" height="1.4" fill="#222"/><rect x="469.2" y="420.98" width="1.4" height="1.4" fill="#222"/><rect x="466.69" y="432.47" width="1.4" height="1.4" fill="#222"/><rect x="468.03" y="428.55" width="1.4" height="1.4" fill="#222"/><rect x="470.56" y="424.25" width="1.4" height="1.4" fill="#222"/><rect x="466.33" y="430.76" width="1.4" height="1.4" fill="#222"/><rect x="466.09" y="407.44" width="1.4" height="1.4" fill="#222"/><rect x="468.01" y="411.5" width="1.4" height="1.4" fill="#222"/><rect x="484.13" y="420.69" width="1.4" height="1.4" fill="#222"/><rect x="484.7" y="410.5" width="1.4" height="1.4" fill="#222"/><rect x="483.67" y="410.5" width="1.4" height="1.4" fill="#222"/><rect x="482.94" y="427.73" width="1.4" height="1.4" fill="#222"/><rect x="482.41" y="414.28" width="1.4" height="1.4" fill="#222"/><rect x="483.55" y="445.98" width="1.4" height="1.4" fill="#222"/><rect x="484.21" y="437.51" width="1.4" height="1.4" fill="#222"/><rect x="486.66" y="423.43" width="1.4" height="1.4" fill="#222"/><rect x="486.36" y="436.3" width="1.4" height="1.4" fill="#222"/><rect x="486.15" y="441.28" width="1.4" height="1.4" fill="#222"/><rect x="486.68" y="438.44" width="1.4" height="1.4" fill="#222"/><rect x="486.62" y="422.61" width="1.4" height="1.4" fill="#222"/><rect x="484.98" y="445.79" width="1.4" height="1.4" fill="#222"/><rect x="485.89" y="421.02" width="1.4" height="1.4" fill="#222"/><rect x="482.29" y="415.37" width="1.4" height="1.4" fill="#222"/><rect x="485.25" y="446.62" width="1.4" height="1.4" fill="#222"/><rect x="484.92" y="422.66" width="1.4" height="1.4" fill="#222"/><rect x="483.43" y="418.92" width="1.4" height="1.4" fill="#222"/><rect x="484.74" y="408.45" width="1.4" height="1.4" fill="#222"/><rect x="486.57" y="381.53" width="1.4" height="1.4" fill="#222"/><rect x="498.97" y="443.96" width="1.4" height="1.4" fill="#222"/><rect x="502.37" y="436.38" width="1.4" height="1.4" fill="#222"/><rect x="500.73" y="438.52" width="1.4" height="1.4" fill="#222"/><rect x="498.64" y="433.09" width="1.4" height="1.4" fill="#222"/><rect x="502.24" y="436.36" width="1.4" height="1.4" fill="#222"/><rect x="499.32" y="437.95" width="1.4" height="1.4" fill="#222"/><rect x="498.56" y="434.54" width="1.4" height="1.4" fill="#222"/><rect x="500.65" y="430.72" width="1.4" height="1.4" fill="#222"/><rect x="499.31" y="439.09" width="1.4" height="1.4" fill="#222"/><rect x="500.45" y="436.56" width="1.4" height="1.4" fill="#222"/><rect x="500.76" y="439.63" width="1.4" height="1.4" fill="#222"/><rect x="499.19" y="441.05" width="1.4" height="1.4" fill="#222"/><rect x="500.85" y="441.48" width="1.4" height="1.4" fill="#222"/><rect x="498.64" y="439.58" width="1.4" height="1.4" fill="#222"/><rect x="500.56" y="443.18" width="1.4" height="1.4" fill="#222"/><rect x="500.92" y="438.34" width="1.4" height="1.4" fill="#222"/><rect x="498.49" y="439.05" width="1.4" height="1.4" fill="#222"/><rect x="500.06" y="435.8" width="1.4" height="1.4" fill="#222"/><rect x="514.48" y="434.23" width="1.4" height="1.4" fill="#222"/><rect x="515.34" y="435.72" width="1.4" height="1.4" fill="#222"/><rect x="515.99" y="434.65" width="1.4" height="1.4" fill="#222"/><rect x="514.27" y="440.16" width="1.4" height="1.4" fill="#222"/><rect x="517.05" y="438.35" width="1.4" height="1.4" fill="#222"/><rect x="515.22" y="441.64" width="1.4" height="1.4" fill="#222"/><rect x="515.64" y="432.96" width="1.4" height="1.4" fill="#222"/><rect x="517.6" y="432.96" width="1.4" height="1.4" fill="#222"/><rect x="516.24" y="437.46" width="1.4" height="1.4" fill="#222"/><rect x="518.47" y="438.62" width="1.4" height="1.4" fill="#222"/><rect x="517.18" y="435.72" width="1.4" height="1.4" fill="#222"/><rect x="518.39" y="439.9" width="1.4" height="1.4" fill="#222"/><rect x="516.9" y="433.48" width="1.4" height="1.4" fill="#222"/><rect x="518.6" y="432.96" width="1.4" height="1.4" fill="#222"/><rect x="518.38" y="441.64" width="1.4" height="1.4" fill="#222"/><rect x="515.01" y="439.26" width="1.4" height="1.4" fill="#222"/><rect x="517.78" y="433.72" width="1.4" height="1.4" fill="#222"/><rect x="515.84" y="433.16" width="1.4" height="1.4" fill="#222"/><rect x="532.44" y="441.1" width="1.4" height="1.4" fill="#222"/><rect x="534.32" y="447.41" width="1.4" height="1.4" fill="#222"/><rect x="533.09" y="440.68" width="1.4" height="1.4" fill="#222"/><rect x="530.85" y="443.46" width="1.4" height="1.4" fill="#222"/><rect x="530.4" y="446.22" width="1.4" height="1.4" fill="#222"/><rect x="530.83" y="436.92" width="1.4" height="1.4" fill="#222"/><rect x="534.14" y="436.09" width="1.4" height="1.4" fill="#222"/><rect x="531.19" y="443.69" width="1.4" height="1.4" fill="#222"/><rect x="532.96" y="436.35" width="1.4" height="1.4" fill="#222"/><rect x="531.69" y="440.15" width="1.4" height="1.4" fill="#222"/><rect x="533.6" y="437.51" width="1.4" height="1.4" fill="#222"/><rect x="532.13" y="438.65" width="1.4" height="1.4" fill="#222"/><rect x="530.99" y="440.98" width="1.4" height="1.4" fill="#222"/><rect x="534.5" y="443.49" width="1.4" height="1.4" fill="#222"/><rect x="532.88" y="436.24" width="1.4" height="1.4" fill="#222"/><rect x="533.61" y="444.35" width="1.4" height="1.4" fill="#222"/><rect x="534.18" y="441.7" width="1.4" height="1.4" fill="#222"/><rect x="534.85" y="438.99" width="1.4" height="1.4" fill="#222"/><path d="M452.9 420.23V439.53M450.36 420.23H455.44M450.36 439.53H455.44" stroke="#1a1a1a" stroke-width="0.9" fill="none"/><path d="M469 419.21V435.36M466.46 419.21H471.54M466.46 435.36H471.54" stroke="#1a1a1a" stroke-width="0.9" fill="none"/><path d="M485.1 412.81V444.92M482.56 412.81H487.64M482.56 444.92H487.64" stroke="#1a1a1a" stroke-width="0.9" fill="none"/><path d="M501.2 432.01V443.8M498.66 432.01H503.74M498.66 443.8H503.74" stroke="#1a1a1a" stroke-width="0.9" fill="none"/><path d="M517.3 434.04V441.77M514.76 434.04H519.84M514.76 441.77H519.84" stroke="#1a1a1a" stroke-width="0.9" fill="none"/><path d="M533.4 437.3V447.35M530.86 437.3H535.94M530.86 447.35H535.94" stroke="#1a1a1a" stroke-width="0.9" fill="none"/><path d="M442.5 361.4V463.5H543.6" stroke="#1a1a1a" stroke-width="1.3" fill="none"/><path d="M438.9 463.5H442.4" stroke="#1a1a1a" stroke-width="1"/><text x="437.4" y="465.7" class="tk" style="font-size:7.5px">0</text><path d="M438.9 437.5H442.4" stroke="#1a1a1a" stroke-width="1"/><text x="437.4" y="440.3" class="tk" style="font-size:7.5px">5</text><path d="M438.9 412.5H442.4" stroke="#1a1a1a" stroke-width="1"/><text x="437.4" y="414.9" class="tk" style="font-size:7.5px">10</text><path d="M438.9 386.5H442.4" stroke="#1a1a1a" stroke-width="1"/><text x="437.4" y="389.5" class="tk" style="font-size:7.5px">15</text><path d="M438.9 361.5H442.4" stroke="#1a1a1a" stroke-width="1"/><text x="437.4" y="364.1" class="tk" style="font-size:7.5px">20</text><path d="M452.5 463v3.8" stroke="#1a1a1a" stroke-width="1"/><text class="xl" style="font-size:7.2px" transform="translate(455.1 474) rotate(-45)">PBS</text><path d="M469.5 463v3.8" stroke="#1a1a1a" stroke-width="1"/><text class="xl" style="font-size:7.2px" transform="translate(471.2 474) rotate(-45)">AB</text><path d="M485.5 463v3.8" stroke="#1a1a1a" stroke-width="1"/><text class="xl" style="font-size:7.2px" transform="translate(487.3 474) rotate(-45)">WG</text><path d="M501.5 463v3.8" stroke="#1a1a1a" stroke-width="1"/><text class="xl" style="font-size:7.2px" transform="translate(503.4 474) rotate(-45)">F-IVIG</text><path d="M517.5 463v3.8" stroke="#1a1a1a" stroke-width="1"/><text class="xl" style="font-size:7.2px" transform="translate(519.5 474) rotate(-45)">M-IVIG</text><path d="M533.5 463v3.8" stroke="#1a1a1a" stroke-width="1"/><text class="xl" style="font-size:7.2px" transform="translate(535.6 474) rotate(-45)">Mix-IVIG</text><path d="M453.6 346.5H535" stroke="#1a1a1a" stroke-width="1"/><text x="494.8" y="346.7" class="st">****</text><path d="M453.6 353.5H513" stroke="#1a1a1a" stroke-width="1"/><text x="483.8" y="353.7" class="st">*</text><path d="M453.6 360.5H500.4" stroke="#1a1a1a" stroke-width="1"/><text x="477.5" y="360.7" class="st">*</text><path d="M470.4 367.5H536" stroke="#1a1a1a" stroke-width="1"/><text x="503.7" y="367.7" class="st">****</text><path d="M470.4 373.5H519.6" stroke="#1a1a1a" stroke-width="1"/><text x="495.5" y="373.7" class="st">**</text><path d="M470.4 379.5H501" stroke="#1a1a1a" stroke-width="1"/><text x="486.2" y="379.7" class="st">***</text><path d="M488.6 386.5H536.4" stroke="#1a1a1a" stroke-width="1"/><text x="513" y="386.7" class="st">***</text><path d="M488.6 393.5H519.4" stroke="#1a1a1a" stroke-width="1"/><text x="504.5" y="393.7" class="st">*</text><path d="M488.6 399.5H504.4" stroke="#1a1a1a" stroke-width="1"/><text x="497" y="399.7" class="st">*</text><text x="417" y="347.6" class="lt">L</text><text class="yt" style="font-size:8.7px" transform="translate(422.8 463.9) rotate(-90)">IL-1α<tspan dx="-4.35">（</tspan><tspan> pg/100μg protein）</tspan></text></g>
<g><rect x="39" y="601.92" width="10" height="26.08" fill="#95802f"/><rect x="54.32" y="594.19" width="10" height="33.81" fill="#a7a6ab"/><rect x="69.64" y="604.82" width="10" height="23.18" fill="#0e889b"/><rect x="84.96" y="598.05" width="10" height="29.95" fill="#f80306"/><rect x="100.28" y="608.97" width="10" height="19.03" fill="#0202f6"/><rect x="115.6" y="613.61" width="10" height="14.39" fill="#c900f2"/><rect x="42.48" y="594.87" width="1.4" height="1.4" fill="#222"/><rect x="41.94" y="600.67" width="1.4" height="1.4" fill="#222"/><rect x="45.19" y="596.43" width="1.4" height="1.4" fill="#222"/><rect x="43.73" y="594.55" width="1.4" height="1.4" fill="#222"/><rect x="41.11" y="592.5" width="1.4" height="1.4" fill="#222"/><rect x="41.71" y="610.15" width="1.4" height="1.4" fill="#222"/><rect x="42.63" y="596.91" width="1.4" height="1.4" fill="#222"/><rect x="43.15" y="600.24" width="1.4" height="1.4" fill="#222"/><rect x="43.67" y="596.85" width="1.4" height="1.4" fill="#222"/><rect x="42.76" y="610.76" width="1.4" height="1.4" fill="#222"/><rect x="42.6" y="607.39" width="1.4" height="1.4" fill="#222"/><rect x="40.93" y="596.28" width="1.4" height="1.4" fill="#222"/><rect x="43.68" y="593.9" width="1.4" height="1.4" fill="#222"/><rect x="42.5" y="591.65" width="1.4" height="1.4" fill="#222"/><rect x="41" y="611.22" width="1.4" height="1.4" fill="#222"/><rect x="43.11" y="592.45" width="1.4" height="1.4" fill="#222"/><rect x="45.63" y="603.34" width="1.4" height="1.4" fill="#222"/><rect x="41.12" y="602.99" width="1.4" height="1.4" fill="#222"/><rect x="41.6" y="586.73" width="1.4" height="1.4" fill="#222"/><rect x="60.04" y="600.13" width="1.4" height="1.4" fill="#222"/><rect x="60.41" y="605.74" width="1.4" height="1.4" fill="#222"/><rect x="60.73" y="596.49" width="1.4" height="1.4" fill="#222"/><rect x="59.49" y="573.15" width="1.4" height="1.4" fill="#222"/><rect x="57.68" y="595.21" width="1.4" height="1.4" fill="#222"/><rect x="59.88" y="570.9" width="1.4" height="1.4" fill="#222"/><rect x="59.77" y="618.6" width="1.4" height="1.4" fill="#222"/><rect x="58.66" y="601.2" width="1.4" height="1.4" fill="#222"/><rect x="59.27" y="588.89" width="1.4" height="1.4" fill="#222"/><rect x="57.9" y="593.72" width="1.4" height="1.4" fill="#222"/><rect x="58.86" y="618.6" width="1.4" height="1.4" fill="#222"/><rect x="58.17" y="604.64" width="1.4" height="1.4" fill="#222"/><rect x="56.51" y="572.53" width="1.4" height="1.4" fill="#222"/><rect x="57.84" y="615.15" width="1.4" height="1.4" fill="#222"/><rect x="57.77" y="610.1" width="1.4" height="1.4" fill="#222"/><rect x="60.96" y="611.88" width="1.4" height="1.4" fill="#222"/><rect x="58.53" y="602.74" width="1.4" height="1.4" fill="#222"/><rect x="57.98" y="582.71" width="1.4" height="1.4" fill="#222"/><rect x="57.39" y="553.88" width="1.4" height="1.4" fill="#222"/><rect x="57.35" y="564.51" width="1.4" height="1.4" fill="#222"/><rect x="71.92" y="608.01" width="1.4" height="1.4" fill="#222"/><rect x="72.4" y="598.7" width="1.4" height="1.4" fill="#222"/><rect x="74.33" y="587.11" width="1.4" height="1.4" fill="#222"/><rect x="76.28" y="602.98" width="1.4" height="1.4" fill="#222"/><rect x="73.25" y="616.97" width="1.4" height="1.4" fill="#222"/><rect x="75.26" y="600.22" width="1.4" height="1.4" fill="#222"/><rect x="73.6" y="613.65" width="1.4" height="1.4" fill="#222"/><rect x="75.71" y="608.51" width="1.4" height="1.4" fill="#222"/><rect x="71.87" y="601.88" width="1.4" height="1.4" fill="#222"/><rect x="73.87" y="600.12" width="1.4" height="1.4" fill="#222"/><rect x="75.86" y="607.49" width="1.4" height="1.4" fill="#222"/><rect x="72.86" y="594.05" width="1.4" height="1.4" fill="#222"/><rect x="72.78" y="606.4" width="1.4" height="1.4" fill="#222"/><rect x="71.65" y="619.6" width="1.4" height="1.4" fill="#222"/><rect x="72.33" y="593.7" width="1.4" height="1.4" fill="#222"/><rect x="72.83" y="608.44" width="1.4" height="1.4" fill="#222"/><rect x="74.92" y="589.72" width="1.4" height="1.4" fill="#222"/><rect x="72.59" y="611.89" width="1.4" height="1.4" fill="#222"/><rect x="73.46" y="583.83" width="1.4" height="1.4" fill="#222"/><rect x="87.88" y="593.49" width="1.4" height="1.4" fill="#222"/><rect x="88.43" y="585.36" width="1.4" height="1.4" fill="#222"/><rect x="90.46" y="588.55" width="1.4" height="1.4" fill="#222"/><rect x="89.97" y="607.46" width="1.4" height="1.4" fill="#222"/><rect x="88.81" y="592.4" width="1.4" height="1.4" fill="#222"/><rect x="90.12" y="584.6" width="1.4" height="1.4" fill="#222"/><rect x="88.48" y="585.12" width="1.4" height="1.4" fill="#222"/><rect x="87.14" y="600.24" width="1.4" height="1.4" fill="#222"/><rect x="88.85" y="584.6" width="1.4" height="1.4" fill="#222"/><rect x="87.08" y="589.28" width="1.4" height="1.4" fill="#222"/><rect x="89.87" y="591.34" width="1.4" height="1.4" fill="#222"/><rect x="88.47" y="603.32" width="1.4" height="1.4" fill="#222"/><rect x="89.23" y="593.44" width="1.4" height="1.4" fill="#222"/><rect x="89.73" y="592.82" width="1.4" height="1.4" fill="#222"/><rect x="88.09" y="610.68" width="1.4" height="1.4" fill="#222"/><rect x="89.08" y="601.71" width="1.4" height="1.4" fill="#222"/><rect x="86.93" y="610.68" width="1.4" height="1.4" fill="#222"/><rect x="91.3" y="610.68" width="1.4" height="1.4" fill="#222"/><rect x="89.57" y="579" width="1.4" height="1.4" fill="#222"/><rect x="91.6" y="580.93" width="1.4" height="1.4" fill="#222"/><rect x="103.42" y="592.96" width="1.4" height="1.4" fill="#222"/><rect x="105.59" y="602.65" width="1.4" height="1.4" fill="#222"/><rect x="105.84" y="609.98" width="1.4" height="1.4" fill="#222"/><rect x="105.9" y="618.7" width="1.4" height="1.4" fill="#222"/><rect x="103.66" y="602.53" width="1.4" height="1.4" fill="#222"/><rect x="105.89" y="604.45" width="1.4" height="1.4" fill="#222"/><rect x="106.87" y="595.66" width="1.4" height="1.4" fill="#222"/><rect x="104.36" y="592.5" width="1.4" height="1.4" fill="#222"/><rect x="103.52" y="592.01" width="1.4" height="1.4" fill="#222"/><rect x="104.69" y="596.66" width="1.4" height="1.4" fill="#222"/><rect x="106.7" y="621.3" width="1.4" height="1.4" fill="#222"/><rect x="102.81" y="601.45" width="1.4" height="1.4" fill="#222"/><rect x="102.22" y="621.05" width="1.4" height="1.4" fill="#222"/><rect x="104.46" y="616.21" width="1.4" height="1.4" fill="#222"/><rect x="105.33" y="617.09" width="1.4" height="1.4" fill="#222"/><rect x="105.9" y="621.67" width="1.4" height="1.4" fill="#222"/><rect x="103.92" y="617.72" width="1.4" height="1.4" fill="#222"/><rect x="106.93" y="592.01" width="1.4" height="1.4" fill="#222"/><rect x="103.28" y="583.83" width="1.4" height="1.4" fill="#222"/><rect x="122.22" y="612.79" width="1.4" height="1.4" fill="#222"/><rect x="119.89" y="615.76" width="1.4" height="1.4" fill="#222"/><rect x="120.55" y="609.44" width="1.4" height="1.4" fill="#222"/><rect x="119.15" y="612.29" width="1.4" height="1.4" fill="#222"/><rect x="121.34" y="605.7" width="1.4" height="1.4" fill="#222"/><rect x="119.71" y="610.04" width="1.4" height="1.4" fill="#222"/><rect x="119.05" y="616.82" width="1.4" height="1.4" fill="#222"/><rect x="121.84" y="614.32" width="1.4" height="1.4" fill="#222"/><rect x="118.02" y="607.08" width="1.4" height="1.4" fill="#222"/><rect x="121.02" y="615.22" width="1.4" height="1.4" fill="#222"/><rect x="117.81" y="610.48" width="1.4" height="1.4" fill="#222"/><rect x="120.6" y="609.6" width="1.4" height="1.4" fill="#222"/><rect x="119.43" y="614.05" width="1.4" height="1.4" fill="#222"/><rect x="121.65" y="622.35" width="1.4" height="1.4" fill="#222"/><rect x="117.79" y="612.07" width="1.4" height="1.4" fill="#222"/><rect x="120.21" y="611.55" width="1.4" height="1.4" fill="#222"/><rect x="119.47" y="612.05" width="1.4" height="1.4" fill="#222"/><rect x="121.91" y="617.73" width="1.4" height="1.4" fill="#222"/><path d="M44 593.22V610.61M41.6 593.22H46.4M41.6 610.61H46.4" stroke="#1a1a1a" stroke-width="0.9" fill="none"/><path d="M59.32 572.36V616.02M56.92 572.36H61.72M56.92 616.02H61.72" stroke="#1a1a1a" stroke-width="0.9" fill="none"/><path d="M74.64 589.36V620.27M72.24 589.36H77.04M72.24 620.27H77.04" stroke="#1a1a1a" stroke-width="0.9" fill="none"/><path d="M89.96 586.46V609.65M87.56 586.46H92.36M87.56 609.65H92.36" stroke="#1a1a1a" stroke-width="0.9" fill="none"/><path d="M105.28 594.19V623.75M102.88 594.19H107.68M102.88 623.75H107.68" stroke="#1a1a1a" stroke-width="0.9" fill="none"/><path d="M120.6 605.4V621.82M118.2 605.4H123M118.2 621.82H123" stroke="#1a1a1a" stroke-width="0.9" fill="none"/><path d="M32.5 531.4V628.5H131" stroke="#1a1a1a" stroke-width="1.3" fill="none"/><path d="M29.1 628.5H32.6" stroke="#1a1a1a" stroke-width="1"/><text x="27.6" y="630.7" class="tk" style="font-size:7.5px">0.00</text><path d="M29.1 608.5H32.6" stroke="#1a1a1a" stroke-width="1"/><text x="27.6" y="611.38" class="tk" style="font-size:7.5px">0.02</text><path d="M29.1 589.5H32.6" stroke="#1a1a1a" stroke-width="1"/><text x="27.6" y="592.06" class="tk" style="font-size:7.5px">0.04</text><path d="M29.1 570.5H32.6" stroke="#1a1a1a" stroke-width="1"/><text x="27.6" y="572.74" class="tk" style="font-size:7.5px">0.06</text><path d="M29.1 550.5H32.6" stroke="#1a1a1a" stroke-width="1"/><text x="27.6" y="553.42" class="tk" style="font-size:7.5px">0.08</text><path d="M29.1 531.5H32.6" stroke="#1a1a1a" stroke-width="1"/><text x="27.6" y="534.1" class="tk" style="font-size:7.5px">0.10</text><path d="M44.5 628v3.8" stroke="#1a1a1a" stroke-width="1"/><text class="xl" style="font-size:7.2px" transform="translate(46.2 639) rotate(-45)">PBS</text><path d="M59.5 628v3.8" stroke="#1a1a1a" stroke-width="1"/><text class="xl" style="font-size:7.2px" transform="translate(61.52 639) rotate(-45)">AB</text><path d="M74.5 628v3.8" stroke="#1a1a1a" stroke-width="1"/><text class="xl" style="font-size:7.2px" transform="translate(76.84 639) rotate(-45)">WG</text><path d="M89.5 628v3.8" stroke="#1a1a1a" stroke-width="1"/><text class="xl" style="font-size:7.2px" transform="translate(92.16 639) rotate(-45)">F-IVIG</text><path d="M105.5 628v3.8" stroke="#1a1a1a" stroke-width="1"/><text class="xl" style="font-size:7.2px" transform="translate(107.48 639) rotate(-45)">M-IVIG</text><path d="M120.5 628v3.8" stroke="#1a1a1a" stroke-width="1"/><text class="xl" style="font-size:7.2px" transform="translate(122.8 639) rotate(-45)">Mix-IVIG</text><path d="M59.6 550.5H123" stroke="#1a1a1a" stroke-width="1"/><text x="91.8" y="550.7" class="st">*</text><text x="4" y="511.5" class="lt">M</text><text class="yt" style="font-size:8.33px" transform="translate(8.9 628.8) rotate(-90)">IL-17<tspan dx="-4.17">（</tspan><tspan> pg/100μg protein）</tspan></text></g>
<g><rect x="167" y="594.44" width="11" height="24.16" fill="#95802f"/><rect x="183.52" y="590.01" width="11" height="28.59" fill="#a7a6ab"/><rect x="200.04" y="599" width="11" height="19.6" fill="#0e889b"/><rect x="216.56" y="603.44" width="11" height="15.16" fill="#f80306"/><rect x="233.08" y="608" width="11" height="10.6" fill="#0202f6"/><rect x="249.6" y="608.99" width="11" height="9.61" fill="#c900f2"/><rect x="173.01" y="574.72" width="1.4" height="1.4" fill="#222"/><rect x="173.35" y="600.6" width="1.4" height="1.4" fill="#222"/><rect x="170.76" y="591.96" width="1.4" height="1.4" fill="#222"/><rect x="170.99" y="582.92" width="1.4" height="1.4" fill="#222"/><rect x="171.73" y="594.93" width="1.4" height="1.4" fill="#222"/><rect x="173.68" y="578.43" width="1.4" height="1.4" fill="#222"/><rect x="170.18" y="592.61" width="1.4" height="1.4" fill="#222"/><rect x="172.68" y="584.11" width="1.4" height="1.4" fill="#222"/><rect x="172.27" y="592.55" width="1.4" height="1.4" fill="#222"/><rect x="171.57" y="614.36" width="1.4" height="1.4" fill="#222"/><rect x="172.18" y="607.62" width="1.4" height="1.4" fill="#222"/><rect x="173.64" y="573.95" width="1.4" height="1.4" fill="#222"/><rect x="170.41" y="589.85" width="1.4" height="1.4" fill="#222"/><rect x="173.64" y="575.46" width="1.4" height="1.4" fill="#222"/><rect x="171.13" y="577.87" width="1.4" height="1.4" fill="#222"/><rect x="173.14" y="573.95" width="1.4" height="1.4" fill="#222"/><rect x="173.54" y="586.01" width="1.4" height="1.4" fill="#222"/><rect x="170.28" y="602.05" width="1.4" height="1.4" fill="#222"/><rect x="173.55" y="559.97" width="1.4" height="1.4" fill="#222"/><rect x="186.08" y="567.85" width="1.4" height="1.4" fill="#222"/><rect x="187.05" y="590" width="1.4" height="1.4" fill="#222"/><rect x="189.72" y="577.03" width="1.4" height="1.4" fill="#222"/><rect x="189.23" y="587.41" width="1.4" height="1.4" fill="#222"/><rect x="186.1" y="585.84" width="1.4" height="1.4" fill="#222"/><rect x="188.34" y="589.87" width="1.4" height="1.4" fill="#222"/><rect x="187.03" y="576.9" width="1.4" height="1.4" fill="#222"/><rect x="187.99" y="597.01" width="1.4" height="1.4" fill="#222"/><rect x="186.42" y="590.32" width="1.4" height="1.4" fill="#222"/><rect x="186.02" y="600.83" width="1.4" height="1.4" fill="#222"/><rect x="190.68" y="570.4" width="1.4" height="1.4" fill="#222"/><rect x="187.44" y="555.54" width="1.4" height="1.4" fill="#222"/><rect x="190.14" y="569.68" width="1.4" height="1.4" fill="#222"/><rect x="186.5" y="576.81" width="1.4" height="1.4" fill="#222"/><rect x="188.26" y="554.19" width="1.4" height="1.4" fill="#222"/><rect x="186.57" y="609.17" width="1.4" height="1.4" fill="#222"/><rect x="187.98" y="554.19" width="1.4" height="1.4" fill="#222"/><rect x="186.78" y="615.47" width="1.4" height="1.4" fill="#222"/><rect x="189.21" y="527.93" width="1.4" height="1.4" fill="#222"/><rect x="186.63" y="532.86" width="1.4" height="1.4" fill="#222"/><rect x="189.46" y="540.25" width="1.4" height="1.4" fill="#222"/><rect x="188.32" y="555.04" width="1.4" height="1.4" fill="#222"/><rect x="202.49" y="588.42" width="1.4" height="1.4" fill="#222"/><rect x="205.74" y="589.88" width="1.4" height="1.4" fill="#222"/><rect x="205.57" y="617.78" width="1.4" height="1.4" fill="#222"/><rect x="205.05" y="597.57" width="1.4" height="1.4" fill="#222"/><rect x="205.07" y="603.96" width="1.4" height="1.4" fill="#222"/><rect x="205.75" y="590.45" width="1.4" height="1.4" fill="#222"/><rect x="207.16" y="579.19" width="1.4" height="1.4" fill="#222"/><rect x="206.64" y="604.15" width="1.4" height="1.4" fill="#222"/><rect x="205.89" y="599.6" width="1.4" height="1.4" fill="#222"/><rect x="204.36" y="609.33" width="1.4" height="1.4" fill="#222"/><rect x="203.97" y="593.49" width="1.4" height="1.4" fill="#222"/><rect x="204.45" y="588.52" width="1.4" height="1.4" fill="#222"/><rect x="207.11" y="594.55" width="1.4" height="1.4" fill="#222"/><rect x="204.3" y="596.57" width="1.4" height="1.4" fill="#222"/><rect x="204.29" y="612.52" width="1.4" height="1.4" fill="#222"/><rect x="204.41" y="599.09" width="1.4" height="1.4" fill="#222"/><rect x="203.13" y="610.67" width="1.4" height="1.4" fill="#222"/><rect x="207.23" y="602.9" width="1.4" height="1.4" fill="#222"/><rect x="202.47" y="561.2" width="1.4" height="1.4" fill="#222"/><rect x="218.96" y="615.9" width="1.4" height="1.4" fill="#222"/><rect x="222.54" y="615.93" width="1.4" height="1.4" fill="#222"/><rect x="223.06" y="603.35" width="1.4" height="1.4" fill="#222"/><rect x="221.41" y="581.89" width="1.4" height="1.4" fill="#222"/><rect x="221.8" y="610.81" width="1.4" height="1.4" fill="#222"/><rect x="223.73" y="594.87" width="1.4" height="1.4" fill="#222"/><rect x="220.09" y="600.34" width="1.4" height="1.4" fill="#222"/><rect x="221.98" y="595.59" width="1.4" height="1.4" fill="#222"/><rect x="222.53" y="588.07" width="1.4" height="1.4" fill="#222"/><rect x="220.78" y="615.9" width="1.4" height="1.4" fill="#222"/><rect x="222.38" y="598.68" width="1.4" height="1.4" fill="#222"/><rect x="220.85" y="605.37" width="1.4" height="1.4" fill="#222"/><rect x="221.49" y="607.36" width="1.4" height="1.4" fill="#222"/><rect x="221.9" y="615.37" width="1.4" height="1.4" fill="#222"/><rect x="222.21" y="614.37" width="1.4" height="1.4" fill="#222"/><rect x="220.51" y="617.88" width="1.4" height="1.4" fill="#222"/><rect x="221.98" y="617.58" width="1.4" height="1.4" fill="#222"/><rect x="221.57" y="581.86" width="1.4" height="1.4" fill="#222"/><rect x="220.03" y="555.04" width="1.4" height="1.4" fill="#222"/><rect x="221.9" y="559.97" width="1.4" height="1.4" fill="#222"/><rect x="239.45" y="608.84" width="1.4" height="1.4" fill="#222"/><rect x="239.77" y="597" width="1.4" height="1.4" fill="#222"/><rect x="239.65" y="617.85" width="1.4" height="1.4" fill="#222"/><rect x="235.69" y="605.3" width="1.4" height="1.4" fill="#222"/><rect x="237.31" y="615.75" width="1.4" height="1.4" fill="#222"/><rect x="239.47" y="608.48" width="1.4" height="1.4" fill="#222"/><rect x="239.41" y="606.55" width="1.4" height="1.4" fill="#222"/><rect x="236.07" y="603.22" width="1.4" height="1.4" fill="#222"/><rect x="236.22" y="599.05" width="1.4" height="1.4" fill="#222"/><rect x="236.69" y="611.35" width="1.4" height="1.4" fill="#222"/><rect x="235.97" y="616.37" width="1.4" height="1.4" fill="#222"/><rect x="237.19" y="608.68" width="1.4" height="1.4" fill="#222"/><rect x="239.34" y="605.16" width="1.4" height="1.4" fill="#222"/><rect x="237.98" y="612.4" width="1.4" height="1.4" fill="#222"/><rect x="237.65" y="600.78" width="1.4" height="1.4" fill="#222"/><rect x="235.9" y="597" width="1.4" height="1.4" fill="#222"/><rect x="237.38" y="617.69" width="1.4" height="1.4" fill="#222"/><rect x="240.27" y="604.65" width="1.4" height="1.4" fill="#222"/><rect x="255.45" y="611.28" width="1.4" height="1.4" fill="#222"/><rect x="253.32" y="616.6" width="1.4" height="1.4" fill="#222"/><rect x="253.56" y="617.3" width="1.4" height="1.4" fill="#222"/><rect x="253.16" y="606.32" width="1.4" height="1.4" fill="#222"/><rect x="256" y="608.03" width="1.4" height="1.4" fill="#222"/><rect x="252.44" y="612.89" width="1.4" height="1.4" fill="#222"/><rect x="255.05" y="611.57" width="1.4" height="1.4" fill="#222"/><rect x="256.12" y="615.29" width="1.4" height="1.4" fill="#222"/><rect x="252.97" y="614.19" width="1.4" height="1.4" fill="#222"/><rect x="254.03" y="609.06" width="1.4" height="1.4" fill="#222"/><rect x="255.8" y="613.36" width="1.4" height="1.4" fill="#222"/><rect x="254.97" y="602.94" width="1.4" height="1.4" fill="#222"/><rect x="253.78" y="609.41" width="1.4" height="1.4" fill="#222"/><rect x="252.21" y="607.25" width="1.4" height="1.4" fill="#222"/><rect x="254.12" y="605.09" width="1.4" height="1.4" fill="#222"/><rect x="253.76" y="598.27" width="1.4" height="1.4" fill="#222"/><rect x="255.42" y="603.55" width="1.4" height="1.4" fill="#222"/><rect x="253.42" y="606.49" width="1.4" height="1.4" fill="#222"/><path d="M172.5 576.45V612.44M169.86 576.45H175.14M169.86 612.44H175.14" stroke="#1a1a1a" stroke-width="0.9" fill="none"/><path d="M189.02 558.08V621.93M186.38 558.08H191.66M186.38 621.93H191.66" stroke="#1a1a1a" stroke-width="0.9" fill="none"/><path d="M205.54 581.62V616.38M202.9 581.62H208.18M202.9 616.38H208.18" stroke="#1a1a1a" stroke-width="0.9" fill="none"/><path d="M222.06 584.46V622.42M219.42 584.46H224.7M219.42 622.42H224.7" stroke="#1a1a1a" stroke-width="0.9" fill="none"/><path d="M238.58 598.63V617.37M235.94 598.63H241.22M235.94 617.37H241.22" stroke="#1a1a1a" stroke-width="0.9" fill="none"/><path d="M255.1 598.88V619.09M252.46 598.88H257.74M252.46 619.09H257.74" stroke="#1a1a1a" stroke-width="0.9" fill="none"/><path d="M162.5 520V624.5H266.4" stroke="#1a1a1a" stroke-width="1.3" fill="none"/><path d="M162.5 618.5H266.4" stroke="#1a1a1a" stroke-width="1.3" fill="none"/><path d="M158.9 618.5H162.4" stroke="#1a1a1a" stroke-width="1"/><text x="157.4" y="621.3" class="tk" style="font-size:7.5px">0</text><path d="M158.9 593.5H162.4" stroke="#1a1a1a" stroke-width="1"/><text x="157.4" y="596.65" class="tk" style="font-size:7.5px">2</text><path d="M158.9 569.5H162.4" stroke="#1a1a1a" stroke-width="1"/><text x="157.4" y="572" class="tk" style="font-size:7.5px">4</text><path d="M158.9 544.5H162.4" stroke="#1a1a1a" stroke-width="1"/><text x="157.4" y="547.35" class="tk" style="font-size:7.5px">6</text><path d="M158.9 520.5H162.4" stroke="#1a1a1a" stroke-width="1"/><text x="157.4" y="522.7" class="tk" style="font-size:7.5px">8</text><path d="M172.5 624.4v3.8" stroke="#1a1a1a" stroke-width="1"/><text class="xl" style="font-size:7.2px" transform="translate(174.7 635.4) rotate(-45)">PBS</text><path d="M189.5 624.4v3.8" stroke="#1a1a1a" stroke-width="1"/><text class="xl" style="font-size:7.2px" transform="translate(191.22 635.4) rotate(-45)">AB</text><path d="M205.5 624.4v3.8" stroke="#1a1a1a" stroke-width="1"/><text class="xl" style="font-size:7.2px" transform="translate(207.74 635.4) rotate(-45)">WG</text><path d="M222.5 624.4v3.8" stroke="#1a1a1a" stroke-width="1"/><text class="xl" style="font-size:7.2px" transform="translate(224.26 635.4) rotate(-45)">F-IVIG</text><path d="M238.5 624.4v3.8" stroke="#1a1a1a" stroke-width="1"/><text class="xl" style="font-size:7.2px" transform="translate(240.78 635.4) rotate(-45)">M-IVIG</text><path d="M255.5 624.4v3.8" stroke="#1a1a1a" stroke-width="1"/><text class="xl" style="font-size:7.2px" transform="translate(257.3 635.4) rotate(-45)">Mix-IVIG</text><path d="M189 516.5H253.4" stroke="#1a1a1a" stroke-width="1"/><text x="221.7" y="516.7" class="st">*</text><path d="M189 524.5H236.6" stroke="#1a1a1a" stroke-width="1"/><text x="213.3" y="524.7" class="st">*</text><text x="141" y="511" class="lt">N</text><text class="yt" style="font-size:8.96px" transform="translate(146 625.6) rotate(-90)">IP-10<tspan dx="-4.48">（</tspan><tspan> pg/100μg protein）</tspan></text></g>
<g><rect x="313.4" y="602.65" width="10.1" height="16.35" fill="#95802f"/><rect x="328.72" y="600.9" width="10.1" height="18.1" fill="#a7a6ab"/><rect x="344.04" y="605.57" width="10.1" height="13.43" fill="#0e889b"/><rect x="359.36" y="614.62" width="10.1" height="4.38" fill="#f80306"/><rect x="374.68" y="609.07" width="10.1" height="9.93" fill="#0202f6"/><rect x="390" y="612.58" width="10.1" height="6.42" fill="#c900f2"/><rect x="319.68" y="616.08" width="1.4" height="1.4" fill="#222"/><rect x="318.98" y="592.72" width="1.4" height="1.4" fill="#222"/><rect x="315.47" y="597.89" width="1.4" height="1.4" fill="#222"/><rect x="318.2" y="612.05" width="1.4" height="1.4" fill="#222"/><rect x="317.57" y="613.49" width="1.4" height="1.4" fill="#222"/><rect x="317.57" y="591.82" width="1.4" height="1.4" fill="#222"/><rect x="319.38" y="595.16" width="1.4" height="1.4" fill="#222"/><rect x="317.34" y="605.41" width="1.4" height="1.4" fill="#222"/><rect x="317.62" y="585.89" width="1.4" height="1.4" fill="#222"/><rect x="319.62" y="605.24" width="1.4" height="1.4" fill="#222"/><rect x="317.46" y="613.97" width="1.4" height="1.4" fill="#222"/><rect x="317.71" y="589.52" width="1.4" height="1.4" fill="#222"/><rect x="317.81" y="604.09" width="1.4" height="1.4" fill="#222"/><rect x="319.31" y="598.02" width="1.4" height="1.4" fill="#222"/><rect x="318.57" y="601.52" width="1.4" height="1.4" fill="#222"/><rect x="318.9" y="613.35" width="1.4" height="1.4" fill="#222"/><rect x="317.28" y="615.45" width="1.4" height="1.4" fill="#222"/><rect x="315.54" y="604.16" width="1.4" height="1.4" fill="#222"/><rect x="318.61" y="573.33" width="1.4" height="1.4" fill="#222"/><rect x="333.47" y="617.99" width="1.4" height="1.4" fill="#222"/><rect x="335.46" y="607.23" width="1.4" height="1.4" fill="#222"/><rect x="334.59" y="599.42" width="1.4" height="1.4" fill="#222"/><rect x="334.86" y="606.36" width="1.4" height="1.4" fill="#222"/><rect x="331.37" y="599.29" width="1.4" height="1.4" fill="#222"/><rect x="332.27" y="595.32" width="1.4" height="1.4" fill="#222"/><rect x="333.16" y="597.84" width="1.4" height="1.4" fill="#222"/><rect x="330.7" y="605.42" width="1.4" height="1.4" fill="#222"/><rect x="335.42" y="583.17" width="1.4" height="1.4" fill="#222"/><rect x="331.99" y="589.29" width="1.4" height="1.4" fill="#222"/><rect x="331.93" y="604.02" width="1.4" height="1.4" fill="#222"/><rect x="332.17" y="601.84" width="1.4" height="1.4" fill="#222"/><rect x="331.89" y="608.39" width="1.4" height="1.4" fill="#222"/><rect x="334.79" y="617.9" width="1.4" height="1.4" fill="#222"/><rect x="333.34" y="604.33" width="1.4" height="1.4" fill="#222"/><rect x="333.12" y="599.75" width="1.4" height="1.4" fill="#222"/><rect x="332.69" y="604.86" width="1.4" height="1.4" fill="#222"/><rect x="330.92" y="612.2" width="1.4" height="1.4" fill="#222"/><rect x="332.13" y="555.81" width="1.4" height="1.4" fill="#222"/><rect x="348.55" y="589.1" width="1.4" height="1.4" fill="#222"/><rect x="347.95" y="617.08" width="1.4" height="1.4" fill="#222"/><rect x="348.7" y="598.6" width="1.4" height="1.4" fill="#222"/><rect x="347.54" y="612.77" width="1.4" height="1.4" fill="#222"/><rect x="347.3" y="603.6" width="1.4" height="1.4" fill="#222"/><rect x="349.81" y="600.78" width="1.4" height="1.4" fill="#222"/><rect x="347.39" y="617.19" width="1.4" height="1.4" fill="#222"/><rect x="349.4" y="607.77" width="1.4" height="1.4" fill="#222"/><rect x="349.84" y="617.9" width="1.4" height="1.4" fill="#222"/><rect x="348.83" y="601.49" width="1.4" height="1.4" fill="#222"/><rect x="348.17" y="615.66" width="1.4" height="1.4" fill="#222"/><rect x="350.48" y="611.14" width="1.4" height="1.4" fill="#222"/><rect x="348.13" y="602.09" width="1.4" height="1.4" fill="#222"/><rect x="350.2" y="613.16" width="1.4" height="1.4" fill="#222"/><rect x="346.27" y="590.29" width="1.4" height="1.4" fill="#222"/><rect x="348.07" y="612.96" width="1.4" height="1.4" fill="#222"/><rect x="349.06" y="594.09" width="1.4" height="1.4" fill="#222"/><rect x="346.23" y="601.28" width="1.4" height="1.4" fill="#222"/><rect x="350.13" y="569.83" width="1.4" height="1.4" fill="#222"/><rect x="346.34" y="577.42" width="1.4" height="1.4" fill="#222"/><rect x="363.3" y="614.77" width="1.4" height="1.4" fill="#222"/><rect x="364.47" y="614.51" width="1.4" height="1.4" fill="#222"/><rect x="362.55" y="612.07" width="1.4" height="1.4" fill="#222"/><rect x="365.66" y="614.9" width="1.4" height="1.4" fill="#222"/><rect x="364.6" y="613.32" width="1.4" height="1.4" fill="#222"/><rect x="362.05" y="615.74" width="1.4" height="1.4" fill="#222"/><rect x="361.58" y="615.05" width="1.4" height="1.4" fill="#222"/><rect x="364.65" y="616.1" width="1.4" height="1.4" fill="#222"/><rect x="361.51" y="614.23" width="1.4" height="1.4" fill="#222"/><rect x="365.32" y="612.84" width="1.4" height="1.4" fill="#222"/><rect x="362.72" y="613.44" width="1.4" height="1.4" fill="#222"/><rect x="362.43" y="614.7" width="1.4" height="1.4" fill="#222"/><rect x="364.1" y="612.95" width="1.4" height="1.4" fill="#222"/><rect x="362.84" y="614.47" width="1.4" height="1.4" fill="#222"/><rect x="364" y="613.33" width="1.4" height="1.4" fill="#222"/><rect x="362.05" y="613.49" width="1.4" height="1.4" fill="#222"/><rect x="365.69" y="613.06" width="1.4" height="1.4" fill="#222"/><rect x="362.87" y="616.27" width="1.4" height="1.4" fill="#222"/><rect x="381.06" y="604.15" width="1.4" height="1.4" fill="#222"/><rect x="381.41" y="614.9" width="1.4" height="1.4" fill="#222"/><rect x="381.14" y="596.8" width="1.4" height="1.4" fill="#222"/><rect x="379.16" y="615.44" width="1.4" height="1.4" fill="#222"/><rect x="378.03" y="611.1" width="1.4" height="1.4" fill="#222"/><rect x="378.3" y="606.16" width="1.4" height="1.4" fill="#222"/><rect x="380.23" y="617.04" width="1.4" height="1.4" fill="#222"/><rect x="379.01" y="595.1" width="1.4" height="1.4" fill="#222"/><rect x="381.09" y="605.54" width="1.4" height="1.4" fill="#222"/><rect x="377.08" y="591.59" width="1.4" height="1.4" fill="#222"/><rect x="378.96" y="595.77" width="1.4" height="1.4" fill="#222"/><rect x="380.78" y="599.97" width="1.4" height="1.4" fill="#222"/><rect x="379.5" y="610.33" width="1.4" height="1.4" fill="#222"/><rect x="379.23" y="617.01" width="1.4" height="1.4" fill="#222"/><rect x="377.05" y="611.26" width="1.4" height="1.4" fill="#222"/><rect x="377.3" y="614.39" width="1.4" height="1.4" fill="#222"/><rect x="377.93" y="605.1" width="1.4" height="1.4" fill="#222"/><rect x="380.92" y="614.46" width="1.4" height="1.4" fill="#222"/><rect x="380.69" y="573.92" width="1.4" height="1.4" fill="#222"/><rect x="392.41" y="610.21" width="1.4" height="1.4" fill="#222"/><rect x="394.6" y="604.81" width="1.4" height="1.4" fill="#222"/><rect x="395.73" y="605.07" width="1.4" height="1.4" fill="#222"/><rect x="394.81" y="610.47" width="1.4" height="1.4" fill="#222"/><rect x="394.16" y="607.25" width="1.4" height="1.4" fill="#222"/><rect x="392.11" y="612.84" width="1.4" height="1.4" fill="#222"/><rect x="394.41" y="604.82" width="1.4" height="1.4" fill="#222"/><rect x="392.42" y="614.45" width="1.4" height="1.4" fill="#222"/><rect x="395.05" y="607.48" width="1.4" height="1.4" fill="#222"/><rect x="392.58" y="610.44" width="1.4" height="1.4" fill="#222"/><rect x="394.72" y="615.56" width="1.4" height="1.4" fill="#222"/><rect x="393.64" y="610.67" width="1.4" height="1.4" fill="#222"/><rect x="393.75" y="612.03" width="1.4" height="1.4" fill="#222"/><rect x="395.13" y="615.1" width="1.4" height="1.4" fill="#222"/><rect x="392.74" y="610.86" width="1.4" height="1.4" fill="#222"/><rect x="392.76" y="616.08" width="1.4" height="1.4" fill="#222"/><rect x="396.47" y="605.91" width="1.4" height="1.4" fill="#222"/><rect x="393.54" y="609.1" width="1.4" height="1.4" fill="#222"/><path d="M318.45 588.05V617.25M316.03 588.05H320.87M316.03 617.25H320.87" stroke="#1a1a1a" stroke-width="0.9" fill="none"/><path d="M333.77 585.42V616.37M331.35 585.42H336.19M331.35 616.37H336.19" stroke="#1a1a1a" stroke-width="0.9" fill="none"/><path d="M349.09 589.22V621.92M346.67 589.22H351.51M346.67 621.92H351.51" stroke="#1a1a1a" stroke-width="0.9" fill="none"/><path d="M364.41 612.58V616.66M361.99 612.58H366.83M361.99 616.66H366.83" stroke="#1a1a1a" stroke-width="0.9" fill="none"/><path d="M379.73 592.14V626.01M377.31 592.14H382.15M377.31 626.01H382.15" stroke="#1a1a1a" stroke-width="0.9" fill="none"/><path d="M395.05 606.15V619M392.63 606.15H397.47M392.63 619H397.47" stroke="#1a1a1a" stroke-width="0.9" fill="none"/><path d="M306.5 531.4V628.5H405" stroke="#1a1a1a" stroke-width="1.3" fill="none"/><path d="M306.5 619.5H405" stroke="#1a1a1a" stroke-width="1.3" fill="none"/><path d="M303.1 619.5H306.6" stroke="#1a1a1a" stroke-width="1"/><text x="301.6" y="621.7" class="tk" style="font-size:7.5px">0.00</text><path d="M303.1 589.5H306.6" stroke="#1a1a1a" stroke-width="1"/><text x="301.6" y="592.5" class="tk" style="font-size:7.5px">0.05</text><path d="M303.1 560.5H306.6" stroke="#1a1a1a" stroke-width="1"/><text x="301.6" y="563.3" class="tk" style="font-size:7.5px">0.10</text><path d="M303.1 531.5H306.6" stroke="#1a1a1a" stroke-width="1"/><text x="301.6" y="534.1" class="tk" style="font-size:7.5px">0.15</text><path d="M318.5 628v3.8" stroke="#1a1a1a" stroke-width="1"/><text class="xl" style="font-size:7.2px" transform="translate(320.65 639) rotate(-45)">PBS</text><path d="M333.5 628v3.8" stroke="#1a1a1a" stroke-width="1"/><text class="xl" style="font-size:7.2px" transform="translate(335.97 639) rotate(-45)">AB</text><path d="M349.5 628v3.8" stroke="#1a1a1a" stroke-width="1"/><text class="xl" style="font-size:7.2px" transform="translate(351.29 639) rotate(-45)">WG</text><path d="M364.5 628v3.8" stroke="#1a1a1a" stroke-width="1"/><text class="xl" style="font-size:7.2px" transform="translate(366.61 639) rotate(-45)">F-IVIG</text><path d="M379.5 628v3.8" stroke="#1a1a1a" stroke-width="1"/><text class="xl" style="font-size:7.2px" transform="translate(381.93 639) rotate(-45)">M-IVIG</text><path d="M395.5 628v3.8" stroke="#1a1a1a" stroke-width="1"/><text class="xl" style="font-size:7.2px" transform="translate(397.25 639) rotate(-45)">Mix-IVIG</text><text x="275" y="511" class="lt">O</text><text class="yt" style="font-size:7.99px" transform="translate(283.4 631.5) rotate(-90)">GM-CSF<tspan dx="-4">（</tspan><tspan>pg/100μg protein）</tspan></text></g>
<g><rect x="452" y="609.14" width="10.4" height="12.66" fill="#95802f"/><rect x="467.32" y="608.54" width="10.4" height="13.26" fill="#a7a6ab"/><rect x="482.64" y="612.16" width="10.4" height="9.64" fill="#0e889b"/><rect x="497.96" y="613.18" width="10.4" height="8.62" fill="#f80306"/><rect x="513.28" y="612.16" width="10.4" height="9.64" fill="#0202f6"/><rect x="528.6" y="616.98" width="10.4" height="4.82" fill="#c900f2"/><rect x="454.71" y="605.76" width="1.4" height="1.4" fill="#222"/><rect x="455.25" y="611.91" width="1.4" height="1.4" fill="#222"/><rect x="458.28" y="609.8" width="1.4" height="1.4" fill="#222"/><rect x="456.51" y="608.27" width="1.4" height="1.4" fill="#222"/><rect x="458.37" y="605.13" width="1.4" height="1.4" fill="#222"/><rect x="454.17" y="605.68" width="1.4" height="1.4" fill="#222"/><rect x="458.63" y="606.35" width="1.4" height="1.4" fill="#222"/><rect x="456.44" y="606.55" width="1.4" height="1.4" fill="#222"/><rect x="457.9" y="609.62" width="1.4" height="1.4" fill="#222"/><rect x="456.84" y="608.71" width="1.4" height="1.4" fill="#222"/><rect x="457.41" y="609.86" width="1.4" height="1.4" fill="#222"/><rect x="455.2" y="608.15" width="1.4" height="1.4" fill="#222"/><rect x="457.7" y="611.24" width="1.4" height="1.4" fill="#222"/><rect x="454.84" y="609.08" width="1.4" height="1.4" fill="#222"/><rect x="455.37" y="609.52" width="1.4" height="1.4" fill="#222"/><rect x="454.25" y="607.26" width="1.4" height="1.4" fill="#222"/><rect x="455.99" y="609.78" width="1.4" height="1.4" fill="#222"/><rect x="456.59" y="607.52" width="1.4" height="1.4" fill="#222"/><rect x="471.64" y="615.24" width="1.4" height="1.4" fill="#222"/><rect x="473.84" y="589.28" width="1.4" height="1.4" fill="#222"/><rect x="469.47" y="592.53" width="1.4" height="1.4" fill="#222"/><rect x="473.93" y="598.87" width="1.4" height="1.4" fill="#222"/><rect x="471.4" y="606.01" width="1.4" height="1.4" fill="#222"/><rect x="471.37" y="589.78" width="1.4" height="1.4" fill="#222"/><rect x="469.84" y="603.33" width="1.4" height="1.4" fill="#222"/><rect x="470.6" y="619.26" width="1.4" height="1.4" fill="#222"/><rect x="472.94" y="598.47" width="1.4" height="1.4" fill="#222"/><rect x="472.68" y="603.98" width="1.4" height="1.4" fill="#222"/><rect x="470.15" y="619.26" width="1.4" height="1.4" fill="#222"/><rect x="471.07" y="619.26" width="1.4" height="1.4" fill="#222"/><rect x="470.09" y="589.73" width="1.4" height="1.4" fill="#222"/><rect x="470.37" y="603.04" width="1.4" height="1.4" fill="#222"/><rect x="470.47" y="616.7" width="1.4" height="1.4" fill="#222"/><rect x="471.01" y="619.26" width="1.4" height="1.4" fill="#222"/><rect x="474.1" y="621.04" width="1.4" height="1.4" fill="#222"/><rect x="474.21" y="589.28" width="1.4" height="1.4" fill="#222"/><rect x="473.22" y="550.59" width="1.4" height="1.4" fill="#222"/><rect x="488.72" y="615.78" width="1.4" height="1.4" fill="#222"/><rect x="489.24" y="610.9" width="1.4" height="1.4" fill="#222"/><rect x="489.08" y="609.97" width="1.4" height="1.4" fill="#222"/><rect x="488.32" y="616.79" width="1.4" height="1.4" fill="#222"/><rect x="488.74" y="611.41" width="1.4" height="1.4" fill="#222"/><rect x="488.59" y="616.74" width="1.4" height="1.4" fill="#222"/><rect x="487.57" y="609.82" width="1.4" height="1.4" fill="#222"/><rect x="486.83" y="606.52" width="1.4" height="1.4" fill="#222"/><rect x="488.7" y="607.77" width="1.4" height="1.4" fill="#222"/><rect x="488.51" y="616.79" width="1.4" height="1.4" fill="#222"/><rect x="488.92" y="606.52" width="1.4" height="1.4" fill="#222"/><rect x="486.18" y="608.22" width="1.4" height="1.4" fill="#222"/><rect x="489.35" y="612.75" width="1.4" height="1.4" fill="#222"/><rect x="487.29" y="609.66" width="1.4" height="1.4" fill="#222"/><rect x="489.28" y="606.35" width="1.4" height="1.4" fill="#222"/><rect x="485.3" y="612.64" width="1.4" height="1.4" fill="#222"/><rect x="489.39" y="611.51" width="1.4" height="1.4" fill="#222"/><rect x="488.52" y="613.46" width="1.4" height="1.4" fill="#222"/><rect x="503.19" y="612.55" width="1.4" height="1.4" fill="#222"/><rect x="504.07" y="608.7" width="1.4" height="1.4" fill="#222"/><rect x="501.69" y="612.28" width="1.4" height="1.4" fill="#222"/><rect x="502.92" y="610.67" width="1.4" height="1.4" fill="#222"/><rect x="504.07" y="614.43" width="1.4" height="1.4" fill="#222"/><rect x="503.87" y="611.95" width="1.4" height="1.4" fill="#222"/><rect x="500.08" y="616.43" width="1.4" height="1.4" fill="#222"/><rect x="502.41" y="612.2" width="1.4" height="1.4" fill="#222"/><rect x="500.14" y="614.19" width="1.4" height="1.4" fill="#222"/><rect x="500.59" y="616.43" width="1.4" height="1.4" fill="#222"/><rect x="503.96" y="616.23" width="1.4" height="1.4" fill="#222"/><rect x="502.07" y="609.46" width="1.4" height="1.4" fill="#222"/><rect x="502.96" y="611.35" width="1.4" height="1.4" fill="#222"/><rect x="502.26" y="616.43" width="1.4" height="1.4" fill="#222"/><rect x="501.67" y="608.7" width="1.4" height="1.4" fill="#222"/><rect x="501.09" y="614.32" width="1.4" height="1.4" fill="#222"/><rect x="501.76" y="613.46" width="1.4" height="1.4" fill="#222"/><rect x="504.11" y="611.83" width="1.4" height="1.4" fill="#222"/><rect x="518.31" y="612.63" width="1.4" height="1.4" fill="#222"/><rect x="519.67" y="612.55" width="1.4" height="1.4" fill="#222"/><rect x="517.27" y="610.15" width="1.4" height="1.4" fill="#222"/><rect x="517.78" y="610.65" width="1.4" height="1.4" fill="#222"/><rect x="519.97" y="612.09" width="1.4" height="1.4" fill="#222"/><rect x="517.81" y="613.44" width="1.4" height="1.4" fill="#222"/><rect x="520.13" y="613.31" width="1.4" height="1.4" fill="#222"/><rect x="516.29" y="614.23" width="1.4" height="1.4" fill="#222"/><rect x="519.37" y="609.34" width="1.4" height="1.4" fill="#222"/><rect x="516.16" y="609.45" width="1.4" height="1.4" fill="#222"/><rect x="517.91" y="608.81" width="1.4" height="1.4" fill="#222"/><rect x="515.38" y="610.53" width="1.4" height="1.4" fill="#222"/><rect x="516.22" y="610.84" width="1.4" height="1.4" fill="#222"/><rect x="519.92" y="610.05" width="1.4" height="1.4" fill="#222"/><rect x="517.56" y="609.69" width="1.4" height="1.4" fill="#222"/><rect x="519.27" y="611.94" width="1.4" height="1.4" fill="#222"/><rect x="516.58" y="610.8" width="1.4" height="1.4" fill="#222"/><rect x="517.07" y="608.81" width="1.4" height="1.4" fill="#222"/><rect x="535.05" y="613.32" width="1.4" height="1.4" fill="#222"/><rect x="533.09" y="614.1" width="1.4" height="1.4" fill="#222"/><rect x="532.45" y="614.03" width="1.4" height="1.4" fill="#222"/><rect x="535.39" y="618.92" width="1.4" height="1.4" fill="#222"/><rect x="530.97" y="620.44" width="1.4" height="1.4" fill="#222"/><rect x="534.71" y="612.3" width="1.4" height="1.4" fill="#222"/><rect x="533.98" y="612.91" width="1.4" height="1.4" fill="#222"/><rect x="533.38" y="618.93" width="1.4" height="1.4" fill="#222"/><rect x="532.85" y="612.68" width="1.4" height="1.4" fill="#222"/><rect x="534.31" y="614.42" width="1.4" height="1.4" fill="#222"/><rect x="534.98" y="620.44" width="1.4" height="1.4" fill="#222"/><rect x="534.2" y="613.77" width="1.4" height="1.4" fill="#222"/><rect x="534.3" y="619.03" width="1.4" height="1.4" fill="#222"/><rect x="530.87" y="613.03" width="1.4" height="1.4" fill="#222"/><rect x="532.26" y="618.18" width="1.4" height="1.4" fill="#222"/><rect x="531.36" y="618.35" width="1.4" height="1.4" fill="#222"/><rect x="535.27" y="620.44" width="1.4" height="1.4" fill="#222"/><rect x="534.98" y="616.88" width="1.4" height="1.4" fill="#222"/><path d="M457.2 606.13V612.16M454.7 606.13H459.7M454.7 612.16H459.7" stroke="#1a1a1a" stroke-width="0.9" fill="none"/><path d="M472.52 591.67V625.42M470.02 591.67H475.02M470.02 625.42H475.02" stroke="#1a1a1a" stroke-width="0.9" fill="none"/><path d="M487.84 607.52V616.8M485.34 607.52H490.34M485.34 616.8H490.34" stroke="#1a1a1a" stroke-width="0.9" fill="none"/><path d="M503.16 609.75V616.62M500.66 609.75H505.66M500.66 616.62H505.66" stroke="#1a1a1a" stroke-width="0.9" fill="none"/><path d="M518.48 609.75V614.57M515.98 609.75H520.98M515.98 614.57H520.98" stroke="#1a1a1a" stroke-width="0.9" fill="none"/><path d="M533.8 613.36V620.59M531.3 613.36H536.3M531.3 620.59H536.3" stroke="#1a1a1a" stroke-width="0.9" fill="none"/><path d="M446.5 531.4V628.5H544" stroke="#1a1a1a" stroke-width="1.3" fill="none"/><path d="M446.5 621.5H544" stroke="#1a1a1a" stroke-width="1.3" fill="none"/><path d="M442.8 621.5H446.3" stroke="#1a1a1a" stroke-width="1"/><text x="441.3" y="624.5" class="tk" style="font-size:7.5px">0.00</text><path d="M442.8 591.5H446.3" stroke="#1a1a1a" stroke-width="1"/><text x="441.3" y="594.37" class="tk" style="font-size:7.5px">0.05</text><path d="M442.8 561.5H446.3" stroke="#1a1a1a" stroke-width="1"/><text x="441.3" y="564.23" class="tk" style="font-size:7.5px">0.10</text><path d="M442.8 531.5H446.3" stroke="#1a1a1a" stroke-width="1"/><text x="441.3" y="534.1" class="tk" style="font-size:7.5px">0.15</text><path d="M457.5 628v3.8" stroke="#1a1a1a" stroke-width="1"/><text class="xl" style="font-size:7.2px" transform="translate(459.4 639) rotate(-45)">PBS</text><path d="M472.5 628v3.8" stroke="#1a1a1a" stroke-width="1"/><text class="xl" style="font-size:7.2px" transform="translate(474.72 639) rotate(-45)">AB</text><path d="M487.5 628v3.8" stroke="#1a1a1a" stroke-width="1"/><text class="xl" style="font-size:7.2px" transform="translate(490.04 639) rotate(-45)">WG</text><path d="M503.5 628v3.8" stroke="#1a1a1a" stroke-width="1"/><text class="xl" style="font-size:7.2px" transform="translate(505.36 639) rotate(-45)">F-IVIG</text><path d="M518.5 628v3.8" stroke="#1a1a1a" stroke-width="1"/><text class="xl" style="font-size:7.2px" transform="translate(520.68 639) rotate(-45)">M-IVIG</text><path d="M533.5 628v3.8" stroke="#1a1a1a" stroke-width="1"/><text class="xl" style="font-size:7.2px" transform="translate(536 639) rotate(-45)">Mix-IVIG</text><text x="416" y="511.5" class="lt">P</text><text class="yt" style="font-size:8.33px" transform="translate(422.6 626.6) rotate(-90)">IL-2<tspan dx="-4.17">（</tspan><tspan> pg/100μg protein）</tspan></text></g>
</svg></body></html>
